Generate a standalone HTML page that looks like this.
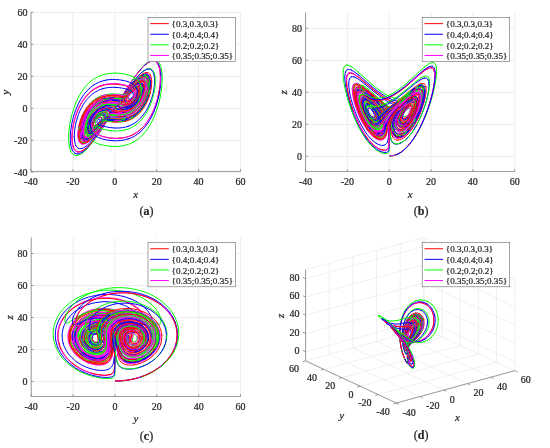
<!DOCTYPE html>
<html><head><meta charset="utf-8"><title>Figure</title>
<style>html,body{margin:0;padding:0;background:#fff}svg{display:block}
text{font-family:"Liberation Serif",serif;stroke:#262626;stroke-width:.22px}
.cv{fill:none;stroke-width:1.0;stroke-linejoin:round;stroke-linecap:round}
.r{stroke:#f00}.b{stroke:#00f}.g{stroke:#0f0}.m{stroke:#f0f}</style>
</head><body>
<svg width="550" height="448" viewBox="0 0 550 448" font-family="Liberation Serif, serif" font-size="10" fill="#262626">
<rect width="550" height="448" fill="#fff"/>
<g><path d="M31 12.4V172.3M72.9 12.4V172.3M114.8 12.4V172.3M156.7 12.4V172.3M198.6 12.4V172.3M240.5 12.4V172.3M31 172.3H240.5M31 140.32H240.5M31 108.34H240.5M31 76.36H240.5M31 44.38H240.5M31 12.4H240.5" stroke="#e6e6e6" stroke-width=".7" fill="none"/><g class="cv"><path class="g" d="M115.2 108l.1-.4 .5-1 7.7-12.6 4.5-7.1 4.3-6.6"/><path class="b" d="M115.6 107.7l.1-.5 .3-.7 2.1-3.6 6.7-10.9 5.2-8.1 3.4-5"/><path class="r" d="M115.4 107.9l.3-1 1.9-3.2 6-9.9 4.9-7.7 6.1-8.9"/><path class="m" d="M115.5 107.8l.3-1.1 1.7-2.8 6.3-10.3 5-7.9 6.2-9.1"/><path class="r" d="M114.7 108.5l-10.1 15.9M104.6 124.4l-6 8.9-3 4.1-2.8 3.6"/><path class="b" d="M133.4 78.9l3.3-4.6 3-3.8M114.8 108.4l-11.9 19-4.2 6.2-3.4 4.8-3.3 4.3-3.7 4.3"/><path class="g" d="M132.3 80.3l3.1-4.3 3.4-4.6 2.9-3.4M114.8 108.4l-12.8 20.5-4.8 7.1-3.7 5.2-3.5 4.3-3.7 4.2"/><path class="b" d="M106.9 120.2l-5.2 7.7-4.5 6.3-3.9 4.8"/><path class="m" d="M114.7 108.5l-10.1 15.8-6.5 9.8-5.4 7.1-2.5 2.9-2.6 2.8"/><path class="g" d="M124.7 93.7l5.6-8 5.4-7"/><path class="r" d="M134.6 77.2l5.2-6.7 2.1-2.4"/><path class="m" d="M135 76.6l2.5-3.3 2.8-3.4 2.2-2.4"/><path class="b" d="M123.8 95l5.7-8.3 4.9-6.3 2.2-2.7"/><path class="g" d="M115.8 107.3l.3-.6 8.6-13"/><path class="b" d="M114.1 108.7l0 .4-7.2 11.1M115.7 107.7l.1-.6 8-12.1"/><path class="m" d="M112.7 110.6l-1.2 2.1-4.2 6.1M107.3 118.8l-6.7 9.5-4.6 5.9-4.2 4.6"/><path class="b" d="M139.7 70.5l2.4-2.7 2.5-2.6"/><path class="r" d="M117.9 105.3l.4-.9 2-3.2 5.5-7.9 4.7-6.2"/><path class="m" d="M122.7 97.5l7.1-9.8 5-6.2 2.3-2.3M117.4 106.1l.2-.8 1.4-2.2 3.7-5.6"/><path class="r" d="M110 114.5l-6.1 8.8-4.7 6.3-3.8 4.6-3.5 3.6"/><path class="m" d="M113.8 107.9l.8 .4 .1 .2"/><path class="r" d="M117.9 104.3l10.2-14.8 5.6-7.2 3.2-3.6 2.5-2.3M111.9 111.8l-1.4 2.2-7.2 10.4-4.4 5.9-4 4.9-2.7 3-2.9 2.6"/><path class="b" d="M117.7 105.9l.2-.7 .6-1.3 1.4-2 6-8.8M125.9 93.1l4.6-6.1 3.8-4.6 3.4-3.6"/><path class="r" d="M92.8 141l-2.4 2.8-2.6 2.7-2 1.9"/><path class="b" d="M118.6 103.5l6.9-9.7 4-5.5 3.2-4 3.2-3.7 3-2.9"/><path class="r" d="M111.2 113l-10.3 14.6-3.1 4.1-2.9 3.4-2.7 2.9-2.9 2.6"/><path class="g" d="M110.1 114.2l-4.4 6.5-4.2 5.7-4 5.2-2.6 3.1-2.9 3-2.5 2.2"/><path class="r" d="M112 110.6l-.2 .7-.6 1.2-1.2 2"/><path class="b" d="M116.7 109.2l-1.9-.8"/><path class="g" d="M119.4 102.6l6.6-9.3 4.1-5.5 3.3-4 3.3-3.6 3-2.7M141.7 68l3-3.2 2.1-1.9"/><path class="r" d="M141.9 68.1l2.2-2.3 2.4-2"/><path class="g" d="M119.3 104.5l.2-.8 1.5-2.8 3.7-5.4M119.5 102.5l7.9-11 5.1-6.4 4.2-4.7 2.3-2.1"/><path class="m" d="M110 114.4l-8.5 11.6-3.1 3.9-2.5 2.9-2.4 2.5-2.5 2.2"/><path class="b" d="M93.3 139l-3.7 4.1-3.4 3"/><path class="r" d="M115.1 106.5l.7-.1 .5-.3 1.6-1.8"/><path class="g" d="M135.7 78.7l4.3-4.7 2.3-2.1"/><path class="r" d="M110.5 113.8l-8.7 12-3.1 4-2.5 3-2.4 2.6-2.5 2.4-2.3 1.7"/><path class="b" d="M121.3 100.4l4.4-6.2 4.3-5.7 3.8-4.5 2.6-2.6 2.7-2.4"/><path class="g" d="M124.7 95.5l4.4-5.9 3.9-4.7 3-3.2 2.7-2.5"/><path class="b" d="M118.4 104.6l.7-1.4 3.5-5.2 4.7-6.6 3.8-4.9 3.3-3.9 3.4-3.4 2.5-2.1 2.5-1.5M106.6 118.4l-4.4 6-4 5.1-3.4 3.8-2.5 2.4"/><path class="r" d="M118.2 105l.8-1.5 1.8-2.8 7.1-10.1 5-6.3 4.1-4.5 3.2-2.6 1.3-.9M114.2 110.5l-.8 .2-.6 .4-1.6 1.9"/><path class="g" d="M119.8 102.2l8.7-11.9 2.9-3.6 2.8-3.4 2.7-2.7 2.2-2"/><path class="m" d="M142.5 67.5l2.3-2.3 2.3-1.9"/><path class="b" d="M110.8 112.5l-2 3.3-4.7 6.7-4.1 5.5-3.9 4.7-3.1 3.3-2.9 2.6-2.4 1.5M136.6 77.7l2.4-2.7 1.9-1.8 2-1.7"/><path class="g" d="M112.3 107.4l1.5 .5 1 .5"/><path class="m" d="M111.1 112l-.7 1.4-1.3 2.1-5.6 7.9-4.6 6.1-3.7 4.4-3.3 3.4-2.7 2.1-2.2 1.2"/><path class="r" d="M112.3 109.4l.3 .6-.1 .6-.6 1.2"/><path class="m" d="M119.2 103.9l1.7-2.9 3.9-5.7 4.2-5.6 3.9-4.8 3.1-3.3 2.4-2.2 2.6-1.7"/><path class="b" d="M109.5 114.8l-8.4 11.4-2.7 3.3-2.7 3.1-2.5 2.6-2.3 2"/><path class="g" d="M116.4 108.3l-.4-.3-.2-.3 0-.4M107.9 116.6l-2.4 3.5-6.2 8.2-4.4 5.1-2.1 2-2.1 1.8"/><path class="m" d="M120.3 101.6l8.2-11 3-3.7 2.4-2.8 2.3-2.2 2.4-2.1"/><path class="r" d="M109.8 114.6l-8 10.9-5 6.1-2.2 2.4-2.4 2.3-2.1 1.7"/><path class="b" d="M115.7 105.8l.7-.1 .6-.3 .7-.7 .9-1.2"/><path class="m" d="M109.7 114.7l-8.2 11-3 3.8-2.4 2.8-2.3 2.4-2.4 2.2-2.1 1.5"/><path class="r" d="M119.4 103.7l.9-1.7 1.8-2.8 6-8.3 4.7-5.8 3.8-4 2.5-2.1 2.4-1.5"/><path class="b" d="M88.3 147l-3.2 3.1-2.4 1.9"/><path class="r" d="M113.9 111.5l-.9 .1-.8 .4-.8 .6-.9 1.2"/><path class="g" d="M109.8 111.7l.1 .6-.2 .8-.4 1.1-1.4 2.4M115.9 105.2l.9-.2 .8-.4 1.8-2"/><path class="b" d="M109.4 114l-2.1 3.5-4.2 5.8-3.7 4.9-3.7 4.2-2.5 2.5-2.6 2.2-2.2 1.3"/><path class="g" d="M111.1 109.8l.4 .4 .1 .4-.1 1.1-1.4 2.5"/><path class="m" d="M112.3 108.9l.5 .5 .1 .6-.2 .6"/><path class="g" d="M116 105l1-.2 .9-.5 1.6-1.8"/><path class="m" d="M113.5 111.9l-1 .2-.7 .4-.8 .6-1 1.3"/><path class="b" d="M109.5 111.4l.2 .5 0 1-.6 1.5-2.5 4"/><path class="r" d="M109.7 112.6l-.3 1.2-1.6 2.7-3.1 4.6-3.8 5-3.5 4.3-2.8 3-2.2 2-2.3 1.8-1.9 .9"/><path class="g" d="M116.2 104.6l1-.2 .8-.4 .8-.7 1-1.1"/><path class="r" d="M113.6 112.1l-1.1 .2-.9 .4-.8 .7-1 1.2"/><path class="m" d="M113.3 112.2l-1 .2-.8 .4-.8 .7-1 1.2"/><path class="g" d="M121 101.8l2.5-4 4.6-6.2 4.1-5.1 3.7-3.8 3-2.6 1.5-.9"/><path class="b" d="M119.7 106l-.3-.5-.2-.5 .1-.6 .2-.8 1.8-3.2"/><path class="g" d="M121.5 100.4l7.7-10 2.6-3.2 2.6-2.7 2.3-2.2 1.9-1.5"/><path class="m" d="M108.7 115.8l-7.6 9.9-4.7 5.6-2.1 2.2-2.2 1.9-1.9 1.4"/><path class="b" d="M113.2 112.4l-1 .2-.9 .4-.7 .6-1.1 1.2"/><path class="m" d="M108.7 114.4l-1.4 2.4-2.5 3.7-3.5 4.7-3.3 4.1-2.6 2.8-2.4 2.3-2.2 1.6-1.8 1M116.5 104.1l1-.1 .9-.5 .8-.7 1.1-1.2M108.3 116.1l-7.4 9.7-4.4 5.1-2 2.1-2.2 1.9-1.8 1.3M108.4 116l-7.3 9.6-4.7 5.5-2.1 2.1-2.2 1.9-1.8 1.3"/><path class="b" d="M123.1 99.2l2.4-3.5 3.3-4.4 3.2-3.8 2.7-2.8 2.2-1.9 2.3-1.5"/><path class="g" d="M86.3 149.7l-3.1 2.7-2 1.4"/><path class="r" d="M121.6 101.9l.6-1.3 2.2-3.6 3.7-4.9 3.9-4.7 2.8-2.9 2.7-2.3 2.3-1.5"/><path class="b" d="M118.7 106.8l-.5-.6-.1-.7 .3-.9M144.6 65.2l1.8-1.5 2.6-1.8"/><path class="m" d="M120.4 104l.2-1.2 .8-1.6 2.5-4 4.2-5.6 3.6-4.4 3.3-3.6 2.9-2.5 2.2-1.5 1.1-.4M121.3 100.5l7.5-9.7 4.7-5.5 2-2 2.2-1.9 1.8-1.2M121.3 100.5l7.5-9.7 4.7-5.5 2-2 2.2-1.8 1.8-1.2"/><path class="b" d="M111.8 107.6l2 .7 .3 .4M117.7 108.9l-1.1-.4-.7-.4-.2-.4"/><path class="m" d="M112.7 113.2l-1 .1-1 .5-.9 .7-1.1 1.3M107.8 116.6l-7.1 9.3-4.3 4.9-2 1.9-2.1 1.8-1.7 1.2M121.4 100.4l7.6-9.7 4.7-5.5 2-2 2.1-1.7 1.8-1.2M121.8 101.4l.8-1.5 2.9-4.3 4.2-5.6 3.8-4.2 2.6-2.5 2.4-1.9 2-1"/><path class="r" d="M105.5 118.5l-2.2 3.2-3 3.8-2.7 3.2-2.3 2.4-2.1 1.8-1.9 1.3"/><path class="b" d="M111 110l.4 .5 .1 .6"/><path class="m" d="M110.3 109.7l.6 .5 .3 .5 .1 .6-.2 .7M112.5 113.4l-1.1 .2-.9 .4-.9 .7-1.2 1.3M112.5 113.5l-1.1 .2-.9 .4-1 .7-1.2 1.3"/><path class="r" d="M119.3 107.5l-1.1-.7-.3-.4-.1-.4 .1-.7"/><path class="m" d="M117.1 103.2l1.2-.2 .9-.4 .9-.8 1.2-1.3M117 103.2l1.1-.2 1.1-.4 .9-.8 1.2-1.3"/><path class="r" d="M119.2 107.2l-.8-.6-.3-.7 .1-.9"/><path class="m" d="M91.8 138.8l-2.5 2.4-2.6 1.8M117.2 103.1l1.1-.2 1-.4 .9-.8 1.2-1.3M122 99.9l7.1-9.1 4.2-4.8 2-1.9 2-1.7 1.7-1.1"/><path class="g" d="M111.7 114.5l-1.1 .1-1.1 .5-1 .7-1.1 1.2-7.2 9.1M117.4 102.9l1-.1 1-.5 1-.8 1.1-1.1M100.2 126.1l-4.5 5.1-2.1 2-1.8 1.4"/><path class="m" d="M118.7 107.7l-.8-.4-.5-.6 0-.6M112.2 113.9l-1.1 .2-1 .4-1 .8-1.3 1.3M87.6 146.9l-2.1 1.9-2.1 1.6-2.1 1.1"/><path class="r" d="M120.2 106.5l-.7-.5-.4-.6 0-.7 .3-1M118 101.9l1.2-.2 1.1-.4 1.1-.8 1.2-1.3 6.8-8.5"/><path class="g" d="M108 114.4l-.6 1.4-1.7 3-3 4.2-3.4 4.2-3 3.5-2.6 2.5-2.3 1.9-1.8 1.1-1.8 .5M121.9 100l7.5-9.7 4.6-5.2 2.3-2.1 1.8-1.5 1.9-1.1"/><path class="b" d="M109.3 109.6l1.3 .7 .3 .5 .1 .5-.2 1.2"/><path class="g" d="M117.6 102.5l1.1-.1 1-.4 1.1-.9 1.1-1.1"/><path class="m" d="M117.5 102.5l1.2-.2 1.1-.4 1-.8 1.2-1.2"/><path class="g" d="M100.6 125.2l-3.7 4.3-3.2 3-1.6 1.3"/><path class="r" d="M120.2 109.9l-2.7-.5-2.8-.9M121.7 103.2l0-.8 .3-1 .7-1.3 2.2-3.6 3.8-5 3.7-4.3 2.7-2.8 2.6-2.1 2.3-1.3 1-.3"/><path class="b" d="M108.9 110.7l.5 .4 .3 .5 .2 1-.5 1.4"/><path class="g" d="M106 117.3l-1.9 3.1-2.7 3.6-2.7 3.3-2.9 3.1-2.3 2.1-2.1 1.5-1.6 .8"/><path class="r" d="M106.8 112.9l.5 .8 0 1.1-.4 1.3-1.4 2.4"/><path class="b" d="M103.2 121.1l-2.4 3.2-2.4 2.9-2.5 2.6-2.2 1.8-1.8 1.3"/><path class="r" d="M110.5 109l.8 .5 .5 .5 .2 .6"/><path class="m" d="M120.7 106.9l-1.3-.8-.3-.4-.1-.5 .2-1.3"/><path class="g" d="M110.9 115.4l-1.2 .2-1 .4-1.1 .7-1.2 1.3-6.8 8.3M111 114.8l-1.2 .2-1 .5-.9 .7-1 1.1-6.3 7.9"/><path class="m" d="M137.1 79.2l1.9-1.8 2.9-2.3 1.4-.7M108.1 111.4l.7 .7 .2 1-.3 1.3"/><path class="r" d="M129.4 90.7l4-4.4 1.9-1.7 1.8-1.5 1.6-1"/><path class="m" d="M120.2 100.3l1.3-.4 1.1-.7 1.4-1.2 5.5-6.5"/><path class="b" d="M122.5 104.5l-.5-.4-.3-.5-.1-.6 .3-1.3 1.2-2.5"/><path class="m" d="M122.1 104.8l-.6-.6-.2-.7 .1-1 .4-1.1"/><path class="b" d="M118.7 100.9l1.4-.2 1.3-.5 1.1-.8 1.2-1.2 5.9-7.1"/><path class="g" d="M121.7 105.6l-.6-.4-.5-.5-.2-.5 0-.7 .6-1.7"/><path class="b" d="M105.5 113.8l.5 .7 .1 .9-.3 1.3-.8 1.6-1.8 2.8"/><path class="r" d="M91.9 137.8l-2.8 2.4-2.3 1.5M122.9 101.4l.5-1.3 1.1-2.1 2-2.9 2.6-3.4 2.6-3 2.1-2.2 2-1.8 1.7-1.2 1.7-.9 1.1-.2"/><path class="b" d="M119.9 107.8l-.9-.4-.7-.4-.4-.5-.2-.6M137.7 78.8l2.6-2.2 2.7-1.7"/><path class="r" d="M85.8 148.4l-2.1 1.5-2 1.2"/><path class="b" d="M118.8 100.7l1.3-.2 1.3-.4 1.2-.8 1.2-1.1 6.4-7.6M129.6 91.1l3.6-3.8 3.1-2.7 1.2-.9"/><path class="g" d="M120.9 106.5l-.8-.4-.5-.5-.3-.5 0-.6"/><path class="r" d="M139.4 76.4l2.5-2.1 2.1-1.1M122.5 104.9l-.8-.5-.3-.7-.1-.9 .3-.9"/><path class="g" d="M106 113.1l.6 .6 .3 .9-.2 1.2-.7 1.5"/><path class="r" d="M146.5 63.8l1.5-1.1 2.4-1.3"/><path class="g" d="M99.6 126.3l-3.9 4.2-1.9 1.7-1.7 1.3-1.6 .9"/><path class="b" d="M130.2 90.6l3.5-3.7 3.1-2.5 1.2-.7"/><path class="g" d="M146.8 62.9l2.2-1.6 2.2-1.1M124.3 100.3l.4-1.2 .8-1.5 1.7-2.7 2.2-2.9 2.3-2.6 2.2-2.2 1.7-1.5 1.7-1.1 1.7-.8 1.3-.1"/><path class="r" d="M107.5 110.4l1.3 .5 .7 .7 .2 1"/><path class="m" d="M123.9 102.2l-.2-.9 .2-1.1 .7-1.4 1-1.8 1.5-2.1 2-2.7 2.2-2.5 2.2-2.3 1.8-1.6 1.6-1.1 1.5-.8 1.5-.3 1.1 .2"/><path class="g" d="M103.6 114.9l.6 .5 .3 .7 0 .9-.4 1.1-.8 1.6-1.3 2M106.4 111.8l1.1 .6 .3 .4 .2 .5 0 1.1"/><path class="b" d="M103.5 115.1l.6 .6 .2 .7-.1 1-.5 1.3-.8 1.4-1.4 2.2"/><path class="m" d="M125.9 97.9l.9-1.5 1.4-2.1 1.8-2.2 1.9-2.1 1.9-1.9 1.5-1.2 1.6-.9 1.3-.5"/><path class="g" d="M102 121.7l-1.8 2.4-2 2.3-2 2.1-1.9 1.6-1.5 1-1.6 .7"/><path class="b" d="M105.1 115.9l-.2 1.1-.5 1.3-.9 1.6-1.7 2.5-2.1 2.6-2.1 2.4-2.1 2-1.9 1.5-1.6 1-1.3 .4-1.2 0"/><path class="m" d="M109.8 115.7l-1.2 .4-1 .7-1.3 1.3-6.7 8.1-2.3 2.5-1.9 1.9-1.7 1.4-1.8 1.3-1.4 .7-1.4 .3-1.2-.2"/><path class="r" d="M124.5 100.9l.1-1 .5-1.2 .8-1.5 1.2-1.9 1.9-2.4 1.9-2.3 1.9-2 1.9-1.7 1.7-1.2 1.4-.8 1.3-.3 1 .1"/><path class="m" d="M147.1 63.3l1.6-1 2.4-1.1"/><path class="r" d="M124.2 101.8l-.1-1 .3-1.1 .7-1.5 1.4-2.3 2.2-2.9 2.3-2.9 2.4-2.4 2-1.7 1.7-1.2 1.5-.7 1.4-.1 .9 .3"/><path class="b" d="M101.5 122.3l-2 2.4-1.9 2.1-1.9 1.8-1.4 1.2-1.5 .9-1.5 .6M125 100.3l.2-1.1 .6-1.3 1-1.7 1.2-1.9 1.8-2.3 2-2.2 1.7-1.6 1.8-1.5 1.5-1 1.3-.6 1.1-.1 1 .3M138.9 77.7l2.7-2 1.5-.9 1.1-.3"/><path class="m" d="M123.2 106.1l-1.6-.5-.9-.7-.3-.9"/><path class="b" d="M92.3 135.7l-2.7 1.9-2.1 1"/><path class="r" d="M127 101.2l-.6-.4-.4-.6-.1-.8 .2-.9 .6-1.3 1.1-1.8M127.8 95.4l1.4-1.9 1.7-2.1 1.7-1.7 1.6-1.4 1.4-1.1 1.4-.7 1.1-.2"/><path class="g" d="M142.3 71.9l1.6-1.2 2.4-1.4 1.6-.5"/><path class="b" d="M86.2 146.1l-2.7 1.7-1.4 .6"/><path class="g" d="M100.8 122.6l-1.6 1.9-1.6 1.8-1.8 1.7-1.3 1-1.3 .8-1.3 .5"/><path class="b" d="M104.1 115.6l.2 .7-.1 1-.3 1.1-.8 1.4-1.4 2.1-1.8 2.5-1.9 2.1-1.9 1.8-1.7 1.5-1.5 .9-1.5 .6-1 .1-1-.4"/><path class="g" d="M103.6 118.1l-.5 1.2-2 3.2-3.3 3.8-1.6 1.6-1.6 1.4-1.5 .9-1.1 .5-1 .2"/><path class="r" d="M109.2 108.3l1.3 .2 1.1 .4 .7 .5"/><path class="g" d="M139.7 77.5l1.8-1.3 1.2-.7 1.2-.5"/><path class="r" d="M125.1 104l-1.1-.3-.7-.5-.4-.8 0-1"/><path class="m" d="M126.8 101.9l-.8-.4-.6-.6-.1-.8 .2-1 .4-1.2"/><path class="g" d="M89.5 139.9l-2.5 1.7-1.9 .8M138.7 79.2l2.3-1.6 2.2-1M139 78.3l1.8-1.4 2.4-1.3 1.1-.3"/><path class="r" d="M89.3 140.8l-2.5 1.7-1.5 .7-1 .3"/><path class="m" d="M110.3 116.6l-1.4 .2-1.2 .4-1.1 .7-1.4 1.2-5.8 6.6-3 3.1-2.5 2.1-2.1 1.2-1.2 .4-1 0-1-.4"/><path class="r" d="M104.3 115.2l.3 .7-.1 1-.3 1.2-.8 1.4-1.4 2.2-1.8 2.4-2.1 2.4-1.9 1.9-1.8 1.5-1.6 1-1.3 .5-1.2 .1-.9-.3-.6-.7M119.1 100.3l1.6-.2 1.2-.5 1.1-.7 1.3-1.2 6.1-7.1 3.6-3.6 1.6-1.3 1.5-1 1.3-.6 1.2-.3 1 .1 .7 .5M89.3 140.6l-2.4 1.6-1.5 .7-.9 .3"/><path class="b" d="M142.9 71.5l2-1.3 1.3-.6 1.9-.6"/><path class="m" d="M103.9 115.6l.3 .6-.1 1-.3 1.1-.7 1.4-1.3 2-1.7 2.3-2 2.3-1.9 1.8-1.5 1.3-1.5 1-1.3 .5-1.2 .2-.8-.3-.6-.6"/><path class="g" d="M110.2 116.4l-1.4 .2-1.1 .4-1.1 .8-1.2 1-6.5 7.6-3.5 3.6-1.8 1.5-1.4 .9-1.4 .7-1.4 .2-.9-.1-.5-.2"/><path class="b" d="M106.9 108.8l2.4 .3 1.1 .4 .6 .5"/><path class="g" d="M106.1 110.1l1.2 .1 1.1 .3 .9 .6 .5 .6"/><path class="r" d="M110.6 116.3l-1.4 .2-1.2 .3-1.1 .7-1.3 1.2-6.6 7.6-3.6 3.6-1.5 1.3-1.6 1-1.5 .6-1.2 .2-.8-.2-.7-.5M124.7 105.1l-1.3-.2-.9-.4-.6-.6-.2-.7"/><path class="b" d="M119.6 100l1.4-.2 1.1-.4 1.1-.7 1.4-1.3 5.7-6.5 3.1-3.2 2.8-2.2 1.1-.7 1.1-.5 1-.2 1 .1 .8 .4"/><path class="m" d="M91 137.5l-2.1 1.5-1.7 .9-1.6 .4"/><path class="b" d="M106 110.1l1.9 .3 1.2 .6 .4 .4"/><path class="r" d="M118.8 111.9l-4.9-.4"/><path class="g" d="M126.7 102.8l-1.2-.2-.9-.6-.3-.7 0-1M107.4 108.7l2.2 .4 1.5 .7"/><path class="m" d="M119.9 99.8l1.2-.2 1.2-.4 1.1-.7 1.3-1.1 6-6.8 3.4-3.3 1.5-1.2 1.5-.9 1.2-.5 1.1-.2 .9 .2 .7 .5M108.7 108.1l1.4 .1 1.3 .3 .9 .4"/><path class="b" d="M109.9 117l-1.4 .2-1.2 .3-1.2 .7-1.2 1.1-6.3 7-3.3 3.2-1.6 1.2-1.4 .8-1.3 .5-.9 .1-.9-.2-.7-.6"/><path class="m" d="M118.4 112.6l-5.1-.4"/><path class="r" d="M122.1 98.6l1.4-.5 1.2-.7 1.2-1 5.2-5.5 2.6-2.5 2.3-1.6 1-.5 1-.2 1 0 .7 .5"/><path class="g" d="M139.1 78.6l2.3-1.5 1.7-.8 1.1-.3M110.9 104.1l5.3 .5"/><path class="m" d="M138.6 79.8l2-1.3 1.5-.7 1.5-.2M111.2 103.7l5.3 .4M121.9 98.6l1.5-.4 1.2-.7 1.2-1 5.4-5.7 2.6-2.5 2.4-1.6 1-.4 .9-.2 1 .1 .7 .5"/><path class="b" d="M139.1 79l2.3-1.4 1.4-.6 .8-.2"/><path class="g" d="M90.7 137.2l-1.6 1.1-1.1 .6-1.1 .4-1 .2M120.4 98.8l1.3-.1 1.3-.3 1.3-.7 1.4-1.1 5.5-6 3.1-2.8 1.4-1.1 1.2-.7 1.1-.4 1.1-.1 .7 .2 .5 .4M101.4 115.5l1.1-.1 .7 .3 .5 .5 .1 .9-.2 1"/><path class="b" d="M82.7 152l-1.7 .9-1.6 .7-1.6 .3"/><path class="r" d="M107.3 118.5l-1.3 .3-1.3 .7-1.3 1-5.2 5.3-2.5 2.2-2.1 1.4-.9 .4-.9 .2-.8-.1-.6-.4M90.1 138l-1.6 1-1.7 .7-1.5 .2"/><path class="b" d="M90.9 137.2l-2.2 1.5-1.8 .7-1.7 .2"/><path class="m" d="M106.2 106.8l2.6 0 2.5 .4 2.5 .7"/><path class="b" d="M122.2 98.3l1.3-.3 1.2-.7 1.4-1 5.5-5.7 2.6-2.3 2.2-1.4 1.1-.3 .7-.1 .7 .2 .6 .4"/><path class="m" d="M117.6 115.8l-6.3-.3-1.5 .2"/><path class="g" d="M123.6 109.4l-2.3 0-2.7-.3-2.2-.8"/><path class="b" d="M149 61.9l1.8-.9 1.7-.4"/><path class="m" d="M105.4 108.9l2.7 .1 1.3 .3 .9 .4"/><path class="b" d="M128.8 95.7l1.5-2.1 1.9-2.1 2.1-1.7 1.7-.8 .6-.1 .6 .1"/><path class="r" d="M124.6 97l1.2-.5 1.3-.9 4.7-4.5 2-1.6 1.8-1.1 1.4-.4 .7 .2 .5 .3"/><path class="g" d="M121.6 98.9l1.1 0 1-.3 1.1-.7 1-.9 4.8-5.4 2.5-2.5 2.2-1.7 1.9-1 1-.2 .9 .1 .7 .5 .4 .6"/><path class="m" d="M111.3 102.7l5.9 .4"/><path class="b" d="M123.3 107.7l-1.9-.1-1.5-.2-1.2-.6"/><path class="r" d="M89 139.5l-1.7 1-1.7 .6-1.3 .1"/><path class="b" d="M100.6 121.5l-1.9 2.5-2.4 2.4-2 1.3-.9 .4-.8 0-.6-.1"/><path class="g" d="M106.1 110.8l1.4 .4"/><path class="b" d="M125.2 107l-2.1 0-2.1-.3-1.3-.7"/><path class="r" d="M127.6 102.3l-1.2 .1-1-.2-.7-.5-.2-.8"/><path class="m" d="M112.2 100.1l6.6 .4 1.4-.2"/><path class="r" d="M122.5 111.2l-2.3 0-6-.7"/><path class="g" d="M138.6 80.8l2-1.2 1.4-.5 1.3-.1M92.1 133.8l-1.3 .7-2 .8-1.1 .1M108.3 118.8l-1.6 .1-1.3 .3-1.2 .6-1.2 .9-5 5.1-2.5 2.2-2.3 1.4-.9 .3-.7 .1-.7-.2-.7-.5-.4-.9"/><path class="b" d="M107.6 119.2l-1.3 .1-1.1 .2-1.3 .6-1.3 1-4.7 4.5-2.3 1.9-1.9 1.1-1.4 .3-.7-.2-.6-.4-.3-.8"/><path class="m" d="M120.8 112.4l-2.3 0-5-.5"/><path class="r" d="M101.7 118l.1 .5-.2 .8-.9 1.9-1.9 2.6-2.3 2.3-2 1.4-.9 .4-.7 .1-.7-.2-.4-.4-.3-.7"/><path class="g" d="M91.8 134.6l-1.8 1.2-1.4 .5-.8 .2-.8 0"/><path class="m" d="M120.5 113.5l-7.8-.3"/><path class="g" d="M81.2 153.8l-1 .6-2.1 .9-2 .2"/><path class="b" d="M130.6 98.8l-.7 .3-.8 .1-.6-.1-.4-.3-.1-.5 0-.7 .8-1.9"/><path class="g" d="M107.8 119.3l-1.4 0-1.4 .3-1.3 .6-1.2 .9-4.7 4.5-2.3 1.9-1.8 1.2-.9 .2-.8 .1-.6-.2-.6-.5-.3-.8"/><path class="r" d="M106.1 105.8l2.4-.1 2.6 .2 4 .6"/><path class="m" d="M89.3 138.4l-1.6 .8-1.6 .5-1.1 0"/><path class="r" d="M104.9 108.5l3.1 0 1.3 .2 1.2 .3"/><path class="m" d="M104.1 120.3l-1.1 .5-1.3 .8-4 3.6-1.8 1.4-1.5 .8-1.1 .3-.7-.2-.4-.3-.4-.6M90.5 136.2l-1.4 .8-1.8 .5-1.2-.1M90.6 135.7l-1.4 .7-1.3 .4-1.2-.1"/><path class="r" d="M114.9 96.9l6.7 .5 1.7-.1 1.3-.3"/><path class="b" d="M104.1 120.4l-1.3 .5-1.1 .7-4.2 3.7-1.7 1.3-1.5 .8-1.1 .2-.6-.1-.4-.3-.4-.6M123.9 109.8l-2.4 .1-2.4-.2-2.4-.5"/><path class="m" d="M90.2 136.8l-1.5 .8-1.8 .4-1.3-.1M86.7 143l-1.5 .8-1 .3-1 .1-1 0M124.8 108.4l-1.7 .1-1.7-.1-1.5-.3-1.2-.4M90.3 136.4l-1.4 .8-1.8 .4-1.2-.1"/><path class="b" d="M103.4 110.2l2.3-.2 1.8 .2 1.4 .5"/><path class="r" d="M112.9 98.3l7.5 .5 1.7-.2"/><path class="m" d="M113.2 98.3l7.2 .4 1.5-.1M139.5 80.3l1.4-.7 1.4-.3 1.3 .1"/><path class="g" d="M105.9 106.9l3.2 0 3.2 .5"/><path class="r" d="M141.5 76.3l1.4-.7 1.3-.4 .8-.1 1.2 .1"/><path class="m" d="M139.5 80.2l1.5-.7 1.3-.3 1.3 .1"/><path class="r" d="M125.8 107.1l-1.6 .1-1.6 0-1.3-.3-1.1-.4M125.7 107.8l-1.8 .2-1.9-.1-1.6-.3-1.2-.4"/><path class="m" d="M114.2 120.6l-7-.6-1.7 0-1.4 .3"/><path class="b" d="M113.8 120.7l-6.6-.6-1.7 0-1.4 .3"/><path class="r" d="M115.8 118.9l-6.9-.5-1.6 .1M113 122l-7.2-.8-2.6 .1-1.2 .2-1.1 .5"/><path class="m" d="M139 81.3l1.3-.6 1.6-.4 1.1 .2"/><path class="b" d="M112.8 97.8l8.1 .6 1.3-.1"/><path class="g" d="M106.1 120.9l-1.5 0-1.2 .1-1.2 .4-1 .5-4.9 3.7-1.3 .8-1 .2-.6 0-.4-.3-.3-.5-.1-.6 .2-1.7 .8-2 1.2-1.8 1.4-1.5 1.8-1.4 1.8-.8 1.1-.3 1 0 .8 .3 .5 .5 .2 .8-.2 .9-.4 1.1-.7 1.3-1.3 2"/><path class="r" d="M125.3 108l-2 .2-2.2-.2-1.8-.5"/><path class="g" d="M140.4 79.2l1-.5 1-.3 .9-.2 .9 .1"/><path class="m" d="M139.6 80.3l1.4-.6 1.4-.3 1.2 .2M128.6 102.6l-1.6 .4-1.4 .1-1.1-.3-.6-.6"/><path class="r" d="M138.7 82.1l1.2-.6 1.5-.2 1 .2"/><path class="b" d="M107.4 105.5l2.4-.2 5.9 .5"/><path class="r" d="M123.3 96.1l1.6 0 1.4-.3 1.1-.4 1.1-.7 3.7-3 1.4-1 1.1-.5 1-.3 .5 .1 .5 .3 .3 .5 .1 .6-.3 1.7-.8 2-1.1 1.7-1.5 1.6-1.6 1.2-1.8 .8-1 .3-1 0-.7-.3-.5-.4-.2-.7 .1-.8 .3-1.1 .6-1.1 2.4-3.3 2.9-3.1 1.4-1.2 1.3-.9 1.1-.4 .9-.2 .7 .1 .6 .4 .4 .7 .3 .9"/><path class="g" d="M126.5 106.7l-2.2 .3-2.4-.2-1-.3"/><path class="b" d="M98.6 119.2l.8-.2 .4 .1 .2 .3-.1 1-.6 1.3-1.1 1.4-1.2 1.3-1.3 .9-1.1 .4-.7-.1-.5-.7 .1-1.2 .5-1.4 .8-1.5 1-1.2 1.3-1.2 1.3-.8 1.3-.4 .8-.1 .7 .2 .4 .3 .2 .5 0 .6-.2 .9-1 1.9M107 120.1l-1.4 0-1.4 .2-1.3 .5-1.2 .8-4.2 3.7-1.8 1.3-1.4 .8-1.1 .2-.6-.2-.5-.3-.2-.6-.2-.8 .3-2"/><path class="r" d="M91.3 134.2l-1.8 .8-1.4 .2-1-.3M144 73.2l1.9-.7 1.4 0M81.7 151.1l-2.1 .6-1.3 .1"/><path class="b" d="M122.4 112.8l-2.1 .1-7.1-.5"/><path class="m" d="M141 77.7l2-.9 1.6-.2 .7 .2"/><path class="b" d="M137.5 83.7l1.3-.6 1.2-.3 1.1 0 .9 .4M87.7 140.1l-1.9 .7-.9 .2-.9-.1"/><path class="g" d="M106.4 120.3l-1.7 .1-1.3 .3-1.1 .5-1 .7-3.8 3.3-1.5 1.1-1.3 .8-1.2 .3-.7 0-.5-.3-.3-.5-.2-.7 0-.9 .2-1.1"/><path class="r" d="M118.1 116.7l-7.5-.4M86.8 141.7l-1.4 .5-.9 .2-.8 0-.9-.2"/><path class="b" d="M104.2 107.3l2.3-.2 2.7 0 2.6 .5M126.5 107.8l-2.5 .3-2.8-.1-1.3-.2M125.8 109.1l-2.3 .4-3-.1-2.8-.5"/><path class="r" d="M150.4 61.4l1.5-.4 1.5-.1"/><path class="b" d="M91.9 132.9l-1.8 .7-1.4 .1-.9-.4M139.2 81.3l1.8-.8 1.3-.1 1.2 .4"/><path class="g" d="M105.6 104.9l2.1-.2 1.9-.1 6.3 .6"/><path class="r" d="M139.8 80.7l1-.3 1-.2 .8 0 .8 .3"/><path class="m" d="M81.3 151.5l-2.1 .6-1.3 0"/><path class="b" d="M88.4 138.4l-1.3 .5-.8 .1-.8 0-.7-.1"/><path class="m" d="M127 106.9l-2.4 .4-2.1-.1-1.8-.3"/><path class="g" d="M124.7 95l2.4 0 1.2-.3 1-.3 3.9-2.5 .8-.4 .7-.2 .4 .1 .4 .2 .3 .8-.1 1.2-.7 1.4-.9 1.4-1.2 1.3-1.3 .9-1.2 .5-.9 .2-.6-.1-.5-.2-.3-.5-.1-.5 .1-.7 .9-1.9 1.8-2.5 2.3-2.3 2-1.4 .9-.4 .7-.1 .8 .2 .4 .4 .3 .6 .1 .9 0 1.1-.3 1.2"/><path class="b" d="M102.5 109.6l2.4-.4 2.4 0 2 .4"/><path class="m" d="M123.9 95.3l1.6 .1 1.4-.1 1-.3 1-.4 4.3-2.9 1-.5 .9-.2 .4 .1 .3 .3 .2 .4 .1 .6-.4 1.4-.7 1.6-1 1.3-1.4 1.3-1.3 .8-1.3 .5-.7 0-.6-.1-.4-.3-.3-.5 0-.6 .3-.8 1-2 1.9-2.4 2.1-2.1 2-1.3 .8-.2 .7 0 .6 .2 .3 .5 .3 .7 0 .9-.5 2.1-1.1 2.3"/><path class="r" d="M122.6 96.5l1.5-.1 1.3-.1 1.1-.4 1.1-.6 5.6-4.6 1.5-.9 1.1-.4 .7 0 .4 .2 .4 .5 .2 .6 0 .9-.1 .8-.7 2.1"/><path class="m" d="M143.3 74.4l1-.4 1.4-.3 .9 .1 .8 .2"/><path class="r" d="M141.5 77.5l2-.6 1.1 0 .7 .2"/><path class="b" d="M143 74.9l2-.6 1-.1 .9 .2"/><path class="r" d="M124 112.3l-2.1 .2-3.1 .1-5.2-.5"/><path class="g" d="M90.5 134.4l-1.2 .4-1.4 .1-1-.3M140 80.4l1.3-.5 .9-.2 .8 0 1.2 .4"/><path class="r" d="M100.9 122l-4.5 3.1-1.1 .5-.8 .2-.4-.1-.4-.2-.2-.4-.1-.5 .2-1.3"/><path class="g" d="M121.6 114.7l-2.4 .1-7.5-.3"/><path class="b" d="M138 83.7l1.2-.5 1.1-.2 1 .2 .9 .6"/><path class="m" d="M87 140.6l-1.3 .5-.8 .1-.8-.1-.8-.2M106.6 103l2.6-.2 7.8 .4"/><path class="b" d="M142.8 75.6l2-.6 .9 0 .9 .2"/><path class="m" d="M123.5 114l-3.2 .2-8.1-.3"/><path class="g" d="M104.3 105l1.8-.3 2.1-.2 1.9 0 5.9 .5M151.2 60.2l2.1-.6 1.1-.1"/><path class="m" d="M89 137l-1.8 .5-1.2-.1-1.1-.7M140.5 80.4l1-.2 .9-.1 .9 .3 .7 .4"/><path class="r" d="M88.2 138.1l-1.5 .4-1.3-.1-1.2-.6M93.6 123.3l.7-1.6 .9-1.4 1.4-1.4 1.4-1 1.3-.6 .9-.1 .7 0 .5 .3 .3 .5"/><path class="b" d="M107.8 100.7l3.7-.2 7.2 .4"/><path class="r" d="M106.7 101.8l2.9-.2 8.4 .3"/><path class="m" d="M141.2 79.2l1.1-.3 1 0 .6 .1 1.1 .7"/><path class="g" d="M120.5 115l-3.3 .1-6.2-.3"/><path class="m" d="M151.1 61.2l1.5-.3 1.5 .1"/><path class="g" d="M89.8 134.8l-1.5 .3-.7-.1-.7-.2-.8-.7"/><path class="b" d="M92 128l-.4-.5-.3-.7-.1-1 .4-2.2 1.2-2.6 1.5-2.3 1.9-1.8 2.2-1.6 2.3-1 1.4-.2 1.3 0 1 .4 .5 .7 .2 .7M144.2 74.5l1-.3 1 0 .9 .2 .8 .5"/><path class="r" d="M84.5 143.2l-1 .1-.8-.1-1.2-.5"/><path class="b" d="M87.5 138.6l-1.3 .3-.7 0-1.1-.4-.6-.5M137.2 89l.5 .4 .3 .7 .1 .8-.1 1.1-.3 1.3-.6 1.3-1.4 2.4-1.6 1.9-2.1 1.6-2 1.1-2.2 .5-1.2 0-.8-.3-.6-.6-.2-.9M82.1 148.4l-1.3 .2-1.3 0-1.2-.4"/><path class="r" d="M141 80.7l.9 0 .8 .1 .7 .4 .6 .6"/><path class="g" d="M143.9 75l1.2-.2 1.7 .1 1 .5"/><path class="r" d="M102.3 109.3l2.3-.7 1.7-.3 1.4-.1 1.5 .1"/><path class="g" d="M91.2 131.8l-1.1 .1-1-.3-.6-.5-.5-1.1"/><path class="m" d="M91.8 126.6l-.1-.7 .2-1.9 .9-2.3 1.3-2 1.6-1.9 2-1.5 1.9-1 1.4-.3 1.2-.1 1 .2 .7 .5"/><path class="b" d="M91.8 126.6l-.1-.8 .1-1 .2-1.2 1-2.3 1.4-2 1.6-1.8 2.1-1.5 1.9-.9 1.3-.3 1.2 0 1 .2 .6 .6"/><path class="g" d="M85.1 142.4l-1.8 .2-1.1-.2-.5-.2"/><path class="m" d="M138.2 85.5l1.1 0 .8 .4 .5 .8 .4 1.1"/><path class="g" d="M118.2 121.7l-4.7-.1-7.4-.7"/><path class="r" d="M91.5 126.7l-.1-.8 .3-2.1 1-2.4 1.4-2.1 1.8-1.9 2-1.5 2-1 1.4-.3 1.2-.1 1 .2 .8 .5"/><path class="b" d="M91.3 131.3l-1 0-.9-.4-.5-.7-.4-1"/><path class="r" d="M84.3 143.5l-.9 .1-.9-.1-.8-.3-.8-.5M136.7 94.5l-1.2 2.1-1.5 1.7-1.8 1.5-1.8 1-1.3 .4-1.1 .1-1-.1"/><path class="g" d="M144.3 75.3l1.2-.1 1 .2 1 .5"/><path class="b" d="M92 123.7l1-2.3 1.3-2 1.8-1.9 2-1.5 1.9-.8 1.3-.4 1.3 0 .9 .3"/><path class="g" d="M147.9 68.8l1.5-.2 1.5 .4M121.1 119.2l-2.5 .1-3.5 0-6.8-.5"/><path class="r" d="M110.4 95.7l4.6 .1 7.6 .7"/><path class="g" d="M91.9 130.3l-.9 0-1-.4-.6-1-.3-1.7M112.6 93.9l4.1 .2 8 .9"/><path class="r" d="M105.2 100.4l2.9-.4 3.9-.1 7.1 .4"/><path class="g" d="M92 123.9l.9-2.4 1.4-2.1 1.7-1.9 1.9-1.4 1.8-1 1.5-.4 1.3-.1 1.1 .3"/><path class="r" d="M126.2 111.4l-2.2 .4-2.4 .2-2.8-.1"/><path class="g" d="M102.2 103.4l3-.8 2.7-.3 2.4-.1 7.3 .3M143.2 76.6l1.6-.2 1.4 .4 .9 .6M102.3 103.8l2.2-.7 2.7-.4 2.4-.1 7.8 .3"/><path class="m" d="M125.9 112.1l-2.3 .4-2.9 .2-2.3-.1"/><path class="r" d="M138.2 88.5l.4 .6 .2 .8 0 1.1-.2 1.2-.4 1.3-.6 1.4-1.3 2.2-1.9 2.2-2.1 1.7-2.3 1.3-1.6 .5-1.4 .2-1.3-.1-1-.5-.5-.6"/><path class="m" d="M136.4 95.7l-1.4 2.1-1.8 1.7-2 1.4-1.9 .7-1.3 .3-1.2 0"/><path class="r" d="M138.1 86.3l.9 .2 .7 .4 .5 1 .2 1.2"/><path class="b" d="M123.8 117l-2.7 .3-2.9 .1-8.3-.4"/><path class="m" d="M128.3 112.4l-2.7 .8-2.6 .4-2.6 .2-7.9-.3M128.4 112.3l-2.8 .9-2.5 .4-2.6 .2-8-.4"/><path class="g" d="M87.8 136.7l-.8 .1-.8-.2-1-.6-.9-1.1"/><path class="r" d="M140.3 82.4l1 0 .9 .4 .7 .7 .5 1.2"/><path class="b" d="M115 128l-4.9-.4-4.4-.8-4-1.1-2.7-1.1-1-.7-.7-.7-.4-.8-.1-.7 .3-1 .7-.9 .8-.6"/><path class="m" d="M101.2 104.3l2.8-.9 2.5-.4 2.6-.2 8 .4"/><path class="b" d="M143.6 76.8l.9 0 .8 .2 1 .6 .7 .6"/><path class="g" d="M85.9 139.5l-1 0-.9-.3-1.2-.9M121.5 120.9l-3.6 .2-3.9-.1-7.6-.7"/><path class="m" d="M104.5 100l3.1-.5 2.8-.1 9.5 .4"/><path class="b" d="M90.7 127.5l-.2-.8 .1-1.3 .3-1.2 1-2.6 1.3-2.3 2-2.4 2.2-1.8 2.5-1.3 1.7-.5 1.5-.2 1.4 .2 1 .5"/><path class="m" d="M101.2 103.6l2.9-.8 2.6-.5 2.8-.1 8 .3"/><path class="g" d="M127.1 114.5l-2.4 .7-3 .4-2.6 .2-8.2-.4M91 130.9l-.9-.2-.6-.3-.3-.4-.4-1.1-.2-1.5M144.2 76l1.1 0 1.4 .6 .9 .7"/><path class="b" d="M103.1 101.3l2.7-.6 2.5-.3 2.7-.1 7.8 .4"/><path class="r" d="M108.7 95.4l3.3-.2 3.9 .2 7.4 .7"/><path class="m" d="M101.2 109.7l2.1-.9 2.4-.6 3-.1"/><path class="g" d="M90.5 127.5l-.1-1.1 .1-1.3 .2-1.1 1.2-2.9 1.5-2.5 2-2.2 2.1-1.7 2.4-1.3 1.9-.6 1.7-.2 1.5 .1 1 .4M126.4 115.8l-2.6 .6-2.3 .3-2.8 .1-8.5-.4M138 93.1l-1.1 2.4-1.3 2-1.9 2.1-2.1 1.6-2 1-1.6 .5-1.3 .1"/><path class="r" d="M90.4 129.5l-.5-.7-.2-1 0-1.3 .1-1.2 .5-1.6 .5-1.4 1.5-2.8 1.9-2.5 2.5-2.2 2.5-1.6 1.9-.7 1.8-.4 1.6 0 1.4 .3 .9 .5"/><path class="b" d="M139.5 87.1l.4 .6 .2 1 0 2.1-.7 2.7-1.1 2.5-1.5 2.3-1.8 2.2-2.3 1.9-2 1.3-1.9 .8-2 .5-2.1 .1-1.6-.3-.6-.3"/><path class="g" d="M123.8 119.3l-2.8 .4-4.8 .2-8.4-.6"/><path class="b" d="M102.8 100.7l2.9-.7 2.6-.3 2.9-.1 8.4 .4M148.1 69l1.2 0 1.2 .4 1.1 .7M122.3 120.5l-2.3 .3-2.9 0-3-.1-7.1-.6"/><path class="r" d="M85.3 139.9l-.7-.1-.7-.3-.9-.7-.5-.6"/><path class="m" d="M100.9 105.2l2.6-.8 2.4-.5 2.9-.2 2.4 0M126.7 115.9l-2.6 .6-2.9 .4-2.6 .1-8.3-.4"/><path class="g" d="M108.7 98.6l2.3-.2 2.7-.1 7.9 .6"/><path class="b" d="M115.1 87.3l3.6 .3 3.8 .6 3.5 .8 2.6 .9 2 .9 1.5 1.1 .9 1.1 .3 1.4 0 .8-.3 .8-.4 .9-.6 .7-1.4 1.2"/><path class="m" d="M85.6 140.3l-1.5-.2-.7-.3-.6-.6-.8-1.1"/><path class="g" d="M103.8 99.3l1.9-.4 2.6-.4 4.4-.1 7.7 .4"/><path class="b" d="M152.5 60.6l1.7 0 1.6 .5"/><path class="m" d="M143.6 77.6l1.4 .2 .6 .4 .6 .5 .6 1.1M139.8 86.7l.5 .8 .2 1.2 0 1.5-.3 1.7-.6 1.9-.7 1.6-1.8 3-1.1 1.4-1.5 1.5-1.2 1-1.6 1.1-2.7 1.3-1.7 .5-1.4 .2-1.5 0-1.2-.2-1.1-.4"/><path class="r" d="M139.6 89.3l0 1.2-.3 1.4-1 2.8-1.6 2.9-1.9 2.3-2.4 1.9-2.4 1.4-1.7 .5-1.7 .3-1.5 0"/><path class="g" d="M89.8 128.2l-.1-.9 0-1.4 .2-1.2 1-2.8 1.5-2.8 2.1-2.6 2.3-2.1 2.4-1.5 1.8-.8 2.1-.4 1.9-.1 1.4 .2"/><path class="b" d="M85.2 139.6l-.8-.2-.7-.3-.6-.6-.6-.8"/><path class="g" d="M140.3 83.7l1.1 .3 .6 .7 .6 1.3 .2 1.4"/><path class="m" d="M100.9 104.3l2.8-.9 2.6-.5 2.7-.2 2.3 0"/><path class="r" d="M139.7 86.6l.5 .7 .3 1.1 0 1.4-.2 1.7-.5 1.8-.7 1.6-1.7 3-1 1.4-1.5 1.6-1.2 1.1-1.5 1.1-2.7 1.4-1.7 .6-1.5 .2-1.5 .1-1.2-.1-1.1-.4"/><path class="g" d="M87.7 135.4l-.7-.2-.6-.4-.6-.5-.4-.8-.4-.9M111.4 130.8l-5-.8-4.5-1.1-3.1-1.3-1.2-.6-.8-.8-.7-.7-.6-1.1-.3-1.2 .1-1.4 .4-1.4 .7-1.3 1-1.4 1.3-1 1.4-.9 1.3-.3M87 136.5l-1.1-.4-.9-.8-.7-1.3"/><path class="r" d="M140.1 84.7l.5 .3 .4 .4 .6 1.1 .2 1.4-.1 1.9"/><path class="b" d="M125.6 118.9l-3.2 .6-2.9 .3-2.6 0-9.3-.6M89.5 132.3l-.6-.2-.5-.5-.5-.6-.3-.9-.1-1 0-1.3"/><path class="r" d="M84.3 141.2l-.7-.2-.7-.3-1-.9-.5-.8"/><path class="b" d="M77.8 153.9l-1.6-.1-1.4-.7"/><path class="g" d="M140.2 87.4l.3 1.1 .1 1.2-.1 1.2-.4 1.5-1.1 3.1-1.9 3.2-1.9 2.3-2.6 2.2-2.2 1.3-2.4 1-2.2 .5-2.3 0-1.8-.4"/><path class="m" d="M126.3 114.9l-2.4 .5-2.7 .4-3.6 0M106.6 94.7l3.1-.3 4.6 0 9.6 .9M89.3 130.2l-.5-1-.1-1.1 0-1.6 .3-1.4 .5-1.6 .6-1.7 .8-1.6 1-1.6 2.1-2.6 2.6-2.3 2.6-1.6 1.9-.7 1.9-.5 1.9-.2 1.9 .2 1.3 .5M86.7 136.7l-1.1-.5-.9-.9-.6-1.6"/><path class="g" d="M143.3 79l1.2 .4 1 .9 .8 1.5"/><path class="m" d="M85 139.7l-.7-.2-.6-.4-.9-.8-.8-1.8"/><path class="r" d="M147.3 72.5l.9 .3 .8 .5 1.1 1.2"/><path class="g" d="M144.2 78.3l.9 .3 1 1 .6 1"/><path class="b" d="M140.2 85.3l.7 .5 .3 .7 .3 1.2 .1 1.1-.2 1.6"/><path class="r" d="M78.3 151.8l-.6-.1-1.2-.5-1.1-.8M140.4 89.1l-.1 1.5-.4 1.7-.6 1.8-.7 1.5-1.8 2.9-1.1 1.3-1.4 1.4-1.2 1-1.5 1-2.6 1.2-1.6 .5-1.4 .2-1.3 0"/><path class="m" d="M102.4 101.3l3.1-.8 2.9-.3 3.8-.1M143 80.5l1 .7 .7 1.1 .5 1.6"/><path class="g" d="M89.1 127.2l.3-2.1 .7-2.5 .9-2.1 1.3-2 1.4-1.9 1.7-1.7 1.7-1.4 1.7-1 1.7-.8 1.9-.6 1.7-.3 2 0"/><path class="m" d="M87.9 134.1l-.8-.6-.6-.9-.4-1.3-.2-1.7M86.1 137.4l-1.2-.6-.8-1.1-.6-1.7M143.6 79.4l1.1 .6 .8 1.1 .6 1.8M143.6 79.3l1.1 .6 .9 1.2 .5 1.8"/><path class="b" d="M84 140.9l-.8-.3-.8-.5-.6-.7-.6-1"/><path class="m" d="M145.3 76.8l.7 .3 .6 .5 .5 .6 .7 1.4M141 83.8l.8 .7 .6 1.2 .3 1.7-.1 2.2"/><path class="b" d="M89.4 131l-.5-.6-.4-1-.2-1.3 .1-1.5 .3-1.8"/><path class="r" d="M88.8 130.5l-.4-1.1-.2-1.1 .1-1.8 .3-1.6 .6-1.7 .7-1.7 1.7-3.1 1.2-1.5 1.2-1.5 1.4-1.3 1.4-1 2.7-1.6 2.3-.9 2-.4 1.9-.1 1.8 .3"/><path class="b" d="M84.8 138.9l-.7-.4-.6-.5-.6-.8-.4-1"/><path class="m" d="M85.9 137.5l-1.1-.7-.9-1.2-.6-1.8"/><path class="r" d="M116.7 84.3l5 .7 2.8 .5 2.3 .7 2 .7 1.7 .8 1.3 .9 1 .9 .8 1 .6 1.3 .4 1.6-.1 1.6-.5 1.5-.8 1.7-1.1 1.4-1.4 1.3-1.6 1-1.5 .4"/><path class="m" d="M143.6 79.6l1 .7 .9 1.2 .5 1.8"/><path class="r" d="M140.9 84.3l.8 .8 .5 1.2 .2 1.8-.2 2.1"/><path class="m" d="M103 99.4l3.4-.8 3.1-.3 3.7 0"/><path class="r" d="M145.3 77.1l1 .5 .5 .6 .9 1.7"/><path class="m" d="M141 87.8l.1 1.2-.2 1.8-.4 1.6-.5 1.6-.8 1.7-1.7 2.9-1.2 1.5-1.3 1.3-2.6 2.2-1.4 .8-1.6 .8-2.1 .6-2.1 .3-2 0"/><path class="r" d="M153.4 60.9l1.4 .3 1.4 .8M142.4 81.5l.9 .6 .7 1 .5 1.4 .1 1.9"/><path class="m" d="M85.6 137.9l-1.1-.7-.9-1.2-.6-1.9M82.2 144.2l-.8-.3-.9-.5-.7-.7-.7-1M77.9 152.1l-.6-.1-1.2-.5-1.1-1"/><path class="r" d="M102.7 99.4l3.5-.7 3-.4 3.7 0"/><path class="m" d="M88.6 132.1l-.6-.7-.4-.9-.2-1.3 0-1.5 .2-1.7"/><path class="g" d="M88.6 127.4l.2-1.9 .6-2.1 .6-1.7 1.2-2.3 1-1.6 1.2-1.5 1.3-1.4 1.4-1.2 1.8-1.3 1.4-.8 1.8-.7 1.6-.5 1.8-.3 1.6 0M86.9 134.6l-.5-.5-.5-.6-.5-1.3-.3-2.4"/><path class="b" d="M88.5 129.2l-.1-1.3 .1-1.6 .3-1.7 1.3-3.4 1-1.9 .9-1.4 2.1-2.5 2.6-2.3 2.7-1.6 2.2-.8 2.3-.5 2.1-.1M126.1 119.8l-3.5 .7-2.3 .2-2.9 .1-3.6-.1M142 83.2l.6 .6 .6 1.2 .2 1.2 .1 1.9"/><path class="r" d="M127.4 117.6l-2.9 .7-2.7 .4-2.9 .2-3.1 0M87.1 134.9l-.8-.7-.6-1.1-.4-1.5-.1-1.9"/><path class="g" d="M88 133l-.7-.7-.3-.6-.4-1.3-.1-1 0-1.8"/><path class="r" d="M141.3 84.4l.7 .9 .4 1.2 .1 1.8-.2 1.7"/><path class="b" d="M87.8 133.3l-.8-.8-.5-1.2-.2-1.3 0-2"/><path class="r" d="M129 114.9l-2 .7-1.9 .5-2.4 .4-2.2 .2-2.4 0M146.2 75.2l.7 .4 1 .8 .6 .8 .4 1.1M125.2 121.4l-4 .6-4.2 .2-4-.2"/><path class="g" d="M140.3 86.1l.5 .7 .3 .9 .1 1.2-.1 1.4-.6 2.6-1.1 2.9"/><path class="r" d="M102.2 98.1l3-.8 2.9-.4 3.1-.1 3.7 .1"/><path class="b" d="M143.5 80.8l1 1 .5 1.1 .4 2.1"/><path class="g" d="M76.1 155.5l-1-.1-.9-.4-.9-.5"/><path class="b" d="M102.3 99.2l2.5-.7 3.7-.5 4.3-.2"/><path class="g" d="M88 130l-.2-1.2 0-1.5 .2-1.6 .4-1.9 .7-1.9 1.6-3.2 2.1-3 2.5-2.6 1.6-1.2 1.5-1 2.1-1 2.4-.8 2.1-.3 2.4-.1"/><path class="m" d="M114.2 83.6l3 .1 2.7 .3 5.2 1.1 3.9 1.3 1.7 .8 1.4 1 1.1 1 .8 1 .5 1.2 .4 1.4 0 1.5-.4 1.8-.7 1.7-.9 1.4-1.3 1.5-1.4 1.1-1.6 .8"/><path class="r" d="M143.4 80.5l.8 .5 .4 .6 .5 1 .3 1.2 .2 2.8"/><path class="b" d="M141.2 84.6l.6 .8 .4 1.2 .1 1.6-.1 1.9-.3 1.5M146.6 75.2l1.1 .8 .7 .8 .6 1M146.9 74.4l1.3 .7 .7 .8 .6 1.1"/><path class="m" d="M127.5 119.3l-3.2 .8-2.9 .4-3.3 .2-3.9-.1"/><path class="g" d="M139.4 95.8l-1.7 2.9-1.6 2.1-2.3 2.3-2.4 1.6-2.3 1.2-2.6 .8"/><path class="m" d="M83.3 140.9l-1-.7-.9-1.1-.6-1.6"/><path class="r" d="M88.1 132.3l-.6-.8-.3-.8-.2-1.3 0-1.2 .2-1.8 .4-1.5"/><path class="b" d="M141.4 90.4l-.3 1.4-1 3-1.6 3.1-1.6 2.3-2.3 2.4-2.4 1.9-2.5 1.3-2.2 .8-2.3 .4"/><path class="g" d="M154.4 59.5l1 .2 1 .3 .9 .6"/><path class="m" d="M141 85.2l.5 1 .3 1.1 .1 1.4-.2 1.6-.4 1.8-.6 1.9"/><path class="b" d="M87.5 127.8l.4-2.9 1.2-3.3 1.4-2.8 1.8-2.6 2-2.2 2.1-1.8 2.2-1.4 2.5-1.1 2.7-.7 3.1-.2M142.2 83.8l.6 1 .4 1.5 0 1.4-.1 2.1"/><path class="r" d="M82.8 142.2l-1.1-.6-.6-.6-.6-.9-.7-1.8"/><path class="b" d="M88.5 131.3l-.5-.9-.3-1.2 0-1.6 .2-1.4 .4-2 .6-1.5M88.7 124.8l.6-1.9 .6-1.4 1-2 .9-1.4 2.1-2.5 1.1-1.1 1.5-1.3 2.8-1.7 2.2-.8 1.9-.5"/><path class="m" d="M147.4 74l.8 .4 .7 .7 .6 .9 .5 1.2"/><path class="g" d="M144.2 80.1l.9 .9 .7 1.5 .4 2"/><path class="m" d="M87.6 126l.5-2 .8-2 1.7-3.4 2.4-3.2 2.6-2.5 2.4-1.7 2.3-1.1 2.4-.8 2.7-.4M140.7 94l-1.6 3.3-2.1 3.1-2.5 2.5-1.5 1.2-1.5 1-2.2 1.1-2.3 .7"/><path class="r" d="M141.7 89.8l-.4 2.1-.6 1.9-1 2.3-1 1.8-1.2 1.8-1.4 1.6-1.4 1.4-1.8 1.4-1.8 1.2-1.8 .8-1.7 .6-1.8 .4"/><path class="m" d="M154.1 61l1.4 .5 1.3 1.1M144 80.8l.6 .8 .4 .6 .5 2.3 .1 2.9"/><path class="r" d="M87.6 124.9l1.2-3.6 1.7-3.1 2-2.8 2.4-2.3 2.4-1.9 2.4-1.3 2.6-.9 2.6-.5"/><path class="m" d="M84.9 136.7l-.9-1.1-.6-1.8-.2-1.6"/><path class="b" d="M88.9 122.7l.9-2.2 .9-1.6 2.1-2.9 2.4-2.5 1.2-1 1.7-1.1 2.1-1.1 2.3-.7"/><path class="g" d="M86.1 134.1l-.5-.7-.3-.9-.3-1.7 .1-3"/><path class="r" d="M143.4 84.7l.3 1.5 0 1.8-.2 1.6-.4 2.3-.6 1.8-1.6 3.7-2.1 3.4-2.6 3-2.2 2-2.3 1.5-2.7 1.3-3 .9-2.8 .4-3 0M142.2 90.2l-.4 1.9-.9 2.5-.9 2-1.2 2-1.3 1.8-1.4 1.7-1.6 1.4-1.5 1.3-1.6 1-1.9 .9-1.9 .6-1.9 .5M142.3 90l-.4 2-.7 2-1.7 3.6-.9 1.5-1.4 1.8-1.1 1.3-1.5 1.4-1.6 1.3-1.6 1-2 1-2.2 .7-1.9 .4"/><path class="m" d="M142.6 89.6l-.5 2.4-.7 2.2-1.2 2.6-1.3 2.1-1.4 2-1.5 1.7-1.6 1.5-1.7 1.2-1.6 1-2 1-2.3 .7-2 .4"/><path class="b" d="M141.9 91.6l-.7 2.2-.7 1.8-1.9 3.3-2.3 3-2.6 2.4-2.2 1.5-2.6 1.3-2.4 .7"/><path class="r" d="M84.2 137.8l-.9-1.3-.7-1.8-.2-1.8"/><path class="m" d="M145 79.7l.7 .9 .5 1.2 .3 1.5 .2 1.9"/><path class="g" d="M142.8 87.4l0 1.7-.3 2-.6 2.1-.8 2.3-1.9 3.7-1 1.4-1.5 1.9-1.1 1.2-1.7 1.5-1.8 1.3-1.8 1-2.2 .9-2.1 .6-2.4 .4M147.8 75.4l.4 .4 .8 1.1 .9 2.4"/><path class="r" d="M144 81.8l.4 .5 .6 2 .2 2.6-.3 2.5"/><path class="b" d="M127.2 81.4l2.3 .8 2 .9 1.7 1.1 1.3 1.1 1.1 1.3 .8 1.4 .5 1.5 .3 1.5 .1 2.2-.3 1.6-.6 2.2-.6 1.6-1.1 1.9-1.2 1.7-1.4 1.5-1.5 1.2-1.9 1.2-1.7 .8-2 .5-1.7 .3"/><path class="g" d="M86.5 127.6l.2-1.3 .7-2.9 1.3-3.2 1.6-3 2-2.8 2.3-2.4 2.5-1.9 3-1.7 2.8-1 3-.5M100.6 96.1l3.7-1.2 2.2-.5 2.2-.3 3.9-.2M81.7 142.2l-1-.8-.4-.6-.7-1.4-.3-.9"/><path class="m" d="M85.9 129.6l.1-2 .5-2.3 .5-1.8 .9-2.4 .9-1.9 2.1-3.4 1.3-1.6 1.7-1.8 1.4-1.2 1.9-1.3 2.3-1.3 2.2-.9 2.4-.6 2.1-.3"/><path class="r" d="M81.5 142.7l-1.1-1-.8-1.6-.7-2.1"/><path class="g" d="M129.9 119.2l-3.5 1.3-2.2 .6-2.1 .3-3.9 .3"/><path class="b" d="M83.8 138l-.8-1.1-.5-1-.4-1.8-.1-1.5M143.5 88.1l-.2 1.8-.6 2.5-.9 2.6-1.2 2.7-1.2 1.9-1.3 1.9-1.8 2.1-1.5 1.4-2.1 1.6-2 1.2-2 .9-2.4 .7-2.4 .4M78.3 148.2l-1.1-.8-.5-.6-.9-1.4"/><path class="g" d="M147.1 77.4l.3 .5 1 1.8 .5 2.7M85 132.6l-.3-2.5 .2-2.4 .7-3.6 .9-2.9 1.3-2.9 1.6-2.8 1.9-2.6 2-2.2 2.2-1.9 2.2-1.6 2.9-1.4 2.8-1 2.5-.5 2.3-.2 2.7 0M147.5 75.9l.8 .8 .4 .6 .6 1.5 .5 1.8"/><path class="b" d="M86.3 128l.2-1.7 .5-1.8 .6-2 .8-1.9 1-2 2-3 1.4-1.7 1.4-1.4 1.5-1.3 1.5-1.1 2-1.1 2.4-1 2.6-.7"/><path class="r" d="M97.9 98.8l3.5-1.4 4-1.1 2.2-.4 2.8-.2"/><path class="b" d="M143.1 89.8l-.4 1.8-.8 2.6-.8 1.9-1 1.9-1.1 1.9-1.3 1.7-1.4 1.6-1.4 1.4-1.5 1.1-2.5 1.6-2.4 1.1-2.7 .7"/><path class="g" d="M150.9 69l1.3 .8 .6 .7 1 1.8"/><path class="r" d="M80.9 142.7l-.7-.7-.6-1-.5-1.2-.4-1.5"/><path class="b" d="M147 78.2l.5 .9 .6 1.8 .3 2.2M147.9 74.9l1.1 1.2 .8 1.8 .6 2.5"/><path class="r" d="M144.6 86.4l-.1 2.2-.4 2.6-.8 2.7-.8 2-1.4 2.7-1.1 1.9-1.3 1.8-1.9 2.2-2 1.8-2 1.5-2.1 1.2-1.9 .9-1.9 .6-2.2 .5-2.2 .2"/><path class="g" d="M125.2 129.9l-4.6 .9-4.3 .2-4.9-.2"/><path class="r" d="M85.2 129.7l.1-2.2 .4-1.9 .8-2.6 .7-2 1-2 1.1-1.9 1.2-1.8 1.3-1.7 1.4-1.5 2-1.8 2-1.4 2.4-1.3 2.4-.9 2.2-.6 1.9-.3"/><path class="g" d="M131.3 117.9l-3.4 1.5-3.3 1-3.1 .5"/><path class="r" d="M98.1 98.3l3.5-1.4 4.1-1.1 3-.4"/><path class="g" d="M85.1 129.8l.1-2.3 .5-2.5 .8-2.8 1.1-2.8 1-1.8 1.6-2.6 1.2-1.7 1.3-1.5 2.1-1.9 1.4-1.1 2.1-1.4 1.4-.7 2.1-.9 1.9-.5 1.9-.4"/><path class="r" d="M119.6 138.2l-3.9 .1-3.6-.1-3.3-.4-3.8-.8-3.2-.9-2.1-.8-2.4-1.3-1.9-1.4-1.4-1.6-1.1-1.8-.6-2-.3-2 .1-2.2 .4-2.1 .9-2.6 1.2-2.3 1.5-2.1 1.7-1.7 2.1-1.6 2.4-1.3"/><path class="m" d="M145.2 83.9l.2 2.1-.1 2.5-.4 2.1-.6 2.2-.7 2.3-1 2.3-1.2 2.2-1.3 2.1-1.5 1.9-1.5 1.7-1.6 1.6-2.3 1.7-2.2 1.3-2.7 1.2-2.5 .7-2.3 .4-2.7 .2"/><path class="g" d="M85.1 127.8l.4-2.5 .8-2.8 1.1-2.8 1.4-2.8 1.2-1.8 2.5-3.2 2.8-2.6 1.4-1.1 2.2-1.3 1.4-.7 2-.7 2-.5"/><path class="r" d="M82.5 138.2l-.4-.9-.5-1.6-.3-2 0-2.4"/><path class="b" d="M102.6 88.7l2.5-.6 3.7-.6 3.3-.2 3 0M106.9 79.9l3-.3 2.9-.2 2.7 .1 3.8 .3 5.3 .9 2.6 .7"/><path class="m" d="M121.7 138.1l-2.8 .3-3.9 .1-3.6-.3-3.2-.4-2.9-.5-2.6-.7-2.9-1.1-1.9-.9-2.1-1.4-1.6-1.6-1.1-1.8-.8-2-.4-2.1 0-2.1 .4-2.2 .6-2.2 1.2-2.5 1.5-2.2 1.6-1.9 1.8-1.5 2.2-1.4"/><path class="g" d="M82.8 138.3l-.9-1.7-.6-2.3-.1-3.1M147.6 77.3l.7 1.1 .7 2.3 .3 3.1"/><path class="b" d="M128.2 126.2l-2.5 .8-3.5 .7-3.2 .3-4 0M145.4 85l.1 1.9-.2 2.1-.5 2.4-.7 2.6-1 2.5-1.2 2.6-1.5 2.4-1 1.5-1.7 2.1-1.9 1.8-1.8 1.5-1.9 1.3-2.5 1.3-2.4 .9-2.3 .5-2.5 .4"/><path class="g" d="M84.3 134.9l-.5-1.7-.3-2.2 .1-2.6 .5-3.1"/><path class="b" d="M151.6 70.1l.9 1.1 .4 .7 .8 1.7"/><path class="m" d="M146 83.3l.2 1.7-.1 2.6-.3 2.3-.8 3.2-.9 2.4-1.1 2.5-1.3 2.4-1.4 2.2-1.6 2.1-1.7 1.8-1.7 1.6-2.4 1.8-2.4 1.3-2.3 1-2.7 .8-2.5 .4-2.5 .1"/><path class="b" d="M82.5 137.7l-.5-1-.3-1.2-.3-3.1 .1-2.8"/><path class="r" d="M145.6 86.6l-.3 2.6-.6 2.9-1 3-1 2.3-1.6 2.9-1.4 2.1-1.5 1.9-2.1 2.2-2.2 1.8-2.2 1.4-2.8 1.3-2.5 .9-2.4 .4"/><path class="b" d="M133.3 116.7l-1.9 1.1-2.9 1.2-2.8 .9-3.4 .6M111.9 140.6l-5.2-.6-4.4-1.1-3.6-1.3-2.9-1.6-1.2-.9-1.1-1-.9-1.1-.7-1.2-.6-1.2-.4-1.4-.5-2.8 .1-3 .2-1.5 .6-2.2 .5-1.5 1-2.1 2-3.2 1.3-1.6 1.5-1.4 1.5-1.2 2-1.2 1.9-.9 2.3-.7 2.1-.4"/><path class="r" d="M144.9 89.4l-.6 2.8-1 2.9-.9 2.1-1.6 2.9-1.3 1.9-1.4 1.8-2 2.2-2.2 1.7-2.6 1.7-2.7 1.2-2.4 .8"/><path class="g" d="M84.3 134l-.4-1.9-.1-2.4 .3-2.7 .4-2.1"/><path class="b" d="M74.8 153.1l-1.3-1.2-1.2-1.8"/><path class="m" d="M82 138.1l-.7-2.1-.3-2.1 0-3.4"/><path class="b" d="M155.8 61.1l1.4 1.2 1.3 1.9"/><path class="m" d="M145.6 87.4l-.4 2.8-.6 2.2-1 3.1-1.1 2.3-1.6 3-1.4 2.1-1.6 1.8-2.2 2.2-2.2 1.8-2.3 1.4-2.7 1.2-2.6 .8M146.8 79.8l.7 2.1 .2 1.9 0 2.3-.3 2.6M83.2 132.2l.1-2.7 .3-2.3 .7-3.2 .9-2.6 1.1-2.5 1.2-2.5 1.5-2.3 1.6-2.1 1.7-1.9 1.8-1.7 2.4-1.8 2.4-1.4 2.4-1 2.8-.8 2.5-.4M146.7 85.2l-.1 2.1-.7 4-.8 2.6-1 2.6-2.1 4.3-2.6 3.8-2.9 3.2-2.5 2-2.5 1.6-2.4 1.1-2.9 1-2.7 .5"/><path class="r" d="M81.4 139l-.5-1-.4-1.9-.3-2.3 .1-2.8"/><path class="m" d="M84.1 133.7l-.3-2 .1-2.5 .2-2.1 .8-3.1 .8-2.3"/><path class="g" d="M146.2 84.5l0 2.6-.3 2.9-.5 2.2-1 3.4-1 2.3-1.1 2.2-1.2 2.2-1.4 2-1.5 1.9-1.6 1.7-2.5 2.1-1.7 1.2-2.5 1.4-2.5 .9-3.1 .8-2.7 .4"/><path class="r" d="M102.1 85.7l2.6-.7 2.4-.4 4.5-.4 5.1 .1"/><path class="g" d="M146.7 80.6l.6 2 .2 1.7-.1 3.1-.3 2.3"/><path class="m" d="M85.7 121.7l1-2.4 1.2-2.3 1.3-2.2 1.5-2 1.6-1.9 1.7-1.6 2.3-1.7 2.3-1.4 2.3-1"/><path class="r" d="M75.4 150.4l-.5-.6-.9-1.5-.8-1.9"/><path class="b" d="M82.5 136.2l-.6-2.5 0-3.3 .3-2.9"/><path class="g" d="M146.3 81.8l.5 2.1 0 2.6-.3 3.1-.5 2.3"/><path class="m" d="M143.3 97.7l-1.2 2.4-1.5 2.3-1.6 2.2-1.7 1.9-1.7 1.6-2.5 1.8-2.4 1.4-2.3 1M147.8 79.6l.5 2.4 .2 2.3-.3 3.5M143.3 97.7l-1.2 2.5-1.5 2.3-1.6 2.1-1.7 1.9-1.8 1.7-2.4 1.8-2.4 1.4-2.4 1M83.5 134l-.3-1.7 0-2.6 .3-2.3 .8-3.2 .8-2.6"/><path class="r" d="M147.7 79.9l.4 1.8 .2 1.4-.1 3.2-.3 2.7"/><path class="m" d="M86.3 118.7l1.3-2.5 1.5-2.3 1.6-2.2 1.7-1.9 1.8-1.6 1.9-1.4 2.4-1.5 2.4-1"/><path class="g" d="M84.5 124.9l.9-3.2 .9-2.2 1-2.1 1.2-2.1 1.3-2 1.4-1.8 1.5-1.7 2.4-2.1 2.4-1.7 2.4-1.3 2.4-.9"/><path class="m" d="M79.1 141.7l-.5-1.3-.4-1.6-.4-2.8M100.9 85.5l4-1.1 2.5-.5 2.4-.2 4.4-.1"/><path class="r" d="M82.4 132.9l0-2.9 .3-2.5 .6-2.6 .8-2.7 1.1-2.8 1.3-2.7 1.5-2.5 1.6-2.4 1.8-2.1 1.9-1.8 2.6-2.1 2.6-1.5 2.5-1.1 3-.9 2.7-.5"/><path class="b" d="M82 132.6l0-2.6 .2-1.9 .6-3 .6-2.2 1.6-4.3 2.2-4.2 2.6-3.7 2.1-2.4 3-2.7 3.1-2 1.5-.8 2.3-.9 2.8-.7 3.2-.5"/><path class="r" d="M150.1 74.5l.8 1.8 .6 2.4 .2 2.9"/><path class="m" d="M82 136.5l-.4-1.8-.2-2.2 .1-2.5 .4-2.8M85.1 121.6l1.1-2.5 1.2-2.5 1.5-2.3 1.5-2.1 1.7-2 1.8-1.7 2.5-1.8 2.4-1.4 2.4-1"/><path class="b" d="M81.2 138.4l-.6-2-.2-1.6-.1-1.9 .1-3.1"/><path class="g" d="M84.1 125.3l.6-2.1 1.2-3.4 1-2.2 1.2-2.2 1.3-2 1.5-2 1.5-1.7 1.6-1.5 1.6-1.4 1.7-1.1 2.5-1.3 2.4-1"/><path class="m" d="M146.1 82.9l.2 1.6 0 2.7-.3 2.2-.8 3.3-.8 2.5-1.1 2.5M146.1 82.9l.3 1.6-.1 2.7-.3 2.2-.7 3.3-.9 2.5-1.1 2.5"/><path class="g" d="M115.1 73.1l3.8 .2 3.4 .4 3.2 .6 2.8 .7 3.7 1.3 3 1.6 1.7 1.2 1.4 1.4 1.2 1.6 .9 1.7 .9 3 .3 2.1-.1 3.3-.3 2.4-.9 3.5-.8 2.2-1.6 3.2-1.9 2.9-1.5 1.7-1.4 1.4-1.6 1.3-1.5 1.1-3.1 1.6-3 .9-3.2 .6"/><path class="r" d="M156.2 62l.6 .6 1.1 1.6 1 2.1M148.9 78.3l.4 1.2 .4 3.1-.1 3.8"/><path class="m" d="M85.7 119.2l1.3-2.6 1.4-2.4 1.7-2.3 1.7-2 1.9-1.8 2.5-1.9 2.6-1.5 2.4-1.1M83.3 133.8l-.2-1.7 .1-2.7 .3-2.3 .8-3.3 .9-2.6 1.1-2.5M75 150.5l-.6-.6-.9-1.7-.7-2.1"/><path class="g" d="M73.3 154.5l-.9-.8-.7-1-.8-1.2"/><path class="b" d="M149 77.8l.6 2.2 .3 2.7-.1 3.2"/><path class="m" d="M83 134.1l-.2-1.8 0-2.8 .4-2.4 .6-2.6 .8-2.6 1.1-2.7"/><path class="b" d="M149.5 77l.7 2.2 .3 2.9-.1 3.4"/><path class="g" d="M146 91.9l-1 3.6-1 2.5-1.2 2.4-1.3 2.3-1.4 2.2-1.6 2-1.7 1.7-2.6 2.3-1.8 1.2-2.7 1.4-2.6 1"/><path class="b" d="M82.2 127.5l1-4.3 1.1-3.2 1.5-3.3 1.1-2.1 2.6-3.8 2.9-3.2 1.5-1.4 2.4-1.7 2.3-1.4 2.3-1 2.2-.8"/><path class="m" d="M150 77.2l.4 1.4 .3 1.6 .1 1.9-.1 3.2"/><path class="g" d="M157.3 60.6l.9 .8 .8 1.1 .8 1.4"/><path class="m" d="M80.8 137.5l-.4-2.1-.2-2.4 .2-2.9 .3-2.1M147.4 88.7l-.6 2.8-.8 2.9-1.1 2.9-.9 1.9-1.5 2.8-1.1 1.7-1.8 2.4-1.9 2.2-2.7 2.3-2.8 1.9-2.7 1.3-3.2 1.1"/><path class="b" d="M148.4 83.1l0 2.8-.3 3.1-.8 3.3-1 3.5-1 2.4-1.6 3.4-1.3 2.2-1.3 2-2.3 2.8-2.4 2.3-2.4 1.9-2.5 1.6-2.4 1.1-2.4 .8-2.9 .7"/><path class="g" d="M147.1 89.7l-.5 2.4-.7 2.6-1 2.6-1.1 2.6-1.3 2.5-1.5 2.4-1.7 2.2-1.7 1.9-1.9 1.8-1.9 1.4-1.9 1.3-2.8 1.4-2.7 1"/><path class="b" d="M128.2 138.9l-3.6 1-3.4 .6-4.9 .3-4.4-.2"/><path class="r" d="M81.3 131.3l.2-2.7 .6-2.9 .8-3 .7-2.1 1.3-3 1.5-3 1.2-1.8 1.8-2.6 2.7-2.9 2.8-2.4 1.5-1 2.1-1.2 3.5-1.4 3.2-.9"/><path class="g" d="M81.2 131.2l.3-3.7 .9-4.1 1.4-4.2 1.9-4.3 2.4-3.9 2.7-3.5 2.9-2.9 3.1-2.2 3.1-1.7 2-.8 1.9-.6"/><path class="b" d="M81.5 129.6l.7-4.3 1-3.4 1.3-3.4 1-2.3 2.5-4.2 1.4-1.9 2.3-2.6 1.5-1.5 2.5-1.9 2.4-1.4 2.4-1.2 2.3-.8"/><path class="m" d="M156.8 62.6l.6 .7 1 1.9 .9 2.4"/><path class="g" d="M148.9 82.4l.1 2.1-.3 3.8-.4 2.8-1.2 4.5-1.1 3-1.4 3-1.5 2.9-1.8 2.7-1.9 2.4-2 2.1-2.1 1.9-2.2 1.5-3.2 1.8-3.2 1.2-2.9 .7-2.7 .4"/><path class="r" d="M147.9 89l-.4 2-1.2 4-1.6 4.1-2.1 3.8-2.4 3.5-2.7 2.9-2.8 2.4-1.5 1-2.1 1.2-2.1 1"/><path class="m" d="M148.2 87.8l-.5 3-.8 3.1-1.2 3.2-1.4 3.1-1.6 2.9-1.8 2.7-2 2.4-2.1 2.1-2.2 1.8-2.2 1.4-2.9 1.5-2.8 .9M81 130.5l.4-2.9 .7-3.1 .9-3.2 1.3-3.1 1.5-3.1 1.8-2.9 1.3-1.8 2-2.5 2.2-2 2.2-1.8 2.9-1.8 2.9-1.3 3.4-1M81.9 127.2l.7-2.9 .9-3.1 .8-2 1.4-3 1.7-2.9 1.2-1.7 1.9-2.4 2.7-2.8 2.9-2.1 2.8-1.6 3.5-1.4"/><path class="r" d="M79.8 138.3l-.5-3.1 0-2.9 .3-3.3"/><path class="g" d="M118.8 146.4l-4.4 .1-6-.4-5.2-.9-4.5-1.2-3.7-1.7-2.1-1.3-1-.7-1.6-1.6-1.4-1.8-.5-1.1-.9-2.1-.7-2.4-.3-3.9 .1-2.8 .7-4.3 .8-2.9 1.1-2.7 1.3-2.6 1.4-2.5 1.6-2.2 1.8-1.9 1.8-1.7 1.8-1.4 1.9-1.2 2.8-1.3 2.6-.8 2.5-.5M149.3 83.8l-.2 3.8-.7 4.4-.8 3.1-1.8 4.7-1.4 3-1.7 2.9-1.9 2.7-2 2.4-3.2 3-2.2 1.7-3.3 1.8-2.2 .9-2.1 .7-2 .4M79.3 138.5l-.5-2-.2-3.9 .2-3.1"/><path class="b" d="M80.4 129.8l.6-3.6 .9-3.7 1.4-3.9 1.7-3.7 2.1-3.5 2.3-3.2 2.5-2.7 2.6-2.2 2.6-1.8 3.5-1.7 1.7-.6"/><path class="g" d="M149.9 79.3l.4 2 .1 2.5-.1 2.8-.5 3.1M99.8 75.8l2.3-.8 4.6-1.2 4.3-.5 4.1-.2"/><path class="r" d="M80.3 131l.4-3 .6-3.3 1-3.4 .9-2.2 1.5-3.4 1.1-2.1 1.3-2 2-2.8 2.9-3.2 3.1-2.5 1.6-1 2.3-1.2 3.7-1.5M131.4 135.4l-3.1 1.1-3 .9-2.9 .5-2.8 .3"/><path class="m" d="M80.7 128l.7-3.3 .6-2.3 1.2-3.4 1-2.3 2.3-4.2 1.3-2 2.1-2.7 3.1-3 3.1-2.3 3.1-1.7 3.8-1.4"/><path class="g" d="M135.2 125.3l-3.3 2.1-3.4 1.5-3.3 1"/><path class="b" d="M149.8 85.9l-.5 3.7-.9 3.9-1.3 4.1-1.1 2.7-2 3.8-1.5 2.4-1.6 2.2-2.6 2.9-1.8 1.7-2.8 2.1-2.8 1.6-2.7 1.1-2.6 .8"/><path class="r" d="M149.6 86.4l-.8 4.4-.9 3.4-1.2 3.5-1.5 3.5-1.8 3.2-2.1 3-2.2 2.6-3.1 2.9-2.4 1.7-3.1 1.8-3.1 1.2"/><path class="b" d="M75.8 145.4l-.4-.9-.8-3.5-.4-4.4"/><path class="g" d="M153.8 72.3l.8 2.4 .5 3.2"/><path class="r" d="M78.7 138.3l-.3-1.7-.1-2 .3-4.5 .9-5.1M78.9 138l-.3-2.6 0-3.1 .2-2.3 .6-3.7"/><path class="g" d="M149.8 80.6l.2 3.4-.1 2.8-.4 3-1.1 4.8"/><path class="b" d="M150.4 85.5l-.4 3.8-1 4.2-1.4 4.3-1.1 2.8-2.1 4.1-1.5 2.5-1.7 2.3-2.8 3-1.8 1.8-3 2.1-1.9 1.2-2.9 1.3-2.7 .9"/><path class="r" d="M79.6 129l.6-3.5 1-3.7 1.4-3.7 1.6-3.6 1.3-2.3 1.4-2.2 2.2-2.9 1.6-1.7 2.4-2.3 2.5-1.9 3.4-1.8 3.2-1.3"/><path class="m" d="M133.9 134.2l-3.2 1.6-3.1 1.1-3 .7-2.9 .5M150.7 85.3l-.7 4.7-.9 3.9-1.3 3.9-1.7 3.9-1.9 3.6-2.2 3.3-2.5 2.9-2.5 2.4-2.6 2-3.5 2-3.4 1.4"/><path class="b" d="M150.4 80.4l.1 3.1-.2 3.6-.7 4.1-1.1 4.2"/><path class="m" d="M77.8 136l0-3.4 .3-2.5 .9-5.4 1.2-4.2 1.1-2.9 1.1-2.8 1.4-2.7 1.5-2.5 1.6-2.4 1.7-2.1 1.7-2 1.9-1.7 1.8-1.5 1.9-1.3 2.8-1.5 2.8-1.1 2.6-.8 2.5-.5"/><path class="g" d="M148.4 94.6l-1.8 5-2.3 4.9-2.8 4.4-3.2 3.8-3.5 3-3.5 2.2"/><path class="r" d="M151.7 81.6l-.1 3.5-.7 5.1-1 4.2-1.4 4.2-1.8 4.1-2.1 3.9-2.4 3.4-2.6 3.1-2.7 2.5-2.8 2-2.7 1.6-2.8 1.2-3.4 1"/><path class="g" d="M149.8 89.7l-.7 3.3-.9 3.5-1.3 3.4-2.4 5.1-2.9 4.5-2.2 2.6-2.3 2.3-2.4 2-2.4 1.5-2.4 1.3"/><path class="b" d="M93.6 85.1l3.4-2 1.7-.8 3.4-1.2 4.8-1.2M153.7 73.6l.7 3.5 .2 2.8 0 3.2M72.3 150.1l-.4-1.2-.9-2.8-.3-1.7M148.5 95.4l-1.6 4.3-1.3 2.8-1.4 2.6-1.6 2.5-1.7 2.3-2.8 3-1.9 1.7-2.9 2.1"/><path class="g" d="M78.8 129.5l.5-3.3 .8-3.5 1.1-3.7 1.4-3.6 1.7-3.5 2-3.3 2.1-3 2.3-2.7 2.4-2.3 1.3-1 2.5-1.6 3.7-1.9"/><path class="r" d="M79.4 126.3l.6-2.6 1.3-3.9 1-2.6 1.8-3.8 1.3-2.4 1.5-2.3 1.6-2 2.5-2.8 1.7-1.5 1.7-1.4 3.5-2.2"/><path class="g" d="M133.4 142.1l-2.5 1.3-2.5 1-2.5 .7-2.4 .6-4.7 .7"/><path class="r" d="M79.5 125l1.6-5.4 1-2.7 1.2-2.6 2-3.7 1.5-2.3 1.6-2.1 1.7-1.9 1.7-1.6 2.7-2.2 3.6-2.2"/><path class="b" d="M158.5 64.2l.6 1.2 .9 3 .7 3.8"/><path class="r" d="M73.2 146.4l-.6-2.4-.4-2.8-.1-3.3"/><path class="g" d="M70.9 151.5l-.6-1.6-.6-1.8-.4-2"/><path class="m" d="M72.8 146.1l-.6-2.6-.3-3-.1-3.5"/><path class="r" d="M158.9 66.3l.4 1.3 .6 3 .4 3.6"/><path class="g" d="M159.8 63.9l.7 1.6 .6 2 .4 2.2"/><path class="b" d="M139.3 132.8l-3.7 2.7-3.7 2-3.7 1.4M154.6 83.1l-.3 3.6-.6 3.7-.9 4-1.1 4-1.5 4-2.6 5.8-2.1 3.5-1.1 1.6-2.3 3-2.4 2.7-2.5 2.2-2.6 1.9-2.6 1.5-3.8 1.6"/><path class="r" d="M140.7 129.2l-3.1 2.6-1.5 1-3.2 1.8-1.5 .8"/><path class="m" d="M159.3 67.6l.4 1.5 .5 3.3 .3 4"/><path class="b" d="M74.2 136.6l.3-5.4 .9-6 1-4.2 2-6.4 1.7-4.1 1-2 2.1-3.8 1.1-1.8 2.4-3.2 1.3-1.5 2.6-2.6 1.3-1.1 2.7-2 4-2.3 4-1.5"/><path class="g" d="M90.4 81.6l2.3-1.8 2.4-1.6 2.3-1.3 2.4-1.1M155.1 77.9l.2 3.7-.2 4.3-.7 4.8"/><path class="m" d="M143.3 126.8l-3 3-1.6 1.3-3.2 2.2-1.6 .9"/><path class="r" d="M72.1 137.9l.1-3.7 .4-3.9 .6-4.2 .9-4.4 1.3-4.4 1.4-4.3 2.8-6.3 2.1-3.8 1.1-1.8 2.3-3.3 2.5-2.9 2.6-2.5 1.3-1.1 2.7-1.9 4-2.2 3.9-1.5"/><path class="g" d="M154.4 90.7l-1.1 5.1-.7 2.6-1.7 5.2-1.1 2.5-2.3 4.9-1.3 2.3-2.9 4.2-1.5 1.9-3.2 3.3-3.4 2.6"/><path class="b" d="M70.7 144.4l-.3-3.8-.1-2.1 .1-4.7"/><path class="m" d="M71.8 137l.2-3.8 .4-4.2 .8-4.4 1.1-4.5 1.3-4.5 1.6-4.5 1.9-4.2 1.1-2.1 1-1.9 2.4-3.7 2.5-3.2 2.6-2.8 1.3-1.3 2.7-2.1 1.4-1 2.8-1.6 4-1.7"/><path class="g" d="M143.3 134.3l-2.4 2.4-2.5 2.1-2.5 1.8-2.5 1.5M161.5 69.7l.4 2.6 .3 5.9M69.3 146.1l-.6-5-.1-2.8 .3-6.4"/><path class="r" d="M160.3 74.2l.1 4.2-.2 4.5-.5 5"/><path class="b" d="M160.7 72.2l.3 4.4-.1 5.2-.6 5.7M70.4 133.8l.2-2.5 .8-5.3 .5-2.8 1.3-5.6 .8-2.8 2-5.6 2.3-5.3 2.6-4.9 2.9-4.4 3.2-3.8 3.3-3.1 3.3-2.6"/><path class="m" d="M160.5 76.4l-.1 4.4-.4 4.9-.7 5.2-1.1 5.3"/><path class="r" d="M159.7 87.9l-.9 5.2-1.2 5.4-1.6 5.3-.9 2.7-2.1 5-2.4 4.8-2.6 4.3-1.3 2-1.5 1.9-2.9 3.3-1.6 1.4"/><path class="m" d="M158.2 96.2l-1.5 5.5-1.8 5.3-1 2.6-2.3 5-1.2 2.3-2.7 4.3-2.9 3.9-1.5 1.7"/><path class="b" d="M160.3 87.5l-.9 6-1.4 6.3-1.9 6.3-2.3 6.1-2.8 5.7-1.5 2.6-1.5 2.5-3.4 4.4-1.7 2-3.6 3.4"/><path class="g" d="M68.9 131.9l.8-7.2 .7-3.8 1.9-7.7 1.2-3.9 1.3-3.8 1.5-3.8 1.7-3.5 1.8-3.4 1.9-3.2 2.1-2.9 2.1-2.6 2.2-2.4 2.3-2.1M162.2 78.2l-.3 7.1-.9 7.8-.8 4.1M160.2 97.2l-.9 4.2-1.2 4.2-1.3 4.2-1.5 4.1-1.6 4-1.8 3.7-2 3.6-2.1 3.3-2.2 3-2.3 2.8"/></g><path d="M31 12.4V171.4H240.5M31 171.4v-2.3M72.9 171.4v-2.3M114.8 171.4v-2.3M156.7 171.4v-2.3M198.6 171.4v-2.3M240.5 171.4v-2.3M31 172.3h2.3M31 140.32h2.3M31 108.34h2.3M31 76.36h2.3M31 44.38h2.3M31 12.4h2.3" stroke="#858585" stroke-width=".8" fill="none"/><text x="31" y="184.7" text-anchor="middle">-40</text><text x="72.9" y="184.7" text-anchor="middle">-20</text><text x="114.8" y="184.7" text-anchor="middle">0</text><text x="156.7" y="184.7" text-anchor="middle">20</text><text x="198.6" y="184.7" text-anchor="middle">40</text><text x="240.5" y="184.7" text-anchor="middle">60</text><text x="27.4" y="175.7" text-anchor="end">-40</text><text x="27.4" y="143.72" text-anchor="end">-20</text><text x="27.4" y="111.74" text-anchor="end">0</text><text x="27.4" y="79.76" text-anchor="end">20</text><text x="27.4" y="47.78" text-anchor="end">40</text><text x="27.4" y="15.8" text-anchor="end">60</text><text x="135.75" y="197.7" text-anchor="middle" font-size="11" font-style="italic">x</text><text transform="translate(9.3 92.35) rotate(-90)" text-anchor="middle" font-size="11" font-style="italic">y</text><rect x="148" y="17.4" width="87.5" height="44.3" fill="#fff" stroke="#666" stroke-width=".6"/><path d="M150.3 23.65h18.5" stroke="#f00" stroke-width="1" fill="none"/><text x="171.6" y="27.35" font-size="9.1">{0.3,0.3,0.3}</text><path d="M150.3 34.25h18.5" stroke="#00f" stroke-width="1" fill="none"/><text x="171.6" y="37.95" font-size="9.1">{0.4;0.4;0.4}</text><path d="M150.3 44.85h18.5" stroke="#0f0" stroke-width="1" fill="none"/><text x="171.6" y="48.55" font-size="9.1">{0.2;0.2;0.2}</text><path d="M150.3 55.45h18.5" stroke="#f0f" stroke-width="1" fill="none"/><text x="171.6" y="59.15" font-size="9.1">{0.35;0.35;0.35}</text><text x="146.5" y="214.6" text-anchor="middle" font-size="12">(<tspan font-weight="bold">a</tspan>)</text></g>
<g><path d="M305.55 12.4V172.4M347.38 12.4V172.4M389.21 12.4V172.4M431.04 12.4V172.4M472.87 12.4V172.4M514.7 12.4V172.4M305.55 156.4H514.7M305.55 124.4H514.7M305.55 92.4H514.7M305.55 60.4H514.7M305.55 28.4H514.7" stroke="#e6e6e6" stroke-width=".7" fill="none"/><g class="cv"><path class="g" d="M417 133.7l3.1-5.6 3.2-6.7 3.3-7.8 3.1-8.8 2.9-9.5 2.2-9.6 1.1-6.2 .6-5.6"/><path class="r" d="M416.3 134.4l3.7-6.9 3.9-8.5 3.1-7.9 2.9-8.6 2.4-9 .9-4.4 .8-4.3 .7-5.9 .1-3.4"/><path class="m" d="M416.1 134.7l3.8-6.9 3.9-8.6 3.1-7.9 2.9-8.8 2.5-9 .9-4.5 .8-4.3 .7-5.9 .1-3.5"/><path class="b" d="M415.7 135.5l3.3-5.8 3.5-7.2 3.5-8.4 3.3-9.5 2.3-7.6 1.8-7.7 1.3-7.3 .6-6.4-.1-3.6"/><path class="g" d="M409 145.2l2.4-3.1 1.8-2.4 3.8-6"/><path class="r" d="M409 144.8l3.8-4.9 3.5-5.5"/><path class="m" d="M408.8 145l3.8-4.9 3.5-5.4"/><path class="b" d="M416.6 125.1l2.6-5.1 2.6-5.9 2.5-6.6 2.1-6.9 1.3-5.2 .6-3.3 .4-3.2 .3-4.2M408.4 145.5l3.4-4.3 3.9-5.7"/><path class="g" d="M413.6 130.1l3.1-5.1 2.4-4.6 3.2-7.1 2.2-6 2-6.3 1.7-6.4 1-6.2 .4-3.6 0-1.7-.2-2.9"/><path class="b" d="M407.7 137.7l2.7-3.1 3-4.2 3.2-5.3"/><path class="g" d="M371.9 84.3l6.9 5.5 4.5 3.1 2.1 1.3 4.1 2.1 3.8 1.5 3.4 1 1.6 .2 3 .3 2.7-.2 1.2-.2 2.2-.7 2-.8 1.7-1.1 1.4-1.1 1.1-1.1 1-1.2 .8-1.6"/><path class="r" d="M412.2 128.7l2.5-4 2.6-4.7 2.5-5.4 2.3-6.1 2-6.4 1.2-5 .7-4.6 .1-3.9-.2-1.7"/><path class="m" d="M412.4 127.2l2.4-3.9 2.4-4.6 2.4-5.2 1.8-4.6 1.8-6 1.1-4.7 .7-4.4 .1-3.7-.1-1.5"/><path class="g" d="M415.8 119.7l2.3-4.8 1.7-4.1 2-5.7 1.3-4.4 .8-4.3 .5-3.8-.2-3.2M413.4 124.2l2.5-4.2 1.8-3.6 2.3-5.5 1.6-4.4 1.4-4.5 1-4.5 .6-4.1 .1-3.6-.3-1.9M415.8 118.7l2.3-4.7 1.5-3.9 1.9-5.5 1.1-4.1 .8-4 .3-3.5-.2-2.9"/><path class="b" d="M410.1 129.6l2.5-3.4 2.6-4.3 2.1-4 2.1-4.6 1.9-4.9 1.6-5.2 1.2-5.1 .7-4.6 .1-3.1-.4-2.4-.4-1.2"/><path class="g" d="M405.8 139.5l1.7-1.7 3.3-3.7 2.8-4"/><path class="b" d="M409.3 130.6l2.5-3.2 2-3.1 2.1-3.7 2.1-4.2 2-4.7 1.9-5.1 1.5-5.1 .8-3.8 .6-4.6 .1-3-.4-2.4-.5-1.1"/><path class="r" d="M409.7 129.4l2.1-2.8 2.3-3.5 2.2-4.1 2.2-4.8 1.7-4.1 1.8-5.4 1.1-4.3 .7-4.1 .3-3.6-.3-2.8-.4-1.1"/><path class="m" d="M413.6 122.1l2.1-3.8 2.1-4.3 1.5-3.8 1.6-5 1-3.9 .7-3.6 .2-3.3-.2-2.6"/><path class="g" d="M436.5 73.9l0-2.5 0-2.3-.2-1.9M414.8 120.1l1.7-3.2 2.1-4.8 1.5-3.9 1.7-5.3 .9-4 .6-3.7 0-3.2-.4-2.5"/><path class="r" d="M412.6 123.6l2.1-3.5 2-4 1.9-4.5 1.7-4.7 1.1-3.9 .8-3.7 .4-3.3 0-2.9-.2-1.2"/><path class="m" d="M406.9 129.9l2.2-2.3 1.9-2.4 1.9-3 2-3.4 2-4 1.5-3.5"/><path class="g" d="M406.4 132.4l2.5-2.5 2.1-2.7 2.4-3.4 2.4-4.1"/><path class="b" d="M413 122.9l1.8-3.2 2.3-4.5 1.7-4.1 1.6-4.2 1.2-4.4 .9-4.1 .3-2.9-.1-3.2-.5-1.8M408.8 130.4l2.4-2.9 2.4-3.7 2.1-3.5 2-4.1 1.9-4.5 1.7-4.8 1.5-4.9 1-4.7 .4-3.3 .1-1.9-.1-1.8-.5-2-.6-1"/><path class="g" d="M406.7 131.3l2.4-2.6 2.2-2.6 2.2-3.4 2.3-4"/><path class="m" d="M418.4 111.3l1.6-4.6 1-3.7 .7-3.5 .3-3.2 0-2.6"/><path class="g" d="M405.8 133.3l2.5-2.4 2.8-3.3 2.3-3.4M405.6 131.8l2.2-2.1 2.6-2.9 2.1-3 2.3-3.7M411.2 123.9l2-3 1.6-2.7 1.9-4 1.4-3.3 1.3-3.5 1.1-3.6 .8-3.4 .5-3.3 0-2.8-.3-2.2-.5-1.1"/><path class="r" d="M404.2 137.5l2.7-2.3 2.5-2.8 2.8-3.7"/><path class="m" d="M404.5 135.9l2.6-2.2 2.5-2.8 2.8-3.7M413.5 119.5l1.8-3.4 1.7-3.8 1.5-4 1.2-4.1 .7-3.1 .3-2.8 0-2.4-.5-1.9M411 123.4l1.8-2.7 1.8-3.2 1.7-3.6 1.3-3.1 1.4-4.1 .9-3.2 .6-3.1 .2-2.7-.1-2.3-.6-1.7M405.2 132.3l2.1-1.8 2.2-2.5 2.1-2.6 2-3.3"/><path class="g" d="M358.2 72l13.7 12.3M413.4 119l1.9-3.5 1.7-3.8 1.2-3.1 1.3-4.2 .7-3.1 .4-2.8 0-2.5-.3-2"/><path class="r" d="M434.8 75.5l-.2-2.8-.6-2.3"/><path class="g" d="M411.5 122.6l2-3 1.9-3.6 1.9-4 1.2-3.2 1.4-4.5 .8-3.2 .4-3.1 .1-2.7-.3-2.1-.5-1"/><path class="r" d="M412.5 120.1l1.7-2.9 1.6-3.4 1.5-3.6 1.2-3.7 .9-3.6 .5-3.3 0-2.3-.4-1.8"/><path class="g" d="M401.3 152.1l2.2-1.6 1.9-1.6 3.6-3.7"/><path class="m" d="M434.8 75.3l-.2-2.8-.6-2.3"/><path class="b" d="M371.5 86.2l6.6 5.2 3.2 2.3 3.1 1.9 2.8 1.7 4 1.9 3.6 1.3 3.2 .8 2.8 .4 3.1-.1 2.6-.5 2.4-1 1.1-.6 1-.9 .5-.7 .1-.5"/><path class="r" d="M401.3 152l2.1-1.6 1.8-1.6 3.8-4"/><path class="m" d="M401.1 152.1l2.1-1.6 1.8-1.6 3.8-3.9"/><path class="b" d="M404.4 132.6l2.2-1.8 2-2 2.1-2.6 2.3-3.3"/><path class="m" d="M409 126.4l2.2-2.8 1.8-2.9 1.9-3.3 1.8-3.8 1.6-4 1.3-4.2 .8-3.3 .6-3.7 0-2.6-.4-2-.4-.7-.4-.6M415.3 114.7l1.5-3.5 1.3-3.7 .8-2.9 .6-2.9 .3-2.5-.1-2.2-.4-1.6M405.1 128.5l1.7-1.4 1.9-1.9 1.6-2 1.7-2.4 1.7-2.9 1.6-3.2"/><path class="b" d="M401.1 152.1l1.8-1.3 2-1.7 3.5-3.6"/><path class="r" d="M403.9 133l2.3-1.7 2.1-2 2.3-2.8 2-2.9"/><path class="m" d="M404.2 130.3l1.8-1.3 1.9-1.7 2-2.4 1.8-2.5 1.8-2.9"/><path class="r" d="M408.3 125.4l1.9-2.3 1.6-2.3 1.6-2.8 1.6-3 1.5-3.4 1.3-3.6 .8-2.8 .7-3.4 .2-2.4-.1-2.1-.4-1.6-.8-1"/><path class="b" d="M407 126.8l2.1-2.2 1.8-2.3 1.9-2.9 1.5-2.7 1.7-3.7 1.3-3.2 1.1-3.2 .8-3.3 .5-3 .1-2.6-.3-2.1-.5-1.1-.9-.7M403.1 136.1l2.2-1.5 2.5-2.3 2.3-2.7"/><path class="g" d="M404.2 129.4l1.8-1.2 2-1.9 1.7-1.9 1.9-2.5 1.8-2.9"/><path class="m" d="M407.1 127.8l1.9-2.1 1.8-2.2 1.8-2.7 1.8-3.1 1.7-3.5 1.3-3.1 1.4-4 .8-3.1 .6-3.1 .3-2.7-.1-2.3-.4-1.8-.4-.6-.5-.5-.6-.3"/><path class="r" d="M412.8 117.3l1.4-2.7 1.3-2.9 1.1-3 .8-3 .6-2.9 .1-2-.1-1.7-.4-1.3"/><path class="g" d="M403.9 130.2l1.9-1.2 2.1-1.8 1.8-2 1.8-2.6"/><path class="m" d="M407.2 127l2-2.1 2-2.6 1.7-2.7 1.7-3.1 1.6-3.5 1.4-3.7 1.2-3.7 .8-3.7 .4-3.2-.1-2.1-.5-1.7-.4-.6-.5-.4-.6-.3"/><path class="r" d="M402.6 135.7l2.2-1.4 2.5-2.2 2.4-2.7"/><path class="b" d="M402.5 136.4l2.1-1.3 2.5-2.1 2.2-2.4"/><path class="r" d="M403.4 129.7l1.9-1.1 1.7-1.4 1.8-2 2-2.5 1.7-2.6"/><path class="b" d="M435.2 72l-.2-1.5-.3-1.3-.4-1"/><path class="g" d="M403.1 131.5l1.9-1.1 2-1.6 2.3-2.4 1.9-2.5"/><path class="b" d="M429 84.7l-.4-3.3-.6-1.6"/><path class="m" d="M403.4 130.7l2-1.2 1.8-1.6 2-2.2 1.8-2.3"/><path class="b" d="M414.1 113.8l1.1-2.5 1.1-3.2 .7-2.5 .5-2.4 .1-2.1-.2-1.8-.5-1.3M403.8 126.3l1.5-.8 1.4-1.1 1.4-1.3 1.5-1.8 1.6-2.2 1.5-2.5 1.4-2.8"/><path class="r" d="M403.5 127.3l1.6-.8 1.5-1.1 1.6-1.6 1.7-2 1.4-2.1 1.5-2.4"/><path class="m" d="M372.7 88.8l6.6 5.1 6 4 3.3 1.9 3 1.5 2.7 1.1 2.4 .8 2.8 .7 2.4 .3 2.4 0 1.9-.3 1.8-.6 1.3-.7-1 .6"/><path class="b" d="M401.7 136l2.3-1.3 2.3-1.7 2.5-2.6"/><path class="g" d="M411.4 118.1l1.3-2.3 1.3-2.6 1.2-2.8 1-2.9 .5-2.1 .4-2.7 .1-1.7-.2-1.5-.5-1.1-.4-.5"/><path class="r" d="M405.3 127.4l1.7-1.3 1.7-1.9 1.6-1.9 1.5-2.3 1.6-2.6 1.5-3 1.4-3.2 1.2-3.4 .7-2.7 .6-3.1 .2-2.3-.1-1.9-.5-1.4-.5-.8-.5-.3-.6-.2-.9-.1"/><path class="b" d="M408.2 123.3l1.5-1.8 1.6-2.2 1.2-2.1 1.6-2.9 1.1-2.5 1.2-3.3 .7-2.6 .6-2.5 .2-2.2-.1-1.9-.4-1.1-.5-.9-.5-.3-.8-.3"/><path class="r" d="M372.7 89l6.4 5 5.9 4 3.1 1.9 3 1.5 2.6 1.1 2.4 .9 2.8 .7 2.3 .4 2.5 .2 1.8-.2 1.9-.4 1.6-.7-1.1 .9"/><path class="b" d="M400.2 143.3l1.4-.7 1.5-.9 1.7-1.3 2.9-2.7"/><path class="m" d="M406.4 124.3l1.4-1.4 1.6-1.8 1.6-2.2 1.3-2.2 1.5-2.9 1.1-2.6 1-2.7 .7-2.7 .4-2.5 .1-1.7-.3-1.8-.5-1-.6-.4-.6-.3-.9 0M409.2 120.3l1.5-2.1 1.2-1.9 1.4-2.7 1-2.4 .9-2.4 .6-2.4 .4-2.2 0-1.9-.3-1.5-.5-.8-.5-.5-.9-.2"/><path class="g" d="M399.8 143.2l1.6-.7 2.8-1.7 1.6-1.3"/><path class="m" d="M410.6 117.5l1.1-1.8 1.2-2.5 .9-2.1 .8-2.2 .5-2.1 .3-1.9 0-1.7-.3-1.3-.5-.8-.4-.3M401.1 132l1.8-.6 2-1.1 2.1-1.8 2-2.1"/><path class="r" d="M406.8 123.6l1.4-1.5 1.5-1.8 1.6-2.2 1.2-2.2 1.4-2.8 1-2.6 .9-2.5 .6-2.5 .3-2.3 0-1.6-.3-1.5-.6-.9-.5-.4-1-.2-.8 0"/><path class="g" d="M402.6 125.8l1.5-.4 1.4-.8 1.5-1.2 1.6-1.6 1.4-1.7 1.4-2"/><path class="b" d="M358.3 74.8l13.2 11.4"/><path class="r" d="M406.1 123.5l1.5-1.4 1.5-1.6 1.4-1.9 1.2-1.9 1.4-2.6 1-2.3 1-2.9 .7-2.4 .3-2.1 .1-1.9-.3-1.5-.5-.9-.5-.4-.8-.3-.8 0-1.1 .4"/><path class="b" d="M404 125l1.4-.7 1.6-1.2 1.3-1.3 1.4-1.7 1.4-2.1 1.4-2.3 1.3-2.6 1.2-2.8 .9-2.9 .5-2.2 .2-2 0-1.7-.2-1.4-.7-1-.6-.4-.8-.2-1 .1-1 .4M406.4 122.8l1.5-1.3 1.2-1.5 1.3-1.8 1.3-2 1.2-2.3 1.1-2.5 .9-2.6 .6-2 .4-2.4 0-1.6-.2-1.4-.5-1-.5-.4-.7-.3-.8 0-.9 .2"/><path class="r" d="M403.8 125.5l1.5-.7 1.4-1.1 1.4-1.4 1.6-1.8 1.5-2.3 1.3-2.1 1.4-2.9 1.1-2.6 .9-2.6 .6-2.5 .3-2.4 0-1.9-.4-1.5-.6-.8-.8-.5-1.1 0-1.2 .3-1.4 .7M409 118.9l1.2-1.6 1.2-2 1.9-4 .7-2.4 .5-1.8 .2-1.7 0-1.5-.3-1.1-.5-.6-.4-.4-.7-.1"/><path class="g" d="M406.9 121.6l1.5-1.4 1.1-1.4 2.4-3.6 1-2.1 1-2.3 .8-2.3 .6-2.3 .2-2 0-1.4-.3-1.4-.5-.8-.7-.4-.5-.1-1 .1"/><path class="b" d="M374.4 92l5.2 4 5.8 4.1 3.2 1.9 2.8 1.5 4.8 2.2 4.2 1.3 1.8 .4 1.9 .2 1.6 0 2-.2-1.9 2.3"/><path class="r" d="M400.5 137.1l1.3-.5 1.5-.8 1.6-1.1"/><path class="m" d="M407.8 120.4l1.2-1.4 2.4-3.5 1.1-2.2 .9-2 .8-2.4 .5-1.9 .2-1.8 0-1.5-.3-1.2-.5-.7-.5-.3-.7-.2-.7 .1"/><path class="b" d="M411 115.6l2-4 .7-2.1 .6-2 .2-1.9 .1-1.3-.3-1.3-.5-.7-.5-.4-.6-.1"/><path class="r" d="M400.1 129.8l1.5 0 1.5-.5 1.7-.9 1.7-1.2 1.8-1.8"/><path class="g" d="M399.2 136.4l2.2-.5 2.2-1.1 2.2-1.5"/><path class="m" d="M401.4 125l1.2 0 1.3-.3 1.4-.7 1.3-1 1.4-1.3 1.2-1.4"/><path class="r" d="M425.9 86.9l-.4-1.3-.9-1.4-.4-.3"/><path class="g" d="M399.7 134.8l1.1-.1 1-.3 2.3-1.1 2.6-2M429.4 80.2l-.3-1.2-.3-1-.5-.8-.6-.6M406.4 121.3l1.4-1.1 1-1.2 1.4-1.8 1.1-1.8 1.9-3.9 .8-2.1 .6-2.1 .3-2 0-1.7-.3-1.3-.4-.7-.6-.4-.5-.2-.9 .1-1.1 .3"/><path class="m" d="M399 133.6l1.7-.1 1.9-.6 2-1.2 2.3-1.8M425 88.6l-.4-1.3-.5-1-.6-.8-.4-.2"/><path class="r" d="M405.3 122.4l1.1-.8 1.2-1.1 1.3-1.4 2.3-3.3 1.2-2.2 .8-1.9 .9-2.4 .5-2 .3-1.8 0-1.5-.2-1.3-.6-.8-.4-.4-.8-.2-.6 .1-1 .3-2.3 1.2"/><path class="g" d="M436.3 67.2l-.4-1.7-.6-1.3-.8-.9"/><path class="m" d="M422 93.7l-.3-1.1-.3-.9-.8-1-1-.5"/><path class="b" d="M400.1 126.9l.9 .2 1.4-.1 1.4-.4 1.5-.8 1.4-1.1 1.5-1.4"/><path class="m" d="M399.1 131.2l1.1 .1 1.7-.2 1.7-.7 1.7-1.1 1.8-1.5"/><path class="b" d="M400.7 121.9l1.3 .5 .9 .2 1.1-.2 1.1-.5 1.3-.7 1.3-1.2 1.1-1.2 2.2-3.2"/><path class="g" d="M398.5 135.8l1.1 0 1.2-.2 1-.3 2.3-1.2 2.3-1.7"/><path class="m" d="M399.4 130.4l.8 .1 1.6-.1 1.8-.7 1.9-1.2 1.7-1.5"/><path class="g" d="M415.4 91.3l.4-1.2-.2-.7-.8-.3M424.2 89.4l-.4-1.7-.3-.6-.8-1-.5-.3"/><path class="r" d="M410.1 115.3l1.7-3.4 .7-1.7 .4-1.7 .2-1.6 0-1.1-.2-.8-.5-.6-.3-.3-.6-.1-1.2 .2M405.6 121.3l1.1-.9 2.2-2.2 2.1-3.3 1.7-3.6 .7-2.1 .4-1.6 .1-1.5 0-1.2-.3-1-.5-.7-.4-.3-.7-.1-1.4 .3-1.7 .9"/><path class="g" d="M424.4 87.9l-.2-.8-.7-1.2-1-.8"/><path class="m" d="M422.6 91.8l-.6-1.5-.5-.7-1-.6"/><path class="b" d="M399.5 129.8l.8 .2 1.4-.1 1.8-.6 1.7-1 1.8-1.5"/><path class="r" d="M398.1 140.1l1.1-.2 2.4-.8 2.6-1.6"/><path class="m" d="M434 70.2l-.4-.9-.5-.6-.6-.6"/><path class="g" d="M423.5 90.1l-.4-1.5-.4-.6-.8-.9-.5-.2"/><path class="m" d="M398.3 134.8l.9 0 1.8-.2 2.1-.9 2.1-1.4"/><path class="b" d="M408.3 117.1l1.7-2.5 1.4-2.7 .8-2.8 .2-1.3 0-1.1-.2-.8-.4-.5-.7-.4-1.2 .2-1.2 .6"/><path class="r" d="M422.4 91.9l-.4-.9-.7-1.1-.6-.5-1.2-.2"/><path class="g" d="M397.7 134.1l.9 .2 1 .1 1.8-.3 2.1-.9 2.1-1.4"/><path class="m" d="M399.2 121.6l1.4 1 1.2 .5 1.1 .1 1.2-.3 1.3-.5 1.1-.9 1.3-1.1M397.3 138.4l1.2 .1 1.1-.2 2.3-.8 2.6-1.6"/><path class="r" d="M434 70.4l-.4-.9-.4-.7-.6-.5-.7-.4M395.4 155.1l2.1-.9 2-1.1 1.8-1.1"/><path class="g" d="M395.4 155.2l2.1-.9 2-1 1.8-1.2"/><path class="m" d="M395.3 155l2-.8 2.1-1 1.7-1.1"/><path class="r" d="M391 110.7l4 3.6 5.3 5.1 1 .8 1.1 .4 .9 .2 .9-.1 1-.4 1-.5 2-1.8 1.9-2.7"/><path class="b" d="M395.3 155l2-.8 1.9-.9 1.9-1.2"/><path class="r" d="M405.9 118l1.6-1.1 1.5-1.8 1.4-2.5 .9-2.6 .1-1.1 0-.9-.2-.8-.4-.4-.6-.3-.9 .2-1.1 .5-1.2 .9-2.4 2.5"/><path class="b" d="M362.4 82.1l12 9.9"/><path class="r" d="M423.4 88.8l-.5-.9-.6-.6-.8-.4-.9-.1M397.6 127.7l1 .7 .9 .5 1 .2 1.5-.2 1.6-.5 1.7-1"/><path class="m" d="M397.4 129l.9 .6 .9 .4 1.1 .2 1.4-.1 1.6-.5 1.8-1.1"/><path class="b" d="M396.6 137.3l1.8 .3 2-.3 2.1-.9M424.1 86.8l-.4-.5-.3-.4-.9-.5-1.1-.2"/><path class="r" d="M419.5 95.5l-.7-1.2-.5-.4-.6-.2-1.4-.1"/><path class="b" d="M396.8 133.7l.8 .4 1 .2 1.7 0 1.9-.5 2.2-1.2"/><path class="g" d="M388.3 110.1l5.2 5 5.9 6.9 1.2 .9 1.3 .6 1.3 0 1.1-.3 1.3-.6 1.3-1"/><path class="m" d="M397.1 130.6l1 .6 1.2 .4 1.3 0 1.8-.4 1.8-.9"/><path class="g" d="M405.8 116.5l1.2-.7 1.2-1.1 1.1-1.9 .7-1.9 .2-1.6-.2-.5-.2-.4-.5-.1-.7 .1-.7 .3-1 .7-1.7 1.8-1.6 2.4-.9 2-.3 2 .1 .9 .2 .6 .4 .5 .5 .3 .7 .1 .8-.2 1-.4 .9-.7 1.7-1.9 1.7-2.6 1.4-3.1 .8-2.8 .1-1.2-.1-1.1-.3-.8-.3-.4-.9-.3-1.4 .3-1.3 .7-1.8 1.4-1.8 1.7"/><path class="m" d="M398.6 125l1.2 .9 1.3 .3 1.4 0 1.4-.4M420.2 94l-.4-.7-.4-.5-1-.5-.7-.1-.8 .1M419.3 95.4l-.4-.6-.4-.5-.6-.3-1-.2-1.5 .2M379.4 99.6l6.1 4.8 15.3 11 2.4 1.4 1.3 .4 1.2-.2 1.3-.8 1.2-1.3 1.2-1.9 .8-2.2 .2-1.6-.2-.7-.3-.3-.5-.2-.7 .2-1.7 1-1.8 1.9-1.5 2.3-1 2.1-.3 2 .1 .9 .2 .7 .4 .4 .5 .3 .7 .1 .8-.2 .8-.4 .8-.6 1.7-1.7 1.7-2.5 1.3-2.7 .8-2.7 .2-1.4-.1-.9-.2-.8-.4-.5-.8-.3-1 .2-1.3 .6-1.6 1.1-1.6 1.5-1.5 1.7-1.3 1.8-1.3 2.1-.8 1.7-.5 1.7-.3 1.5 0 1.4 .2 1.4 .5 .9 .7 .7 .9 .5 1.1 0 1.1-.3 1.3-.6 1.2-.9 1.2-1.3 1.4-1.5 1.3-1.9"/><path class="b" d="M422.2 90.5l-.5-.8-.7-.6-.8-.4-1.6 .1"/><path class="g" d="M420.3 94l-.8-1.4-.8-.5-.4-.1-1-.1"/><path class="r" d="M396.6 136.4l1 .3 .9 .1 2-.3 2.1-.8"/><path class="g" d="M422.9 89.5l-.6-1.1-.9-.8-.5-.2-1.2-.1"/><path class="m" d="M356.9 75.8l2.4 1.8 13.4 11.2"/><path class="r" d="M381.3 102l13.1 10.3 6.3 5.4 1.2 .8 1 .5 .8 .1 .8 0 .8-.2 .8-.4 1.6-1.4 1.6-2 1.6-2.9 .8-2.6 .2-1.3 0-1-.3-.8-.3-.4-.8-.3-1 .2-1.1 .6-1.4 1-1.5 1.4-1.4 1.5-1.2 1.7-1 1.7-.7 1.4-.5 1.6-.3 1.5-.1 1.3 .2 1.3 .4 .9 .6 .7 .8 .4 1 0 1-.2 1.2-.6 1.1-.8 1.2-1.1 1.2-1.4"/><path class="g" d="M366.4 89.1l13.4 10.9 7.2 5.5 5.5 3.8 7.2 4.9 2.3 1.4 1.4 .8 1.2 .3 1.2-.2M396.8 128.6l1 .9 .9 .6 1.1 .3 1 .1 1.7-.4 1.7-.7"/><path class="b" d="M434.3 68.2l-.6-.9-.6-.6-.8-.4M424 86.6l-.4-.5-.8-.6-.4-.2-1.1-.2M395.6 136.8l1 .4 .9 .3 1.1 .1 1.2-.2 1.1-.3 2.2-1"/><path class="g" d="M396.5 129.4l1 .9 .9 .6 1.1 .3 1 .1 1.8-.3 1.6-.8"/><path class="r" d="M368.1 90.9l13.5 11.1 13.2 10.2 5.9 4.7 1.2 .9 1 .5 .8 .2 .8 0 1.4-.5M357.2 76.4l2.4 1.7 13.1 10.9"/><path class="m" d="M420 93.7l-.4-.6-.5-.4-.7-.3-.7-.1-1.7 .3"/><path class="g" d="M386.1 105.1l5.2 5 2.1 2.2 1.9 2.2 4.4 6.5 1.1 1 1.1 .6 1.2 .2 1-.2 1.1-.5 1.2-.8"/><path class="r" d="M376.4 99.6l11.8 10.2 5.2 5 5.8 6.8 1.3 1 1.3 .5 1 .1 1.2-.2 1.3-.6"/><path class="b" d="M405.8 109.7l-1.1 1.5-1.1 1.9-.7 1.7-.5 1.6 0 1.6 .4 1.1 .7 .7 .6 .1 .8-.1 .8-.4 .9-.5 1.7-1.8"/><path class="r" d="M417.6 97.8l-.5-.7-.7-.5-.8-.2-1 .1-1.1 .3"/><path class="g" d="M350.8 66.3l1.7 1.1 1.8 1.3 3.9 3.3"/><path class="m" d="M396 129.4l.9 .9 .9 .7 1.1 .4 1.1 .2 1.7-.2 1.7-.7"/><path class="b" d="M428 79.8l-.4-.7-1-.8-.6-.2-1.4 0M423.1 87.3l-.7-.7-1-.3-1.1-.1"/><path class="g" d="M421 91l-.4-.4-.8-.6-1.1-.2-1.2 .2M420.4 92.2l-.3-.5-.8-.5-.4-.2-1.1-.1-1.2 .3"/><path class="b" d="M377.2 101.2l9.9 8.9 3 2.9 2.5 2.8 5.7 7.8 1.5 1.2 .8 .4 .8 .2 1.3 0 1.3-.4M416.9 98l-.6-.6-.8-.3-1 0-1.1 .3-1.3 .5M411.6 97.4l-.4 0-.8 .3-2.6 2"/><path class="r" d="M404.6 110.6l-1.1 1.5-1 1.5-1.1 2.8-.3 1.2-.1 1.3 .1 1.1 .3 .8 .6 .7 .7 .4 .9 .1 .9-.2 1.1-.5"/><path class="m" d="M419.8 92.5l-.9-.6-.8-.1-.8 0-1.9 .6"/><path class="r" d="M377.7 101.8l9.1 8.3 3 3 2.4 2.8 1.9 2.4 2.9 4.4 1.1 1.4 1.5 1.2 .8 .4 .8 .2 1.2 0 1.4-.4"/><path class="b" d="M378.9 103.2l8 7.4 2.8 2.9 2.4 2.8 1.9 2.8 2.7 4.2 1.1 1.4 .8 .9 .8 .5 .8 .4 .9 .2 1.4 0 1.3-.4"/><path class="r" d="M418.2 94.7l-.5-.3-1-.2-1.5 .2-2.2 1M407.9 104.3l-1.6 1.5-2.8 3.4-2.2 3.4-1.5 3.3-.5 1.6-.3 1.4-.1 1.4 .1 1.4 .3 1.2 .5 .9 .6 .6 .8 .5 1 .2 1.2-.2 1.3-.5 1.4-.9"/><path class="b" d="M408.7 105.8l-1.6 1.1-1.6 1.5-1.6 1.7-1.3 1.7-1.3 2.1-.9 1.8-.6 1.7-.3 1.5-.1 1.7 .1 1.2 .5 1.2 .7 .9 .9 .5 1 .1 1.2-.2 1.3-.6 1.3-.9"/><path class="g" d="M416.1 97.9l-1-.4-1.1 0-1.4 .4-1.5 .8"/><path class="r" d="M410.3 104.2l-1.5 .8-1.9 1.3-1.8 1.7-1.9 2.2-1.5 2-1.3 2.3-.9 1.9-.6 1.8-.4 1.9 0 1.7 .3 1.4 .6 1.2 .8 .9 1.1 .5 1.2 0 1.3-.3 1.4-.7 1.6-1.2"/><path class="m" d="M408.3 103.2l-1.6 1.5-1.7 1.9-1.6 2-2.6 3.9-1 1.8-.7 1.8-.5 1.7-.4 1.8-.1 1.4 .1 1.5 .4 1.3 .5 1 .8 .9 .8 .4 1.2 .2 1.4-.3 1.5-.6 1.6-1.1M414.2 100.8l-.8-.2-.8 0-1 .3-2.2 1.1-2.6 2"/><path class="b" d="M367.2 91.9l7 5.6 14.1 12 5.6 5.2 5.7 6.3 1.1 .9"/><path class="m" d="M369.7 94.8l9.3 7.7 8.6 7.8 2.9 2.9 2.2 2.5 5.8 7.5 1.4 1.2 1.5 .6"/><path class="b" d="M418.1 93.8l-.6-.2-.8-.1-1.9 .5-2.2 1.1"/><path class="g" d="M393 131.1l1.2 2.6 1 1.2 1.2 .9 1.3 .5 1.5 .1"/><path class="r" d="M424.2 83.9l-.9-.4-1.6 0-2 .6"/><path class="b" d="M371.7 97.1l8.6 7.5 7 6.6 2.6 2.8 2.3 2.8 1.6 2.4 2.7 4.3 1.2 1.6 .8 .9 .8 .5 .8 .4"/><path class="r" d="M412.8 101.7l-.7 0-.9 .3-1.9 .9-2.4 1.8-2.7 2.5"/><path class="g" d="M404.8 108.6l-1.6 1.9-1.5 1.9-1.3 2.3-.9 1.9-.5 1.8-.3 1.7 0 1.7 .3 1.5 .5 1.1 .9 .9 1 .4 1.2 .1"/><path class="b" d="M412.7 101.8l-.7 0-1.1 .3-2.1 1.2-2.4 1.8-2.6 2.5"/><path class="r" d="M392.6 136.7l.8 1.3 1.1 1.1 1.1 .6 1.3 .4 1.2 0"/><path class="m" d="M363.9 87.2l2.7 2.1 12.8 10.3"/><path class="r" d="M408.9 104l-2.1 1.6-2.1 2-2.2 2.4-1.8 2.5-1.5 2.5-.9 2-.7 2.2-.3 2 0 2 .4 1.7 .7 1.4 1 .9 1.2 .5 1.3 .1 1.6-.5"/><path class="m" d="M417.9 93.6l-.7-.1-1.5 .2-1.9 .7-2.6 1.6M432.5 68.1l-.7-.3-.7-.1-.9 0M414 99.3l-.8 .1-1.2 .3-1.3 .7-1.5 .9-2.9 2.3M365.9 91.1l3.1 2.4 4.7 3.8 13.9 11.9 3.2 3 2.5 2.5 5.9 6.9"/><path class="g" d="M421.4 86.9l-.6-.2-1.3 .1-2.4 .8"/><path class="b" d="M415.6 96.7l-1 0-1.2 .3-1.3 .6-3.5 2.3"/><path class="m" d="M419.6 90.2l-1.2-.1-1.5 .4-1.7 .8M420.5 89l-1.3-.1-1.6 .3-1.7 .8M418.5 92.7l-.7-.1-1.7 .2-1.9 .8-2.8 1.6"/><path class="r" d="M409 102.9l-2.4 1.8-2.8 2.6-2.4 2.8-2 2.7-1.7 3-1 2.5-.7 2.5-.3 2.3 .1 2.3 .6 2.1 1 1.5 1.1 1 .8 .3 .8 .1 1.5-.1 1.8-.6"/><path class="m" d="M423.1 85.3l-1-.3-1 0-1.2 .3-2.8 1.3"/><path class="b" d="M351.5 70.1l2.5 1.5 4.3 3.2"/><path class="g" d="M422.2 85.8l-.6-.2-1.3 0-.8 .1-1.7 .7"/><path class="r" d="M365.1 89.6l5.8 4.5 20.1 16.6"/><path class="m" d="M367 93.1l4.2 3.3 6.3 5.3 5.8 5.2 4.5 4.4 2.4 2.5 2.1 2.5 1.8 2.4 2.9 4.4 1.6 1.9"/><path class="g" d="M411.1 101.4l-2.4 1.3-2.6 2.1-3 2.8-2.6 3.1-2.1 2.9-1.6 2.9-1.1 2.6-.7 2.8-.2 2.5 .2 2.5 .7 2.1 .9 1.6 1.3 1.1 .8 .3 .9 .2 1.6-.1 1.9-.6"/><path class="r" d="M362.9 87.4l6 4.4 12.4 10.2"/><path class="g" d="M422.5 85.1l-.6-.2-1.4 0-.8 .2-1.8 .8"/><path class="m" d="M374.2 100.6l4 3.6 6 6 2.5 2.7 1.9 2.5 2.6 4 3.5 7.5 1.5 2.3 .8 .9 1 .7 1.1 .4M414.2 98.1l-1.2 .2-1.5 .7-1.5 .9-3.3 2.5"/><path class="g" d="M434.5 63.3l-.9-.6-1.1-.2"/><path class="r" d="M412.2 99.8l-2.4 1.2-2.9 2.1-3.2 3-3.3 3.5-2.5 3.4-2.1 3.5-1.2 2.9-.8 2.7-.3 2.9 .1 2.8 .6 2.6 1 2 .6 .7 .7 .7 .9 .4 .8 .3 1.7 .1 2.1-.6 1.9-1"/><path class="g" d="M427.7 76.6l-.7-.3-.8-.2-1 0-2.1 .7"/><path class="m" d="M379.4 106.1l2.7 2.7 2.6 2.9 2.1 2.7 1.6 2.3 2.2 4 3.1 7.9 1.4 2.5 .9 1.1 .9 .7 1.1 .5 1 .2M412.2 101.4l-1 .3-2.3 1.3-2.5 1.9-2.7 2.6-2.5 2.8"/><path class="r" d="M404.2 107.2l-2.4 2.6-2 2.8-1.7 2.9-1.1 2.4-.6 2.3-.3 2.3 0 2.3 .5 1.9 .9 1.6 1.1 1 .7 .4 .8 .1"/><path class="m" d="M406.8 104l-3 2.8-2.9 3.3-2.2 2.9-1.8 3.1-1.1 2.5-.7 2.7-.3 2.6 .1 2.6 .6 2.2 1.1 1.7 .6 .7 .7 .4 .7 .4 .9 .1 1.6 0"/><path class="r" d="M368.4 95.2l6.4 5.2 7.3 6.7 5 5 2.4 2.9 2 2.7 1.5 2.5 2.6 4.8 1.2 1.8 .8 .9"/><path class="g" d="M380.3 107.5l4.2 4.5 1.6 2 1.7 2.3 1.5 2.6 1.1 2.3 1 2.5 1.8 5.4 1.1 2.3 .8 1.2 .9 1 .9 .6 1 .5 1.8 .1M414.8 89.1l-1.2 .4-1.6 .9-2.6 2M381.1 108.6l2.5 2.7 2.1 2.6 1.6 2.3 1.3 2.2 1.8 3.9 2.6 7.9 1.2 2.7 .8 1.1 .8 .7 .9 .6 .9 .4 .9 .1M368.8 89.6l5.5 4.7 11.8 10.8"/><path class="b" d="M403.8 107.6l-2.3 2.7-2 2.7-1.6 2.9-1 2.4-.7 2.5-.2 2.3 .1 2.1 .6 1.9 .8 1.4 1.2 1 .8 .3"/><path class="m" d="M401.2 110.3l-2 2.8-1.6 2.9-1.1 2.5-.6 2.6-.2 2.3 .1 2.2 .6 2 1 1.5 1.2 1 .8 .3"/><path class="g" d="M365.2 91l4 2.9 8.1 6.7 11 9.5M412.5 100.2l-1.2 .4-2.6 1.5-2.9 2.3-3.2 3.1"/><path class="r" d="M419.5 89.2l-1.5 .2-1.6 .6-1.9 1"/><path class="m" d="M369.4 96.3l3.2 2.6 4.2 3.7 7.1 6.7 2.7 2.9 2.1 2.5 2.7 4.1 3.8 7.2 1.4 2.2 .8 .8"/><path class="r" d="M415.9 95l-2 .6-2.3 1.2-3.4 2.4"/><path class="b" d="M407.8 99.7l-3.2 3.1-3.3 3.6-2.5 3.2-2.1 3.2-1.6 2.9-1.2 2.8-.8 2.8-.5 3.2-.1 3.1 .3 2.7 .7 2.3 1.1 2 1.3 1.2 .8 .4 .9 .3 1 .1 .9 0 2.2-.6"/><path class="r" d="M413.5 98.6l-1.3 .5-1.4 .7-1.5 .9-3.1 2.5-3.8 3.6"/><path class="m" d="M369.1 96.6l3.7 2.9 3.5 3.1 3.7 3.5 3.2 3.1 2.6 2.9 2.4 2.9 1.5 2.3 1.3 2.1 1.2 2.4 2.4 5.4 .8 1.4 .7 1 1 1"/><path class="g" d="M369.5 96.9l3.3 2.6 3.9 3.4 3.6 3.3 3.7 3.7 2.4 2.7 2.4 2.9 1.5 2.1 1.1 2 3.6 7.4 .8 1.4 .7 1M368.4 95.8l3.3 2.6 3.3 2.8 3.9 3.4 4.1 3.9 3.2 3.4 2.5 2.9 1.6 2.2 1.3 2 3.7 7.4 1.5 2.2"/><path class="b" d="M412.3 99.9l-1.1 .5-1.5 .8-2.8 2-3.5 3.3-3.2 3.5"/><path class="r" d="M389.8 155.9l1.5 .1 2.1-.4 2-.5"/><path class="b" d="M390 155.8l1.4 0 1.9-.3 2-.5"/><path class="g" d="M389.6 156.1l1.7 0 2.1-.4 2-.5"/><path class="m" d="M389.9 155.8l1.4 .1 2-.3 2-.6"/><path class="r" d="M416.3 93.6l-1.7 .6-2.5 1.3-2.7 1.8M420.6 86.8l-1.7 .3-1.2 .5-2 1.1"/><path class="m" d="M406.3 103.6l-3.3 3.1-3.2 3.5-2.4 3.4-2 3.5-1.1 2.9-.7 3.2-.2 3.1 .3 2.9 .8 2.4 .6 1 .6 .8 .7 .6 .9 .5 1 .3"/><path class="r" d="M411.3 99.4l-1.6 .9-1.9 1.4-4.4 3.9-3.7 4-3 3.9-2.1 3.6-.8 1.8-.7 2-.5 2.1-.3 2-.1 2.1 .1 2.1 .3 1.9 .5 1.8 .6 1.5 .8 1.2 .9 .8 1.1 .6 1.2 .3 1.4 .1 1.4-.3"/><path class="g" d="M417.3 91.9l-1.8 .4-2.2 1.1-2.3 1.5M402.6 107.5l-3.2 3.7-2.2 3.1-1.7 3.3-1.1 3-.6 2.8-.1 3.1 .4 2.7 .8 2.2 1.2 1.6 .8 .7 .8 .4"/><path class="m" d="M368.4 96l3 2.3 3.6 3.1 3.9 3.6 5.8 5.8 2.3 2.7 1.9 2.4 2.4 4 3.3 7.2 1.4 2.3"/><path class="r" d="M431.9 67.9l-.7-.1-.9 0-.9 .2-1 .4"/><path class="m" d="M416.9 92.3l-1.9 .6-2.2 1.2-2.9 2"/><path class="b" d="M377 102.6l3.2 3.4 2.3 2.9 3.4 4.7 1.4 2.3 1.2 2.5 1.6 4.5 2.2 8.7 .6 1.7 .8 1.5 .6 .9 .8 .7 1.5 .9M400.2 110l-2.5 3.4-1.8 3.2-1.2 2.9-.8 3-.3 2.9 .2 2.6 .6 2.5 .5 1 .6 1 1.3 1.2"/><path class="r" d="M363.6 89.6l4.4 3.1 8.4 6.9"/><path class="b" d="M412.1 97.9l-1.9 1.1-3.9 3-4.8 4.4-3.9 4.4-3 4-1.1 1.9-1 2.1-.8 2-.6 2.1-.8 4.2-.2 5 .1 2.7 .3 2.3 .7 3.1 .5 1.1 .7 1 .7 .8 1 .6 1.1 .4 1.1 .1 1.1-.1 1.3-.3 1.5-.5M412.3 99l-1.2 .5-1.7 1.1-3.5 2.8-3.9 3.6-3.2 3.7M418.6 88.8l-1.2 .3-2 .9-2.2 1.4"/><path class="g" d="M411.1 98.7l-1.7 1.1-3.5 2.7-4.5 4.2-3.8 4.2-2.9 3.9-1 1.8-1.1 2.1-.8 2-.6 1.9-.8 4.1-.2 4.6 .2 4.6 .7 3.4 .5 1.3 .6 1 .8 .9 .8 .6 1 .5 1 .2 1.2 .1 1.5-.2 1.3-.5"/><path class="b" d="M421.4 85.2l-1.2 .1-2.2 .9-3.4 2"/><path class="r" d="M402.4 106.8l-3.3 3.6-2.7 3.8-1.9 3.5-1.2 3.1-.7 3.4-.1 3.3 .3 3.2 .4 1.4 .5 1.3 .6 1 .6 .8 .9 .8 .8 .4"/><path class="b" d="M354.6 77.1l3.1 1.6 4.7 3.4"/><path class="m" d="M406.7 102.4l-4 3.7-3.5 3.8-3 3.9-2 3.6-1.3 3.3-.9 3.5-.2 3.5 .2 3.3 .7 3 .5 1.3 .6 .9 .7 .8 .8 .7 1 .5 1 .2"/><path class="b" d="M432.3 66.3l-.9-.1-1 .1-1.1 .3M420.3 86.2l-1.2 .3-1.5 .6-3.2 1.9M421.3 85.1l-1.3 .3-2.2 .9-3.5 2.1M398.8 110.7l-2.8 3.9-1.9 3.5-1.1 3.2-.7 3.5-.1 3.6 .4 3.3 .9 2.5 .7 1.1 .6 .8 .8 .7"/><path class="m" d="M415.4 94l-2.4 1.1-3.2 2-3.3 2.6M416 92.6l-2 .9-2.3 1.4-3 2.1"/><path class="r" d="M413.5 96.8l-1.6 .8-3.1 2-4.1 3.5-4.3 4.1M363.9 90.9l2 1.3 2.8 2.1 4.2 3.4 4.8 4.1"/><path class="g" d="M419.7 87.3l-1.5 .3-2.5 1.2-4 2.6"/><path class="r" d="M352.2 73.5l2.8 1.4 2.2 1.5"/><path class="g" d="M417.5 90l-1.4 .5-2.4 1.2-4.5 3.2"/><path class="r" d="M359.8 85.2l3.1 1.9 5.2 3.8"/><path class="g" d="M366.5 96.2l2.7 1.8 3.6 2.9 4.1 3.7 3.7 3.6 2.5 2.8 2.1 2.6 1.7 2.3 1.6 2.6 .9 2 .9 2.3 2.7 8.3"/><path class="m" d="M351.7 72.9l.9 .4 2 1 2.3 1.5"/><path class="r" d="M367.2 97.2l3.4 2.5 3.9 3.4 4.1 3.9 3.3 3.6 2.1 2.7 1.7 2.4 1.3 2.3 1.1 2.4 .8 2.2 .7 2.4 1.9 8.7 1.1 3"/><path class="b" d="M424.6 78.1l-1.7 .4-3 1.6"/><path class="g" d="M358.8 84.3l3 1.5 4.6 3.3"/><path class="b" d="M362.6 90.7l2.1 1.1 2.1 1.5 3.1 2.3 9 7.6"/><path class="g" d="M416.6 91.2l-2.2 .9-1.6 .9-2.5 1.7-6.2 5"/><path class="b" d="M361.8 89.7l2.1 1.1 4.6 3.2 8.7 7.2"/><path class="g" d="M346.7 65.1l1.2 0 1.4 .5 1.5 .7"/><path class="m" d="M415.4 92.4l-2.2 1.2-2.3 1.5-3.1 2.4-3.7 3.1"/><path class="g" d="M366.3 96l3.4 2.3 3.6 2.9 4.1 3.7 3.7 3.7"/><path class="m" d="M365.2 94.5l2.7 1.7 3.4 2.7 4 3.4 4.1 3.8M358.2 83.8l3.1 1.7 2.6 1.7"/><path class="g" d="M365.7 95.4l2.8 1.7 3.6 2.9 4.4 3.8 3.8 3.7"/><path class="r" d="M413 95.4l-3.1 2-3.2 2.5-3.7 3.2-3.8 3.6"/><path class="m" d="M430.2 67.7l-.9 .3-1.1 .4-2.2 1.2"/><path class="b" d="M412.6 95.1l-3 2-3.2 2.5-3.7 3.2-3.9 3.7M362.2 90.7l2 1 2.2 1.3 5.3 4.1M360.1 87.6l2.9 1.4 4.2 2.9"/><path class="m" d="M363 92.6l2.1 1.1 2.4 1.5 3 2.3 3.7 3.1"/><path class="g" d="M372.1 101.8l4.7 4.3 4.4 4.9 1.6 2 1.6 2.3 1.1 1.8 1 2.1 .9 2.4 .6 2.1 .6 2.7 .3 2.8 .3 6.6 0 12.7-.2 2.7-.2 .8-.3 .6-.4 .4-.6 .3-1.7 .3-1.8-.2-1.7-.4"/><path class="m" d="M360.8 89l1.9 .8 2 1.2 5 3.8"/><path class="b" d="M408.6 99.9l-4.6 3.8-4.1 4.1-3.7 4.4-2.7 3.9-1.3 2.5-1.1 2.6-.7 2.8-.6 3-.5 5.4-.2 14-.3 3.5-.4 1.2-.7 .7-1.1 .5-1.4 .1"/><path class="g" d="M432.5 62.5l-1.3 .3-1.5 .6"/><path class="r" d="M358.7 86l2.6 1.2 3.8 2.4"/><path class="m" d="M415.2 91.3l-2.5 1.5-2.7 1.9-3.4 2.7-8.3 7.2"/><path class="b" d="M372.6 102.4l4.8 4.4 3.9 4.4 2.8 4 1.1 1.9 1 2 .9 2.3 .6 2.1 .4 2.3 .3 2.4 .2 2.8 0 3-.2 2.8-.3 2.4-.3 1.6-.5 1.4-.6 1.1-.8 .9-.8 .6-1.1 .4-1.2 .2"/><path class="g" d="M417.1 87.6l-1.9 1.1-2 1.3-5.4 4.1"/><path class="m" d="M415.9 90l-2 1.1-4.9 3.6-9.2 7.7M359.8 87.7l1.8 .8 2.1 1.1 2.2 1.5"/><path class="r" d="M419.7 84.1l-3.1 1.8-5.3 3.8"/><path class="b" d="M366.7 99.4l2 1.2 2.6 1.9 2.6 2.3 2.5 2.4 2.5 2.8 1.8 2.4 1.5 2.3 1.2 2.1 .9 2 .8 2.2 .5 2.1 .3 2.2 0 2.1"/><path class="r" d="M400.4 107.2l-3.4 3.9-2.9 4-1.5 2.6-1.1 2.4-.9 2.8-.6 2.8-.4 2.6-.3 3.1-.4 12.3-.4 3.2-.6 1.4-.8 .9-1.2 .6-1.3 .2-1.4 0"/><path class="g" d="M417.8 86.4l-3 1.7-5.6 4.2"/><path class="r" d="M414.5 91l-2.6 1.7-2.9 2.2-9.5 8"/><path class="g" d="M417.9 85.9l-3 1.8-4.6 3.3"/><path class="m" d="M361.9 91.8l2.1 .9 2.3 1.4 3.1 2.2"/><path class="r" d="M361.4 91.1l2.1 .9 2.4 1.4 2.5 1.8M408.2 99.2l-3.6 3-3.8 3.5-3.6 3.8-2.3 2.8-1.9 2.5-1.4 2.3-1.3 2.5-.9 2.3-.8 2.4-2.1 8.7-.5 1.5-.7 1.3-.8 1.2-1.2 1"/><path class="m" d="M366.2 97.5l1.7 1 4.2 3.2 4.9 4.5 4 4.4 3 4 1.2 2 1.1 2.3 .8 2 .7 2.3 .5 2.3 .4 2.6 .4 6.4-.1 8.9-.3 3.3-.3 1.2-.4 .9-.6 .7-.7 .5-.9 .3-1 .2-1.3-.1-1.6-.3-1.7-.5-1.7-.9"/><path class="g" d="M363.1 85.6l1.8 1 3.9 3"/><path class="m" d="M411.2 96l-2.8 2-3.4 2.8-3.7 3.4-3.3 3.2-2.5 2.6-2.4 2.8-1.9 2.5-1.4 2.3-1.2 2.2-1 2.2-2.8 7.6-1.3 2.3"/><path class="r" d="M415.7 88.7l-3.7 2.5-7.1 5.7"/><path class="g" d="M370.2 103.2l2.6 2.1 2.9 2.9 2.5 3 2 3 1.7 3.1M362.3 92.7l1.9 .7 2.2 1.3 3.1 2.2"/><path class="b" d="M366.9 93.6l1.9 1.3 2.3 1.9 5.9 5.8"/><path class="r" d="M356.7 84.7l1.2 .1 1.3 .5 1.4 .7 2.3 1.4"/><path class="m" d="M411.4 95.2l-2.9 2.2-3.6 2.9-4 3.6-3.5 3.3-2.9 3.1-2.4 2.7-2.1 2.9-2.4 4-3.4 7.7M362 92.4l2 .8 2.2 1.3 2.9 2.1"/><path class="g" d="M362 92.3l1.9 .7 2.2 1.2 2.3 1.6"/><path class="m" d="M360.2 89.4l1.1 .4 1.7 .8 4 2.5"/><path class="g" d="M358.9 88.3l1.3 .2 1.5 .5 1.7 .9 1.8 1.1"/><path class="r" d="M409.4 97.3l-3.4 2.7-3.7 3.3-3.9 3.7-2.4 2.6-2.5 2.8-1.9 2.5-1.7 2.7-1.9 3.8-2.9 8-.7 1.6-.8 1.2-1 1.1"/><path class="m" d="M370.7 98.6l3.5 3.4 3.5 3.9 2.7 3.5 2.3 3.3 1.7 3.1 1.3 3.1 1 3.4 .5 3.6 .1 3.6-.4 3.5-.7 2.8-1.1 2.1-.6 .7-.8 .7-.8 .4-1 .3-1.1 .1-1-.1"/><path class="r" d="M358.6 87.4l1.7 .5 1.2 .5 2.1 1.2"/><path class="b" d="M347.7 69.5l.8-.1 .9 0 2.1 .7"/><path class="r" d="M370.6 98.7l3.4 3.3 3.8 4.2 2.6 3.4 2.2 3.2 1.6 3 1.3 3.1 1 3.4 .4 3.3 .1 3.6-.4 3.3-.7 2.6-1.1 2.1-.7 .7-.7 .6-.8 .4-1 .3-1.1 .1-1-.1"/><path class="m" d="M361.4 92.3l1.9 .6 2.1 1.1 3 2M409.9 96.1l-3 2.4-3.6 3-3.9 3.6-5.7 5.8-2.3 2.7-1.8 2.4-2.4 4-3.3 7.2-1.5 2.3"/><path class="b" d="M429.3 66.6l-1.2 .6-2.7 1.7"/><path class="m" d="M406.5 99.7l-3.8 3.3-3.9 3.8-2.5 2.6-2.5 2.8-1.9 2.6-1.7 2.7-2 3.9-2.9 8.3-.7 1.6-.8 1.2-.8 1.1-1 .8"/><path class="g" d="M375.1 106.9l2.8 3.2 2.3 3.1 2 3.3 1.1 2.7 .7 2.9 .3 2.9-.2 2.5-.7 2.5-1 1.7-1.3 1.1-.8 .4M409.4 92.4l-2.9 2.5-3.9 3.6-7.7 7.5-4.2 4.6-3.3 4.3-2 3.2-3 6.2"/><path class="b" d="M413.2 91.4l-2.4 1.7-4.1 3.2-4.8 4.1-10.8 9.6"/><path class="g" d="M411 94.9l-2.5 1.8-3.4 2.8-4.1 3.5-6.8 6.5-2.6 2.7-2.5 2.9-2.8 4.1-3.3 6.5-1.5 2.2"/><path class="m" d="M408.7 97l-3.6 3-4 3.6-3.6 3.4-3 3.1-2.5 2.7-1.9 2.5-1.5 2.3-1.2 2.1-3.5 7.5-1.5 2.5-.8 .8M417.1 86.6l-3.2 2.1-4.3 3.2-12.4 10.2"/><path class="g" d="M423.1 76.8l-2.6 1.4-4.4 3.2"/><path class="r" d="M399.2 106.7l-2.8 3-2.3 2.8-2.2 2.8-1.6 2.6-1.8 4.1-2.8 8.6-.7 1.7-.8 1.4-1 1.2-1.3 .9-1.4 .4M428.4 68.4l-2.2 1.1-2.5 1.8M367.4 99.4l1.5 .9 3.6 2.9 3.9 3.7 3.5 4 2.7 3.8 1.8 3.5 1.3 3.7 .6 3.5 .1 3.6-.2 1.8-.4 1.6-.5 1.5-.6 1.1-.7 1.1-.8 .7-.9 .6-.9 .3-1.1 .1-1.3-.1-2-.5"/><path class="b" d="M372.1 104.1l3.1 2.9 3 3.4 2.4 3.3 1.7 3.1 1.1 2.8 .7 2.7 .2 2.9-.2 2.5-.7 2.2-1.1 1.8-.6 .6-.7 .5-.9 .4-.9 .1"/><path class="g" d="M366.8 99.6l1.4 .7 1.5 1 3.2 2.5 3.5 3.4 3.4 3.9 2.6 3.7 1.8 3.4 1.1 3.1 .7 3.4 .1 3.4-.5 3.2-.4 1.4-.5 1.3-.7 1.1-.7 .8-.8 .6-1 .5-.9 .2-1 0-2.2-.4"/><path class="m" d="M374.6 106.9l2.9 3.2 2.1 2.9 1.7 3 1.1 2.6 .7 2.6 .3 2.6-.1 2.4-.6 2.1-.9 1.6-.7 .7-.6 .5-.8 .3"/><path class="b" d="M372 104l3 2.8 3 3.4 2.4 3.3 1.7 3.1 1.2 2.9 .6 2.6 .3 2.9-.2 2.6-.7 2.2-1.1 1.7-.6 .6-.7 .5-.9 .4-1 .2M363.9 97l1.5 .4 1.3 .6 1.9 1.2 4 3.2"/><path class="r" d="M358.9 89.1l1.5 .2 1.6 .6 1.9 1"/><path class="b" d="M414.4 89l-2.6 1.9-3.7 2.9-20.1 16.6"/><path class="g" d="M363.9 97l1.3 .4 1.6 .7 1.7 1 3.6 2.7"/><path class="r" d="M369.1 101.8l2.8 2.1 3 2.9 3 3.3 2.4 3.3 1.7 3.1 1.2 2.8 .6 2.6 .3 2.9-.2 2.5-.6 2.1-1 1.8-1.3 1.1-.9 .4-.8 .2-1.8 0"/><path class="m" d="M366.4 99.3l1.4 .7 1.5 1 3.1 2.5 3.4 3.2 3.2 3.6 2.6 3.5 1.9 3.5 1.3 3.2 .7 3.2 .2 3.1-.3 3.1-.8 2.6-.5 1.1-.7 .9-.8 .8-.8 .5-1 .3-.9 .1-1.9-.2-2.1-.8"/><path class="b" d="M366.5 99.6l2.7 1.6 3.4 2.6 3.6 3.5 3.1 3.6 2.4 3.4 1.9 3.5 1.1 3.2 .6 3.1 .1 3.4-.5 3-.4 1.4-.5 1-.6 .9-.8 .8-.9 .6-.8 .3-1 .2-1.1 0-2.2-.6M351.4 76.8l1.5-.1 1.7 .4"/><path class="r" d="M349.2 73.4l1.3-.2 1.7 .3"/><path class="b" d="M398.8 106.5l-2.9 2.9-2.4 2.7-1.9 2.5-1.8 2.6-1.9 3.7-3.1 8-.7 1.6-.8 1.2-1 1.1-1.1 .7-1.2 .5-1.3 .1"/><path class="g" d="M365.6 100.5l1.1 .2 1.2 .5 1.2 .7 2.8 2.1 3.2 2.9"/><path class="b" d="M414.6 88.2l-4.6 3.5-13 10.6"/><path class="m" d="M348.7 73l1.4-.3 1.6 .2"/><path class="b" d="M414.3 88.4l-4.7 3.5-12.9 10.6"/><path class="m" d="M404.1 100.6l-4.1 3.6-6.1 6-2.5 2.8-1.9 2.4-2.6 4-3.4 7-1.5 2.3-.8 .9-1 .7-.9 .3"/><path class="r" d="M355.1 84.4l.9-.2 1.1 .1 1.3 .3 1.4 .6"/><path class="g" d="M371.9 105.9l2.1 2 2.3 2.5 1.8 2.7 1.5 2.5 .8 2.1 .7 2.2 .2 2.1-.1 1.8-.5 1.8-.8 1.3-1 .9-1.4 .4-1.4-.1"/><path class="r" d="M369.7 103.7l2.3 1.8 2.5 2.4 2.2 2.6 1.8 2.6 1.4 2.5 1 2.3 .6 2.2 .3 2.3-.2 2-.4 1.7-.8 1.3-1.2 1-1.3 .4-1.4-.1-1.5-.4"/><path class="m" d="M365.2 100.8l.7 0 1 .3 2.1 1.1 2.7 2 2.9 2.7"/><path class="g" d="M355.1 84.2l1.3-.3 .7 0 1.7 .4"/><path class="b" d="M358.4 90l1.3-.2 1.7 .4 1.2 .5M364.8 100.1l.9 .1 1.2 .4 2.5 1.4 2.7 2.1"/><path class="g" d="M366.9 102.1l.9 .3 2.2 1.3 2.4 1.9 2.3 2.2 2.5 2.8 2 2.9 1.5 2.7 1 2.5 .6 2.3 .2 2.2-.2 2.2-.5 1.8-.9 1.5-.6 .6-.7 .5-1.5 .4-1.5-.1-1.8-.6-1.7-1.1M409.2 94.9l-8.4 7-5.6 5-3.9 3.5-3 3.1-2.5 2.9-1.9 2.5-2.8 4.1-.9 1.2-.9 .8-.7 .5"/><path class="b" d="M364.8 100.2l.8 .1 1.2 .3 2.5 1.3 2.7 2.1"/><path class="g" d="M411.7 91.4l-6.4 5.1-16.4 13.7-5.2 4.7-5.2 5.5"/><path class="m" d="M360.4 93.3l.7-.1 1.6 .2 2.5 1.1"/><path class="g" d="M404.1 99.7l-8.7 7.8-3.1 2.9-2.9 3.1-1.8 2.3-1.5 2-4.1 6.7-1.4 1.8-.8 .8-.8 .5-.8 .3-.9 .1"/><path class="r" d="M373 108.4l1.6 1.7 1.3 1.8 1.3 2.1 .9 1.8 .5 1.7 .4 1.6 0 1.6-.2 1.4-.5 1-.7 .8-.9 .5-1.1 0-1.2-.2"/><path class="b" d="M369.6 105.3l1.7 1.2 1.8 1.6 1.8 2 1.4 1.9 1.3 2.2 .9 1.8 .6 1.8 .3 1.6 .1 1.7-.2 1.5-.5 1.2-.7 .9-.9 .5-1.1 .1-1.3-.2-1.3-.6M358.2 90.3l.8-.2 1.5 0 1.7 .6"/><path class="g" d="M373.4 109l1.5 1.7 1.3 1.8 1.3 2.2 .7 1.7 .5 1.7 .3 1.6-.1 1.3-.3 1.4-.5 1-.7 .7-1 .4-1.1 0-1.4-.4M361 95.1l.7-.3 .8 0 1.6 .3 2.4 1.1"/><path class="b" d="M368.1 103.8l1.8 1 2 1.5 1.9 1.8 2 2.3 1.7 2.4 1.3 2.3 .9 1.9 .6 2.1 .3 1.9-.1 1.8-.4 1.6-.6 1.2-1 .8-1.2 .5-1.2 0-1.3-.4-1.5-.7-1.6-1.2"/><path class="m" d="M398.3 104.6l-6.7 6.4-2.7 2.9-2.2 2.9-1.7 2.5-2.9 4.8-1 1.4-.9 .9-.8 .6-.9 .4-1 .2-1.3 0"/><path class="b" d="M357.3 89.6l.7-.4 .9-.2 1.7 .3 1.2 .4M419.9 80.1l-4.6 3.3-11.5 9.4"/><path class="g" d="M360.4 95.3l.7-.5 1.2-.2 1.5 .2 2.5 1.2"/><path class="m" d="M353.9 84l.4-.3 .9-.4 1.1 0 1.9 .5"/><path class="g" d="M374.2 110.8l1.2 1.6 .9 1.6 .6 1.4 .6 1.5 .2 1.4 .1 1.3-.2 1.1-.4 .9-.6 .7-.8 .3-1 .1-.9-.3"/><path class="m" d="M361.6 96.9l1-.4 1 0 1.4 .4 1.2 .6"/><path class="b" d="M356 88l.8-.5 1-.3 1.1 .1 1.2 .3M385.2 152.4l-1.5-.1-1.7-.4-1.9-.7"/><path class="g" d="M344.2 66.9l.7-.9 .8-.7 1-.2"/><path class="m" d="M426 69.6l-2.6 1.8-2.8 2.2"/><path class="g" d="M429.7 63.4l-1.7 .9-3.7 2.9M360 95.2l.6-.6 1.2-.4 1.5 .2 2.4 1"/><path class="r" d="M399.5 102.9l-8.2 7.6-2.9 2.9-2.4 2.8-1.7 2.4-2.8 4.2-1.1 1.4-1.5 1.2-.8 .4-.8 .2-1.2 .1-1.3-.4"/><path class="m" d="M366.4 96l.5 0 .9 .4 2.9 2.2"/><path class="r" d="M360.7 96l.4-.4 .6-.2 .9-.1 1.9 .5 2.7 1.4"/><path class="m" d="M384.2 127.6l-1.5 2.5-1 1-.9 .7-1.2 .4-1.1 .1-1.7-.2"/><path class="r" d="M366.5 96.2l.4-.1 .9 .5 2.8 2.1M355 86.7l.7-.6 .9-.3 1 0 1.1 .2"/><path class="m" d="M356.5 89.5l.6-.5 1.2-.4 .9 0 1.6 .4M383.5 131.9l-1 1.2-1.1 .7-1.3 .5-1.3 .1-1.8-.4"/><path class="r" d="M362.3 98.9l.5-.4 1-.3 .8 .1 1.3 .4 1.5 .7"/><path class="m" d="M399.8 102.4l-8.6 7.8-2.9 3-2.3 2.5-5.8 7.9-1.4 1.3-.9 .4-.7 .2-1.2 0-1.4-.3M355.8 88.4l.7-.6 .7-.3 1.5-.1 1.1 .3M358.2 92.5l.9-.7 .6-.2 .8-.1 1.4 .3"/><path class="g" d="M361.1 85.9l.4-.5 .7 0 .9 .2M370.4 105.7l1.3 1.2 2.4 2.8 2.1 3 1.3 2.9 .7 2.6 0 2.2-.3 1.1-.4 .7-.5 .6-.7 .4-1 .1-1.2-.2-1.1-.6-1.2-.8-1.4-1.3"/><path class="r" d="M357.8 92l.8-.8 .7-.2 .8-.1 1.3 .2"/><path class="m" d="M358.3 93.4l.5-.6 .8-.6 .8-.1 .8 0 1.8 .5"/><path class="g" d="M382.4 124.3l-1.2 2-.8 .9-.8 .6-1 .5-.9 .2-1.5-.1-1.5-.5M407.8 94.1l-20.9 17.3-4 3.5-5 4.8-1 .8-1.1 .4-.9 .1-1-.1"/><path class="b" d="M391.1 110l-3 2.9-2.6 2.8-5.7 7.4-1.4 1.2-1.5 .5-1.3 0-1.2-.3-1.4-.7"/><path class="r" d="M404.9 96.9l-14.7 12.4-5.4 5-5.9 6.5-1.2 .9-1.2 .6-1 .1-1.1-.2-1.2-.5"/><path class="m" d="M382.4 129.5l-.9 1-1 .6-1.1 .5-1.1 .1-1.8-.3-2-.9"/><path class="r" d="M383.3 138l-1.2 .7-1.5 .2-1-.1-1.2-.2-2.1-.9"/><path class="b" d="M373.3 110.9l1.6 2.5 1 2.3 .4 2-.1 .8-.2 .8-.4 .6-.5 .3-.7 .1-.7-.1-.9-.3-.9-.6-1.8-1.8"/><path class="g" d="M358.9 93.9l.6-.7 .4-.3 .8-.3 1.6 .1"/><path class="r" d="M382.6 133.3l-1 .8-1.3 .5-1.3 .1-1.8-.3-1.8-.8"/><path class="g" d="M381.5 127.9l-.8 .8-.9 .6-1.1 .4-.9 .1-1.6-.1-1.6-.6M409.2 92.3l-13.3 10.8-12.9 10.1-5.3 4.5-1.1 .8-1 .4-.9 .2-.8 0-.9-.2"/><path class="m" d="M358.4 93.6l.7-.8 .6-.4 .6-.2 1.7 .2"/><path class="r" d="M411.3 89.7l-11.7 9.6-6.9 5.3-15.1 11-2.3 1.4-1.4 .3-1.3-.2"/><path class="g" d="M410.3 91l-11.7 9.6-6 4.7-15.2 11.5-1.1 .7-1 .5-1.5 .2-1.4-.5"/><path class="b" d="M397 102.3l-11.7 9.2-7.6 6.6-1 .7-1 .5-.8 .2-.9-.1-.9-.2-.8-.4-1.8-1.5-1.7-2.3-1.5-2.9-1-3-.1-1.2 0-1 .2-.8 .5-.6 .7-.2 1.2 .2 1.3 .7 1.5 1.1 1.5 1.5 1.5 1.6 1.3 1.8 1.2 2 .8 1.7 .5 1.6 .3 1.5 .1 1.6-.3 1.3-.4 1-.8 .8-.9 .4-1 0-1.1-.3-1.2-.6-1.3-.9-1.5-1.4"/><path class="g" d="M358.6 93.7l.6-.8 .3-.3 .9-.4 1.6 .1"/><path class="m" d="M356.6 90.9l.4-.7 1-.7 .8-.2 1.4 .1M397.2 102.1l-11.6 9.3-7.8 6.8-1 .7-.9 .5-.9 .2-.8 0-1-.3-.8-.4-1.8-1.5-1.7-2.2-1.6-3.1-1-2.9-.1-1.3 0-1 .2-.8 .4-.5 .9-.3 1 .2 1.3 .7 1.6 1.1 1.5 1.5 1.5 1.7 1.3 1.8 1.1 1.8 .7 1.5 .6 1.7 .3 1.5 0 1.4-.2 1.4-.4 1-.7 .7-.8 .4-1.1 .1-1.1-.2-1.2-.6-1.4-1-1.2-1.2-1.3-1.6"/><path class="b" d="M396.7 102.5l-11.9 9.5-7 6-1 .7-1 .5-.9 .2-.7 0-.9-.2-.8-.3-1.7-1.4-1.8-2.2-1.6-3-1-3-.2-1.2 0-1.1 .2-.8 .4-.6 .8-.3 1.1 .2 1.2 .6 1.6 1.1 1.5 1.5 1.5 1.6 1.3 1.7 1.2 2 .8 1.7 .5 1.7 .4 1.5 0 1.5-.2 1.4-.4 .9-.8 .9-.8 .4-1.1 0-1-.2-1.2-.6-1.4-.9-1.4-1.4-1.2-1.4"/><path class="m" d="M382 134.4l-1.1 .5-1.3 .2-1.9-.2-2.1-.8"/><path class="r" d="M355.3 89.3l.8-1.2 .7-.5 .8-.2 1 0"/><path class="m" d="M381.6 130.5l-1 .7-1.1 .5-1.1 .1-1.7-.2-2-.9"/><path class="b" d="M345.8 71.2l.5-.8 .7-.5 .7-.4"/><path class="g" d="M356.2 90.2l.7-1.1 .4-.3 .5-.3 1.1-.2"/><path class="m" d="M358.1 94l.4-.7 .5-.5 .9-.5 .7-.1 .8 .1"/><path class="r" d="M372.6 117.1l-1.3-.8-1.2-1.4-1.3-2-.7-2.1-.2-1.7 .1-.7 .4-.4 .5-.2 .7 .2 .8 .3 1 .8 1.9 1.9 1.6 2.3 .9 2.2 .4 2.1 0 .8-.3 .8-.4 .6-.5 .3-.8 .1-.7-.2-.9-.4-.8-.5-1.9-2-1.7-2.5-1.4-3.1-.8-2.8-.1-2.1 .2-.8 .4-.5 .8-.4 1.1 .2 1.3 .6 1.6 1.2 1.7 1.5"/><path class="b" d="M364.9 93.8l0-.7 .3-.2 .3 .1 1.4 .6M382.8 145.4l-1.2 0-1.3-.3-1.4-.4-2.8-1.5"/><path class="g" d="M372.4 117.7l-1.5-1.1-1.4-1.7-1.4-2.5-.9-2.4-.2-1.2 0-.8 .2-.9 .4-.4 .6-.2 1 .1 1 .5 1.4 1 1.3 1.3 1.3 1.4"/><path class="r" d="M353.7 86.8l.5-1 .7-.7 .8-.4 1 0"/><path class="g" d="M373 118.9l-.7-.4-1.7-1.4-1.7-2.1-1.6-3-.9-2.8-.2-1.4 .1-1 .2-.8 .4-.5 .8-.2 1.3 .3 1.2 .6 1.6 1.2 1.6 1.6"/><path class="b" d="M403.8 92.8l-6 4.7-5.5 3.8-5.5 3.2-4.3 2.2-3.9 1.4-3.7 .9-3.6 .3 .1 .3 2 2.9 .8 2 .2 1.1 0 .8-.2 .7-.4 .3-.5 .1-.5 0-1.1-.7-1.2-1.2-1.2-1.6-.9-2-.5-1.7 0-1.4 .2-.5 .2-.4 .6-.1 .7 .1 .8 .3 1 .7 1.9 1.9M349.5 78.8l.4-.7 .9-1 .6-.3M388 110.4l-4.3 3.7-5.7 5.7-1 .7-1 .4-1 .1-.9-.1-1.1-.4-1.1-.7-1.1-1-1-1"/><path class="r" d="M356.2 91.4l.6-1.3 .9-.7 1.2-.3M383.2 150l-1.6-.3-1.5-.5-1.7-.8-3.2-2.1"/><path class="m" d="M379.7 131.4l-.8 .2-1.6 0-1.8-.6-1.9-1"/><path class="g" d="M380.3 133.2l-.9 .3-1.8-.1-2-.6-2.2-1.4M373.9 120.9l-1-.5-.9-.5-1.1-.9-.9-1-2.1-2.9-1.8-3.6-1-3.4-.3-1.5 0-1.4 .3-1 .5-.7 .3-.3 .7-.1 .7 .1 .9 .2 1.6 .9 2.1 1.6"/><path class="r" d="M380.5 136.2l-1.5 .1-2.2-.6-2.3-1.2"/><path class="g" d="M416.1 81.4l-11.5 9.6"/><path class="r" d="M347.3 75.6l.4-.8 .9-1 .6-.4"/><path class="g" d="M378.6 125.5l-.8 .4-.8 .2-1.4-.1-1.4-.4-1.4-.9-1.3-1M378.5 120.4l-1.2 .9-1.1 .5-1 .1-1-.1-1.1-.5-1.1-.7-1.3-1.1-1-1.1M382.3 153l-2-.8-2-1-1.9-1.2"/><path class="b" d="M370.1 117.5l-1.8-2.6-1.5-2.9-.9-3.1-.2-1.3 0-1.2 .2-.9 .4-.6 .7-.4 1.3 .2 1.3 .6"/><path class="m" d="M346.9 75.4l.4-.8 .9-1.2 .5-.4"/><path class="g" d="M353.3 87.5l.5-1.7 .8-1.2 .5-.4"/><path class="r" d="M423.7 71.3l-2.7 2.1-12.1 10.6"/><path class="b" d="M369.8 117.8l-1.8-2.8-1.1-1.9-.7-1.7-.6-1.7-.4-1.7-.2-1.5 0-1 .3-1.1 .4-.5 .4-.3 .6-.1 .5 0 .9 .3"/><path class="m" d="M379.3 130.6l-1.1 .2-1.7-.2-1.7-.7-1.6-1-1.8-1.5"/><path class="g" d="M373.9 122.4l-1.1-.5-1.2-.9-1.3-1.3-1.1-1.2-1.3-1.9-1.1-1.8-1.2-2.4-.8-2.1-.6-2.1-.5-2-.1-1.8 .1-1.1 .3-1.2 .5-.5 .5-.3 .8-.1 .9 .1 1.1 .5 2.4 1.4"/><path class="r" d="M373.2 121.7l-1.1-.7-1.1-.9-1.2-1.3-1.2-1.5-1.1-1.8-1.1-2.1-.9-2.1-.8-2.2-.4-1.7-.2-1.6 0-1.4 .3-1.1 .5-.7 .5-.2 .7-.2 1.5 .4 2.1 1.1"/><path class="b" d="M425.4 68.9l-3.1 2.3-14.2 12.6"/><path class="r" d="M374.4 124.2l-1.2-.7-1.5-1-1.3-1.3-1.3-1.6-1.4-1.9-1.1-1.9-1.3-2.5-.9-2.2-.8-2.3-.6-2.1-.3-2.1 0-1.7 .3-1.4 .5-.8 .5-.4 .8-.2 .7 0 1.1 .4 2.5 1.3"/><path class="b" d="M379.2 133.3l-1.9-.1-1.9-.7-1.9-1.2-2.2-1.8"/><path class="g" d="M369.7 118.4l-1.3-1.7-.9-1.5-1.2-2.2-.8-1.9-.7-1.9-.4-1.9-.3-1.7 .1-1.5 .3-1.1 .4-.6 .4-.2 .7-.2 .9 .1"/><path class="r" d="M352.9 88.4l.3-1.5 .5-1.1 .6-.8 .8-.6"/><path class="b" d="M379 133.2l-1.8-.2-2-.8-1.9-1.1-2.1-1.9"/><path class="m" d="M379.8 140l-1.2-.2-1.4-.5-2.5-1.5-2.6-2.1"/><path class="g" d="M373.9 124.1l-1.3-.8-1.4-1.1-1.5-1.6-1.2-1.6-1.3-1.8-1.2-2.2-1.2-2.3-1-2.5-.8-2.6-.5-1.8-.3-2.3 0-1.5 .3-1.6 .6-.8 .5-.4 .9-.2 1.1 .1 1.2 .5M370.4 120.4l-1.1-1.3-1.4-2-1.2-1.8-1.9-4.3-.8-2.2-.6-2.2-.3-2 0-1.3 .3-1.5 .4-.7 .4-.4 .8-.2 .6 0M377.3 128l-1.5-.2-1.5-.5-1.6-1-1.4-1.2-1.5-1.5"/><path class="r" d="M379.5 139.2l-2.3-.6-2.4-1.4-2.6-2"/><path class="b" d="M378.7 134.1l-1.7-.4-2.1-.9-2-1.4-2.3-2"/><path class="m" d="M374.6 125.2l-1.4-.8-1.4-1-1.5-1.4-1.5-1.8-1.5-2.2-1.2-2.1-1.5-2.8-1-2.5-.8-2.5-.6-2.5-.3-2.3 0-1.5 .3-1.6 .5-.8 .6-.4 1-.2 .8 .1 1.3 .4"/><path class="b" d="M373.5 124.5l-1.4-1-1.6-1.4-1.3-1.6-1.4-1.9-1.4-2.2-1.3-2.5-1.2-2.6-.9-2.8-.6-2.2-.4-2.6-.1-1.7 .3-1.5 .5-1 .8-.6 .5-.1 .9 0 1.8 .6M373 123.8l-1.4-1.1-1.3-1.2-1.4-1.6-1.3-1.9-1.4-2.3-1.2-2.4-1.1-2.7-.9-2.7-.5-2-.3-2 0-1.7 .2-1.4 .5-.9 .6-.5 .7-.2 .9 0 1.4 .4M380.1 151.2l-1.7-.9-1.9-1.2-1.8-1.4"/><path class="m" d="M369.2 119.2l-1.4-1.8-1-1.8-1.2-2.4-.9-2.1-.7-2.2-.6-2-.3-1.9 0-1.7 .3-1.3 .5-.7 .5-.3 .8-.2"/><path class="b" d="M369.2 119.5l-1.3-1.7-1.2-2-1.1-2.3-1.1-2.4-.8-2.4-.5-1.9-.3-2.3 0-1.5 .2-1.2 .5-.9 .5-.5 .7-.2M370.3 120.9l-1.2-1.5-1.3-1.8-1.2-2-1.2-2.3-1-2.4-.8-2.5-.5-1.9-.3-2.2 0-1.5 .3-1.2 .5-.9 .5-.4 .7-.2"/><path class="m" d="M376.2 127.6l-1.5-.5-1.7-1-1.5-1.2-1.7-1.7-1.4-1.8M352.3 88.3l.2-1.6 .7-1.8 .7-.9"/><path class="g" d="M376.1 128.1l-1.4-.4-1.6-.9-1.7-1.4-1.5-1.5-1.6-1.9M404.6 91l-6.6 5-5.9 4.1-2.7 1.5-3.6 1.9-2.1 .9-2.9 1-2.4 .6-2.1 .4-2.2 .1-1.7-.2-1.7-.4-1.1-.6 .8 .4"/><path class="r" d="M377.5 132.9l-1.9-.7-1.9-1.1-2.2-1.8-2.1-2.2M353.7 90.8l.2-1.5 .3-1.2 .8-1.4"/><path class="g" d="M371.5 123.7l-1.3-1.3-1.4-1.6-1.5-2-1.4-2.3-1.4-2.7-1.2-2.8-1.1-3-.6-2.2-.5-2.8-.2-1.9 .2-1.6 .4-1.2 .7-.8 .6-.4 1.1-.1"/><path class="m" d="M376.8 132.1l-1.8-.7-1.9-1.3-2-1.7-2-2.2M420.6 73.6l-12.3 10.8"/><path class="b" d="M371.7 124.6l-1.7-1.7-1.5-1.9-1.6-2.2-1.2-2.1-1.5-2.9-1-2.5-1.2-3.2-.7-2.5-.4-2.5-.2-2.1 .2-1.8 .5-1.3 .6-.6 .9-.3 1 0"/><path class="g" d="M377.4 136.8l-2.3-1-2.2-1.5-2.5-2.3"/><path class="m" d="M377 134l-1.9-.8-2.1-1.4-2.1-1.9-2.2-2.5"/><path class="b" d="M376.6 135.1l-2.2-1.1-2.2-1.7-2.5-2.5"/><path class="g" d="M361.9 89.4l-.6-1.3-.3-1.1 .1-1.1"/><path class="r" d="M374.8 125.7l-1.5-.7-1.4-1.1-1.5-1.4-1.6-1.8-1.5-2.2-1.3-2.2-1.5-2.9M364.5 113.4l-1.1-2.6-.9-2.6-.6-2.6-.4-2.4 0-1.6 .3-1.7 .5-1M375 128.3l-1.7-1-1.6-1.2-1.7-1.7-1.8-2.2-1.5-2.2M377 137.2l-2.4-1.3-2.4-1.9-2.3-2.4"/><path class="g" d="M374.7 127.9l-1.6-.9-1.8-1.4-1.5-1.5-1.6-2-1.7-2.4M343.2 71.7l.1-1.9 .4-1.6 .5-1.3"/><path class="m" d="M375.9 135.2l-2.2-1.3-2.1-1.8-2.3-2.5M375.6 134.1l-2.1-1.3-2.4-2.1-2.3-2.6M368.4 121.4l-1.5-2.1-1.4-2.4-1.4-2.7-1.3-3-1.1-3-.8-3-.4-2.8-.1-2 .2-1.6 .5-1.3 .5-.6"/><path class="g" d="M374.6 129.1l-1.7-1.1-1.9-1.6-1.7-1.8-1.7-2.2-1.8-2.7"/><path class="m" d="M378.5 148.7l-3.3-2.1-1.7-1.4-1.9-1.8M374.7 130.7l-2-1.3-1.9-1.7-2-2.3-1.8-2.5"/><path class="r" d="M376.3 137.7l-2.3-1.4-2.6-2.2-2.5-2.8"/><path class="m" d="M371.4 127.4l-1.9-2-1.7-2.1-1.7-2.6-1.7-3-1.7-3.3-1.6-3.7-1.3-3.9-.8-3-.5-2.9-.2-2.6 .1-2.2 .5-1.6 .4-.6 .5-.4 .6-.2M374.5 130.5l-2-1.4-1.9-1.7-2-2.4-1.8-2.4"/><path class="g" d="M369.8 123.6l-1.6-1.9-1.6-2.3-1.6-2.8-1.6-3.1-1.1-2.5-1.2-3.5-.8-2.6-.6-3.3-.2-2.2 .2-1.9 .4-1.4 .9-1M368.3 122l-1.6-2.3-1.7-2.8-1.5-3.1-1.1-2.5-1.3-3.5-.8-2.7-.7-3.4-.2-2.2 .1-2 .5-1.5 .4-.7"/><path class="r" d="M375.4 133.6l-2.1-1.4-2.1-1.7-2.2-2.5-2-2.5M366.7 120l-1.5-2.6-1.5-2.9-1.4-3.2-1.2-3.3-.7-2.6-.6-3.1-.2-2.2 .1-1.9 .5-1.5 .5-.7"/><path class="b" d="M348.7 84.3l.3-3.6 .5-1.9"/><path class="g" d="M366.5 119.7l-1.6-2.8-1.7-3.2-1.1-2.6-1.3-3.6-.7-2.7-.6-2.7-.3-2.4 0-2.1 .4-1.6 .4-.8"/><path class="b" d="M376.1 143.2l-3-2.2-3-3"/><path class="r" d="M374.5 134.5l-2.4-1.9-2.2-2.2-2.5-3.1"/><path class="b" d="M344.8 77.8l.1-3.1 .2-1.4 .7-2.1"/><path class="g" d="M373.1 128.4l-2-1.6-1.6-1.7-1.8-2.2-1.8-2.7-1.9-3.2"/><path class="m" d="M373.6 130l-1.8-1.5-1.9-1.9-2.1-2.6-1.8-2.7-1.9-3.2"/><path class="g" d="M376.4 150l-1.6-1.3-1.8-1.5-2.1-2M424.3 67.2l-4.4 3.8-12.1 11.2M365.8 119.7l-1.8-3.2-1.8-3.6-1.1-2.9-1.4-4-.8-3-.5-2.8-.2-2.6 .2-2.1 .5-1.6"/><path class="b" d="M371.3 129.5l-1.9-2.1-2.1-2.6-2.2-3.4-1.8-3.1-1.7-3.5-1.6-3.9-1.5-4-1.1-4.1-.8-3.9-.3-2.6 .1-3 .5-1.7 .8-1.2 .7-.4"/><path class="g" d="M364 117l-1.7-3.6-1.3-3-1.4-4.1-.8-3.1-.6-2.9-.2-2.7 .1-2.2 .5-1.7"/><path class="b" d="M371.2 129.2l-2-2.1-2.1-2.7-2.1-3.3-1.8-3.2-2.1-4.4-1.5-3.9-1.4-4-1-4-.6-3.8-.2-2.4 .1-1.5 .2-1.2 .6-1.5 .9-.9"/><path class="m" d="M369.1 126.2l-1.8-2.4-1.9-2.9-1.9-3.3-1.8-3.8-1.7-4.1-1.3-4.3-.8-3.3-.5-3.2-.2-2.7 .3-2.2 .3-.8 .4-.7"/><path class="g" d="M373.4 131.4l-2.2-1.8-2.4-2.5-2.1-2.8-2.1-3.3"/><path class="m" d="M367 122.9l-1.9-2.9-1.8-3.3-1.7-3.8-1.6-4-1.2-4.1-.8-3.2-.4-2.9 0-2.6 .4-2 .3-.7M364.1 118.1l-1.7-3.5-1.7-3.9-1.3-4.1-.9-3.2-.6-3.1-.2-2.7 .1-2.3 .6-1.7"/><path class="r" d="M369.4 127.1l-2.2-2.8-1.9-3-1.9-3.4-1.9-3.9-1.7-4.2-1.4-4.3-.9-3.5-.5-3.2-.2-2.9 .3-2.3 .3-.9 .4-.7M346.6 82.6l0-2.8 .2-2.3 .5-1.9"/><path class="m" d="M366.8 122.6l-1.8-3-1.8-3.3-1.8-3.8-1.5-4-1.2-4.1-.7-3.1-.3-2.9 0-2.5 .4-1.9M408.3 84.4l-4.7 3.9-3.1 2.4-3 2-4.2 2.7-2.6 1.4-3.7 1.7-3.4 1.2-3 .7-3.5 .3-2.9-.1-3-.7-2.2-1.1-1-.7-.9-.8-.7-.8 0-.5"/><path class="r" d="M408.9 84l-4.7 3.9-3.1 2.3-2.9 2.1-4.2 2.7-3.9 2.2-3.6 1.6-3.2 1-3 .7-3.3 .3-2.9-.2-2.9-.7-2.1-1-1.9-1.5-.6-.8-.1-.4"/><path class="b" d="M370.6 129.4l-2.1-2.4-2.2-3-1.8-2.9-1.8-3.4-1.8-3.7-1.6-4.1-1.5-4.2-1.1-4.3-.7-3.9-.2-2.7 .2-2.2 .4-1.8 .9-1.2"/><path class="r" d="M375.2 146.3l-1.7-1.4-1.9-1.8-3.2-3.6"/><path class="m" d="M368.8 128.1l-2.1-2.7-2.1-3.3-2.1-3.9-2.1-4.4-1.5-3.9-1.6-5-1-4-.7-3.7-.2-3.3 .3-2.6 .3-1 .5-.8M346.4 82.9l-.1-3 .2-2.5 .4-2"/><path class="g" d="M364.6 121l-2.2-3.9-2-4.6-1.9-4.9-1.6-5.1-.8-3.8-.4-3.4 0-2.9 .5-2.2"/><path class="m" d="M368.7 127.4l-2-2.7-2.1-3.3-1.7-3-2-4.2-1.5-3.7-1.6-4.8-1-3.8-.7-3.6-.2-3.2 .2-2.7 .5-1.5"/><path class="b" d="M369.7 129.8l-2.2-2.8-2.4-3.5-2-3.4-1.9-3.8-1.9-4.3-1.6-4.6-1.4-4.6-1-4.6-.5-4.1 0-2.6 .4-2 .8-1.5"/><path class="m" d="M369.3 129.6l-2.1-2.6-2.2-3.3-2.2-3.9-2.2-4.6-1.7-3.9-1.8-5.3-1.2-4.3-.8-4-.4-3.7 .2-3 .4-1.7 .5-.9"/><path class="r" d="M372.2 135.2l-2.4-2.5-2.7-3.3-2.4-3.6"/><path class="b" d="M374.7 147.7l-2.1-1.8-1.7-1.7-3.8-4.5"/><path class="r" d="M367 125.5l-2-3.2-1.7-2.9-2-4.1-1.5-3.6-1.7-4.8-1.1-3.9-.8-3.7-.4-3.4 0-2.9 .4-1.6M367.4 127.3l-2.1-3.1-2.2-3.9-1.8-3.4-2.1-4.9-1.5-4.1-1.6-5.3-.9-4.1-.5-3.7 .1-3.2 .2-1.3 .3-1"/><path class="b" d="M408.1 83.8l-3.7 3.1-3.6 2.8-3.5 2.5-5 3-3.1 1.6-4.3 1.7-3.8 .9-3.3 .4-2.9-.1-2.5-.5-2.8-1-1.1-.7-1.4-1-1.1-1-.7-.9-.4-.8"/><path class="m" d="M372.1 135.7l-2.5-2.6-2.9-3.6-2.4-3.8"/><path class="g" d="M370.4 132l-2.2-2.6-2.3-3.2-2.5-4-1.9-3.5"/><path class="r" d="M368.9 131.3l-2.3-2.9-2.3-3.7-2.5-4.4-2.4-5.1-1.8-4.5-1.7-4.8-1.3-4.8-1-4.7-.5-4.2 .1-3.4 .5-2"/><path class="g" d="M361.5 118.7l-2.5-5.4-1.8-4.5-1.5-4.7-1.3-4.7-.9-4.5-.4-4.1 .2-3.3"/><path class="r" d="M358.5 112l-1.6-4.4-1.4-4.6-1-4.5-.6-4.2-.2-3.5M369.9 131.6l-2.6-3.2-2.3-3.4-2.3-4-1.9-3.8-2.3-5.2M364.7 125.8l-2.5-4.3-2.5-5.1-1.8-4.5-2.2-6-1.4-5-1-4.7-.5-4.3 0-1.9 .1-1.6"/><path class="m" d="M371.6 143.4l-3.3-3.7-3.6-5M364.3 125.7l-2.6-4.5-2.6-5.4-1.9-4.8-2.2-6.4-1.4-5.1-.9-5-.4-4.3 0-1.9"/><path class="g" d="M343.8 81.5l-.4-2.7-.3-4.9 .1-2.2"/><path class="b" d="M370.1 138l-2.9-3.5-3.2-4.6-2.6-4.6"/><path class="g" d="M370.9 145.2l-3.8-4.6-3.5-5M407.8 82.2l-5 4.2-2.5 1.9-4.8 3.3-4.5 2.7-4.3 1.9-3.9 1.2-3.6 .6-1.6 .1-3.1-.2-2.7-.6-1.2-.4-2.3-1.1-2.8-2-1.5-1.5-1.2-1.4-.9-1.5"/><path class="b" d="M361.4 125.3l-2.8-5.4-2.7-6.2-2.5-7-2.2-7.2-1.3-5.5-.8-5.1-.4-4.6"/><path class="r" d="M368.4 139.5l-3.6-4.9-3.2-5.3-2.7-5.2"/><path class="b" d="M367.1 139.7l-3.6-5.3-3.1-5.3-3.3-6.5"/><path class="m" d="M353 110.7l-2.5-7.5-2.1-7.8-1.4-7.5-.6-5"/><path class="r" d="M358.9 124.1l-3.4-7.6-2.7-6.9-2.4-7.4-2-7.6-1.3-7.2-.5-4.8"/><path class="b" d="M357.1 122.6l-3.3-7.6-3.1-8.6-2.7-9.2-1.7-7-1.1-6.6-.4-5.8"/><path class="m" d="M364.7 134.7l-3.3-5.5-2.8-5.3-2.8-6.2-2.8-7"/><path class="g" d="M363.6 135.6l-3.9-6.5-3-6-2.1-4.6-2-5M352.6 113.5l-3-8.3-2.7-8.9-2.1-9-1-5.8"/></g><path d="M305.55 12.4V171.5H514.7M305.55 171.5v-2.3M347.38 171.5v-2.3M389.21 171.5v-2.3M431.04 171.5v-2.3M472.87 171.5v-2.3M514.7 171.5v-2.3M305.55 156.4h2.3M305.55 124.4h2.3M305.55 92.4h2.3M305.55 60.4h2.3M305.55 28.4h2.3" stroke="#858585" stroke-width=".8" fill="none"/><text x="305.55" y="184.8" text-anchor="middle">-40</text><text x="347.38" y="184.8" text-anchor="middle">-20</text><text x="389.21" y="184.8" text-anchor="middle">0</text><text x="431.04" y="184.8" text-anchor="middle">20</text><text x="472.87" y="184.8" text-anchor="middle">40</text><text x="514.7" y="184.8" text-anchor="middle">60</text><text x="301.95" y="159.8" text-anchor="end">0</text><text x="301.95" y="127.8" text-anchor="end">20</text><text x="301.95" y="95.8" text-anchor="end">40</text><text x="301.95" y="63.8" text-anchor="end">60</text><text x="301.95" y="31.8" text-anchor="end">80</text><text x="410.12" y="197.8" text-anchor="middle" font-size="11" font-style="italic">x</text><text transform="translate(287.35 92.4) rotate(-90)" text-anchor="middle" font-size="11" font-style="italic">z</text><rect x="422.2" y="17.4" width="87.5" height="44.3" fill="#fff" stroke="#666" stroke-width=".6"/><path d="M424.5 23.65h18.5" stroke="#f00" stroke-width="1" fill="none"/><text x="445.8" y="27.35" font-size="9.1">{0.3,0.3,0.3}</text><path d="M424.5 34.25h18.5" stroke="#00f" stroke-width="1" fill="none"/><text x="445.8" y="37.95" font-size="9.1">{0.4;0.4;0.4}</text><path d="M424.5 44.85h18.5" stroke="#0f0" stroke-width="1" fill="none"/><text x="445.8" y="48.55" font-size="9.1">{0.2;0.2;0.2}</text><path d="M424.5 55.45h18.5" stroke="#f0f" stroke-width="1" fill="none"/><text x="445.8" y="59.15" font-size="9.1">{0.35;0.35;0.35}</text><text x="421.2" y="214.7" text-anchor="middle" font-size="12">(<tspan font-weight="bold">b</tspan>)</text></g>
<g><path d="M31.2 237.5V397.4M73.06 237.5V397.4M114.92 237.5V397.4M156.78 237.5V397.4M198.64 237.5V397.4M240.5 237.5V397.4M31.2 381.41H240.5M31.2 349.43H240.5M31.2 317.45H240.5M31.2 285.47H240.5M31.2 253.49H240.5" stroke="#e6e6e6" stroke-width=".7" fill="none"/><g class="cv"><path class="b" d="M61.8 315.2l1.7-2.2 2-2.2 2.2-2.1 2.3-2.1 2.6-1.9 2.8-1.8 3-1.7 3.1-1.5 3.3-1.3 3.5-1.2 3.5-.9 3.6-.8 3.7-.6 3.7-.3 3.7-.2 3.7 .1 3.6 .3 3.5 .4 3.4 .6 3.3 .8 3.1 1 3 1.1"/><path class="g" d="M53.5 338.5l-.3-2.6 0-2.8 .2-2.8 .4-3 .7-2.9 1-3 1.3-3 1.7-3.1 2-3 2.3-2.9 2.7-2.8 3.1-2.7 3.4-2.6 3.7-2.4 4.1-2.1 4.3-1.9 4.6-1.6 4.8-1.3 5-1 5-.6 5.1-.3 5.1 .1 5 .4 4.9 .8 4.6 1 4.4 1.3 4.2 1.6 3.8 1.8 3.5 1.9 3.1 2 2.7 2.1"/><path class="m" d="M61.6 320.5l2.4-3.8 3.1-3.7 3.7-3.4 4.2-3.2 2.4-1.4 5-2.5 2.7-1.1 2.8-1 5.7-1.4 3-.6 5.9-.6 3-.1 5.8 .3 2.8 .3 5.4 1 5 1.5 4.5 1.8"/><path class="b" d="M57.8 347.6l-1.3-3.6-.4-2-.7-4-.1-2.2 .2-4.4 .3-2.2 .5-2.3 .7-2.4 .9-2.3 1.1-2.3 1.3-2.4 1.5-2.3"/><path class="r" d="M59 343.1l-.7-3.2-.2-1.7-.1-3.6 .2-1.8 .6-3.7 .4-1.9 1.4-3.7 .9-1.9 2.3-3.8 2.8-3.6 1.6-1.7 3.8-3.3 4.2-3 4.8-2.5 5.2-2.2 2.7-.9 2.8-.7 5.7-1.1 2.9-.3 5.7-.2 2.9 .1 5.5 .5 5.2 1.1 4.8 1.4 4.3 1.8 3.8 2 3.3 2.2 2.7 2.2"/><path class="m" d="M61.2 350.3l-1.9-4.4-.9-3.2-.3-1.7-.5-3.4 0-1.8 .2-3.7 .3-1.9 .9-3.9 1.6-3.9 1-1.9"/><path class="b" d="M63.2 343.4l-.4-1.5-.5-3.2-.1-1.7 0-3.4 .6-3.6 .4-1.8 1.3-3.7 2-3.6 1.2-1.8 2.8-3.5 3.4-3.3 4.1-2.9 4.5-2.6 2.5-1.1 2.5-1 5.4-1.5 2.7-.6 5.6-.7 2.8-.2 5.5 .2 2.7 .3 5.1 .9 2.4 .7 4.5 1.5 2 .9 3.7 2 3.2 2.2 2.6 2.2"/><path class="r" d="M70.4 329.8l.9-2.5 2-3.5 1.8-2.3 3.2-3.2 2.5-2 2.8-1.7 3-1.5 3.2-1.3 3.3-.9 3.4-.7 5.2-.5 3.4 .1 3.2 .3 3.2 .6 4.3 1.2 2.6 1.1 2.3 1.2 2 1.3"/><path class="g" d="M64.9 360.7l-2.8-3.1-1.3-1.7-2.4-3.7-2.1-4.1-.9-2.2-.8-2.4-.6-2.4-.5-2.6"/><path class="m" d="M70.4 347.2l-.8-2-.8-2.1-.7-3.4-.2-3.7 .4-3.8 1.2-3.8 1.1-2.6 .7-1.3 1.7-2.5 1-1.2 2.2-2.4 1.2-1.1 2.7-2.1 1.5-.9 3.1-1.8 3.4-1.4 1.7-.6 1.8-.6 3.7-.8 1.9-.3 3.7-.4 5.5 .1 5.2 .7 4.8 1.3 4.1 1.8 2.4 1.3 2.1 1.5 2.6 2.2 1.4 1.6 1.2 1.5"/><path class="b" d="M73 331.3l1.3-3.5 2.1-3.4 1.8-2.2 2.1-2.1 1.2-.9 2.5-1.8 2.9-1.6 1.5-.7 3.1-1.1 4.9-1.2 5-.5 4.9 .2 4.6 .8 4.2 1.3 2.4 1.1 2.2 1.2 2.7 2.1"/><path class="g" d="M70.9 342.4l-.6-2.7-.2-1.4-.1-2.9 .3-3.1 .4-1.5 1-3.2 1.6-3.1 2.1-3.1 2.7-2.9 3.3-2.7 3.7-2.3 4.2-1.9 4.5-1.4 4.7-.9 4.8-.4 2.4 .1 4.6 .4 4.3 .9 2 .6 3.7 1.5 3.3 1.7 1.4 1 2.5 2 1.9 2"/><path class="r" d="M81.6 319l3.6-2.3 4-1.9 2.8-.9 3-.8 4.4-.6 4.4 0 4.2 .4 2.7 .6 2.4 .7 2.3 .9 3.1 1.5M75.8 349.2l-.9-1.5-1.5-3.2-.6-1.7-.5-1.8-.3-2-.1-1.9 .2-3.1 .8-3.2 1.3-3.2 1.9-3.1 2.5-2.9 3-2.6"/><path class="m" d="M79.6 322.3l2.9-2.5 2.2-1.5 3.7-1.9 2.6-1 2.7-.8 4.2-.8 2.8-.2 4.1 .1 2.6 .4 3.7 .8 2.3 .8 2 .9 1.9 1"/><path class="r" d="M71.4 347.4l-1.2-2.8-.7-2.1-.4-2.1-.3-3.5 .2-3.5 .9-3.7 1.6-3.7 2.3-3.6 1.9-2.3 1.1-1.1 2.4-2.1 2.7-1.8 1.5-.9 3.1-1.5 4.9-1.8 5.3-1.2 5.2-.4 5.2 .2 4.8 .8 3 .8 2.8 1 2.4 1.2 2.3 1.3 1.9 1.4 1.7 1.4 2 2.2 1.5 2.2"/><path class="b" d="M79.4 323.5l1.9-1.9 2.1-1.7 2.4-1.6 4-1.9 2.9-1 2.9-.7 3-.5 3-.1 3 .1 2.8 .3 2.7 .6 2.5 .7 3.4 1.5 2.8 1.7"/><path class="m" d="M72.2 340.3l-.2-3 .1-3.1 .8-3.2 .7-2.1 1.7-3.2 1.5-2 2.7-2.9 2.1-1.8 3.5-2.3 2.7-1.3 2.8-1.1 2.9-.8 3-.6 4.5-.4 2.9 0 4.3 .4 2.6 .6 2.5 .8 2.3 .9 3 1.5 1.8 1.2 2.2 1.9 1.2 1.3"/><path class="r" d="M77.8 349.3l-1.3-2-.8-1.4-1.2-3.1-.7-3.4-.2-2.7 .1-1.9 .4-1.9 .9-2.9 1.4-2.9 2-2.8 2.4-2.6 3-2.3M83.8 319.4l3.4-1.9 3.7-1.6 3.9-1 4.1-.6 4-.1 3.8 .3 2.4 .5 2.3 .6 2.1 .8 2.8 1.3M73.7 348.5l-1.7-3.4-.7-1.9-.5-1.9-.4-3.2 0-3.2 .6-3.4 1.2-3.5 1.9-3.4 2.5-3.2 2.1-2 2.3-1.9 2.6-1.7 4.2-2.1 4.7-1.6 3.2-.7 3.2-.4 4.9-.2 3.1 .3 3 .4 2.8 .7 2.6 .9 2.4 1 2.2 1.2 2.7 1.9 1.6 1.3 1.3 1.4 2.1 2.7"/><path class="m" d="M77.7 349.8l-1.4-2-1.2-2.2-1-2.4-.6-2.6-.3-1.8-.1-2.9 .5-2.9 .9-3.1 1.4-2.9 2-2.9 1.7-1.8"/><path class="b" d="M75.5 332.6l1-3 1.6-3 2.3-2.8 1.8-1.8 3.2-2.3 2.4-1.4 3.9-1.6 4.1-1.1 4.3-.5 4.2 0 3.9 .6 3.6 1 3.2 1.4 1.9 1.1 1.6 1.1M75.4 331.9l1.2-3 1.1-2 1.4-2 1.7-1.9 1.9-1.7 2.2-1.6 2.4-1.4 2.6-1.1 4.1-1.4 4.3-.8 2.8-.1 2.9 0 2.7 .3 2.6 .5 2.4 .7 2.2 .9 2 1 1.8 1.1 1.6 1.2M78.7 349.7l-1.5-2.1-1.3-2.3-1-2.5-.7-2.8-.2-3 .1-2 .6-3.2 .7-2.2 1.1-2.1 1.3-2 1.6-2"/><path class="r" d="M79.1 326.2l2.1-2.4 1.6-1.5 1.8-1.3 2-1.3 2.1-1 3.4-1.3 2.3-.7 2.4-.4 2.4-.3 2.4-.1 2.3 .1 2.3 .3 2.1 .5 2.1 .5 1.8 .7 2.6 1.3 2.8 1.9M75.5 352.7l-1.7-2.2-1.6-2.4-1.3-2.8-1-2.9-.6-3.3-.1-3.4 .3-2.3 .9-3.6"/><path class="m" d="M73.9 337.4l0-1.8 .3-1.9 .8-2.9 1.3-2.9 1.8-2.8 2.3-2.6 2.9-2.4 3.2-2 2.4-1.2 2.5-.9 4-1 4-.6 4 0 2.5 .2 2.5 .4 2.3 .6 3.1 1.2 1.9 .9 2.5 1.5 1.4 1.1 1.8 1.8"/><path class="g" d="M75.3 343.1l-.9-3.2-.3-2.3 0-2.5 .1-1.2 .6-2.5 .9-2.6 .6-1.3 1.6-2.5 1.9-2.4 2.4-2.2 2.8-2.1 3.1-1.7 3.4-1.4 3.7-1 3.7-.6 3.7-.3 3.7 .2 3.5 .5 3.3 .9 1.5 .6 2.8 1.2 2.4 1.5 3 2.4 1.5 1.7 1.7 2.5M81.4 327.1l1.5-1.9 2.9-2.5 2.3-1.5 3.7-1.8 2.8-.8 2.8-.6 2.9-.3 2.8 0 4 .5 2.5 .6 3.4 1.4 2.8 1.7"/><path class="b" d="M130.1 298.7l2.8 1.1 2.6 1.3 2.4 1.4 4.1 2.9 3.3 2.9"/><path class="r" d="M72.2 363l-2.8-2.5-1.8-1.9-1.8-2-1.7-2.3-1.6-2.5-1.4-2.7-1.2-2.9-.9-3.1"/><path class="g" d="M78.3 332.4l.8-2.1 1.7-3 1.5-2 2.9-2.6 2.3-1.6 3.8-1.9 2.8-.9 2.9-.7 2.9-.3 2.9 0 4.2 .4 2.6 .7 3.5 1.3 2.9 1.8 2.4 1.9"/><path class="r" d="M81.2 350.8l-2.2-2.6-1.5-2.5-1.2-2.8-.7-3-.2-3.3 .3-2.6 .7-2.6 1.1-2.6 1.6-2.6"/><path class="m" d="M77.7 337.9l.2-3 .5-2.3 .6-1.5 .7-1.5 1.4-2.2 1.2-1.5 1.3-1.3 2.3-1.8 2.6-1.6 2.9-1.3 3-.9 3.1-.6 3.1-.2 4 .3 3.7 .8 3.2 1.2 2.7 1.6 2.2 1.8 1.7 2"/><path class="b" d="M72.2 365.5l-2.3-1.8-3.4-3.1-2.2-2.4-2-2.7-2-2.9-1.7-3.2-.8-1.8M80.5 353.8l-1.8-1.8-1.2-1.3-2.1-3-.9-1.7-.8-1.8-1-2.9-.4-3.2 0-3.3 .7-3.5"/><path class="r" d="M79.9 336.3l.3-1.9 .6-2 .9-2 1.2-1.9 1.5-1.8 1.2-1.1 2-1.5 2.3-1.3 1.6-.7 2.5-.8 1.7-.5 2.7-.3 2.6-.1 2.5 .2 2.4 .4 2.2 .7 1.9 .9 1.8 1 2.4 1.9 1.7 2.2"/><path class="g" d="M80.3 333.7l.9-2.6 1.5-2.7 2.1-2.4 2.6-2.2 2-1.2 3.3-1.5 2.4-.8 2.5-.4 3.7-.3 2.4 .1 3.5 .7 3 1 2.7 1.4 2.2 1.6 1.7 1.8"/><path class="b" d="M82.3 352.5l-2.1-2.1-2-2.5-1.7-2.9-.9-2.5-.7-2.7-.2-2.8 .3-3 .4-2.1"/><path class="g" d="M83.9 349.6l-2-2.2-1.8-2.7-1.1-2.3-.5-1.7-.3-1.8-.1-2.8 .4-3 1.1-3 1.8-3"/><path class="m" d="M79.4 346.5l-1-1.8-.8-2-.5-2.1-.3-1.5-.1-2.4 .3-2.4 .6-2.4 1.1-2.5 1.5-2.3 1.8-2.3 2.3-2 1.8-1.2 2.8-1.6 2.1-.9 2.1-.7 3.3-.8 2.2-.2 3.3-.1 3.2 .2 3 .6 1.8 .6 2.6 1.1 1.5 .8 1.9 1.3 1.7 1.5 1.3 1.5 1.1 1.6 .8 1.5M79.5 347.7l-1.2-1.7-.9-2-.7-2.1-.5-2.3-.1-1.6 0-2.5 .5-2.5 .9-2.6 1.3-2.5 1.7-2.4 1.4-1.5 2.5-2.1 1.9-1.2 3-1.6 2.2-.9 2.2-.7 3.5-.7 2.3-.2 3.5 0 2.2 .2 3.1 .6 2 .6 2.6 1.1 1.6 .9 2.1 1.4 1.2 1 1.5 1.5 1.1 1.6 .9 1.6 .7 1.6"/><path class="b" d="M82.8 352.6l-2.7-2.6-1.9-2.5-1.6-2.9-.7-1.6-.5-1.7-.4-2.8 0-2.9 .5-3"/><path class="m" d="M80.8 348.5l-1.1-1.6-1-1.8-.9-1.9-.6-2.1-.4-2.2 0-2.4 .3-2.4 .6-2.4 1.1-2.5 1.5-2.3 1.3-1.5 2.2-2.1 1.6-1.3 2.8-1.6 2-1 2.1-.7 3.3-.9 2.2-.3 3.3-.2 3.2 .2 3 .5 1.9 .5 2.6 1 1.6 .8 2 1.3 1.8 1.4 1.4 1.5 1.1 1.6 .8 1.5 .7 1.5"/><path class="b" d="M77.5 362.4l-1.8-1.4-3.7-3.2-1.7-1.9-1.8-2-2.3-3.6-2-3.9-1-3"/><path class="m" d="M79.5 346.9l-1-1.8-.9-2-.6-2.1-.3-2.3-.1-2.3 .4-2.5 .7-2.4 1.1-2.5 1.5-2.3 2-2.3 2.4-2 1.7-1.2 3-1.6 2-.8 2.2-.7 3.3-.7 2.3-.2 3.3 0 3.2 .3 2.9 .7 1.9 .6 2.5 1.1 1.4 .8 2 1.4 1.1 1 1.4 1.5 1.1 1.6 .8 1.5 .6 1.5M77.6 367.3l-4.8-3.3-2.8-2.5-2-1.8-1.8-2-1.8-2.3-1.7-2.4-1.5-2.7"/><path class="g" d="M85.6 351.5l-2.7-2.4-2.1-2.5-1.6-2.9-.9-2.6-.5-2.7 0-3 .5-3M83.3 313.8l5-1.7 5.4-1.2 3.7-.4 1.9-.1 3.7 .1 1.8 .2 3.6 .6 1.7 .4 3.1 1 2.9 1.2 2.6 1.4 2.2 1.6 1.8 1.7M82.3 338.9l-.1-2.1 .3-2.2 .7-2.3 1.2-2.2 1-1.4 1.9-1.9 1.6-1.2 2.5-1.5 1.9-.8 3-.8 2-.3 2-.1 3 .2 1.9 .3 1.8 .5 1.6 .7 1.5 .7 1.3 .9 1.2 1 1.8 2 .7 1.1"/><path class="m" d="M129 302.6l4 2.1 3.4 2.2 2.9 2.4 1.2 1.1 2.1 2.3"/><path class="r" d="M82.7 336.4l.5-2.1 .8-2.1 1.2-2.1 1.3-1.4 1.9-1.7 1.7-1.1 1.8-1 2-.7 2-.5 2.1-.3 2-.1 2 .1 1.9 .3 1.8 .5 1.6 .7 1.5 .8 1.2 .9 1.5 1.3 1.1 1.4 .9 1.5"/><path class="g" d="M83.8 347.7l-1.8-2.3-1.4-2.7-.7-2.3-.3-2.5 0-2.6 .7-2.8 1.1-2.7 1.8-2.6 1.5-1.7 2.7-2.2 2.1-1.2 3.5-1.5 2.5-.7 3.8-.6 3.8 0 3.6 .5 3.2 1 2.8 1.4 1.7 1.1 1.3 1.1 1.7 1.9 1.3 1.9 .8 1.9 .7 2.4"/><path class="m" d="M83.8 356.8l-2.3-1.7-1.7-1.4-2.2-2.3-1.5-2-1.4-2.2-1.2-2.4-.9-2.6-.4-1.9"/><path class="g" d="M83.7 358l-3.2-2.2-3.2-2.9-1.6-1.7-1.4-1.9-1.9-3.2-1.5-3.7M85 348.2l-1.8-2-1.5-2.5-.9-2-.4-1.5-.3-1.6 0-2.5 .5-2.6 .9-2.7 1.6-2.5 1.3-1.7 2.5-2.2 2.9-1.9 3.3-1.4 2.4-.7 2.4-.4 3.7-.2 2.4 .2 3.3 .6 3 1.1 2.6 1.4 2.1 1.6 1.7 1.8 .8 1.2 1 1.9 .6 1.8 .5 2.4"/><path class="m" d="M85.1 355.6l-1.6-1-1.5-1.3-1.6-1.4-2.4-2.8-1.7-2.6-1.3-3-.9-3.4-.2-2.7"/><path class="g" d="M68.3 322.7l2.1-1.3 4.8-3.3 3.7-2.2 4.4-2.1"/><path class="b" d="M84.1 341.5l-.4-1.5-.2-2.1 0-1.6 .5-2.2 .7-1.7 .9-1.6 1.3-1.5 1.4-1.4 1.7-1.3 1.9-1 2.1-.8 2.1-.6 2.2-.3 2.2 0 2.1 .1 2 .5 2.4 .9 2.5 1.4 1.2 1.1 1 1.1 .8 1.2 .8 1.6 .5 1.3"/><path class="m" d="M85.5 347.9l-1.6-1.8-1.1-1.7-.9-2-.6-2.1-.3-1.7 .1-2.3 .3-1.9 .8-2.4 1-1.8 1.2-1.7 1.5-1.6 1.8-1.5 2-1.2 2.2-1.1 1.5-.5 2.4-.6 2.4-.4 2.4 0 2.4 .1 2.2 .4 2 .7 1.8 .8 1.7 .9 1.4 1.1 1.5 1.5 1.2 1.6 .9 1.7 .6 1.6 .4 1.7 .2 1.9"/><path class="b" d="M85.8 347.2l-1.7-2-1.1-1.9-.8-2.1-.5-2.3 0-2.5 .3-2 .9-2.5 1.1-1.9 1.4-1.8 1.7-1.7 2-1.4 2.3-1.2 1.6-.7 2.5-.7 2.6-.4 2.5-.1 2.5 .2 2.3 .4 2.2 .8 1.9 .9 1.7 1.1 1.4 1.2 1.1 1.2 1.2 1.8 .8 1.8 .5 1.8 .4 2.2"/><path class="g" d="M89.5 329.2l1.1-.9 2.5-1.4 2.8-1 3-.4 2.9 .1 1.4 .3 1.9 .6 2.3 1.1 1 .7 1.2 1.1 1.3 1.7"/><path class="m" d="M89.5 354.1l-2.6-1.3-2.6-2-2.1-2-1.9-2.5-1.5-2.9-.8-2.6-.3-2.9"/><path class="b" d="M86.4 344.9l-1.3-1.9-.7-1.8-.5-1.9-.1-2 .3-2.2 .7-2.1 .9-1.6 1.5-2 1.4-1.3 1.7-1.2 1.8-1 1.3-.6 2.1-.6 2.1-.4 2.1-.1 3.4 .3 1.8 .5 1.7 .7 1.6 .8 1.3 .9 1.1 1.1 1.2 1.5 .7 1.2 .7 1.6 .4 1.6 .3 1.9"/><path class="m" d="M88.1 347.6l-1.4-1.4-1.3-1.6-.9-1.5-.7-1.7-.4-1.8-.2-1.9 .2-2.1 .4-1.5 .9-2 .9-1.5 1.5-1.8 1.4-1.2 1.6-1.1 1.8-1 1.8-.7 2-.5 1.9-.4 2-.1 1.9 .1 1.9 .3 1.7 .5 2.1 .8 1.4 .8 1.5 1.2 1.3 1.3 1 1.4 .7 1.5 .6 1.8 .4 1.8 .1 2.2-.1 2.3"/><path class="g" d="M86.3 339.4l-.2-1.5 .1-1.5 .3-1.6 .9-2.1 1.4-1.9 1.9-1.7 2.3-1.4 2.6-.9 2.7-.5 2.7 0 2.6 .5 2.2 .9 1.9 1.2 1.5 1.5 1.3 2 .8 2.1 .4 2.2"/><path class="m" d="M88.2 362.9l-2.5-1.1-4-2.3-3.4-2.5-3.3-3.1-2.5-3.1-2.1-3.6"/><path class="r" d="M93.6 350.8l-2.2-.7-1.9-.9-1.9-1.4-1.7-1.7-1.3-1.8-1.1-2.1-.5-1.8-.3-2 0-2M89.1 362.4l-3-1.2-3.8-2.1-3.2-2.4-3.2-3-2.4-2.9-2.1-3.4"/><path class="g" d="M84.8 373.7l-4.8-2.1-5.3-3-2.8-1.9-2.8-2.2-4.2-3.8"/><path class="r" d="M89.4 361.1l-4.1-1.8-3.6-2.2-3.1-2.5-2.9-3.1-2-3"/><path class="g" d="M89.7 344.3l-1-1.2-.9-1.3-.4-1.2-.4-1.3-.1-1.3 0-1.4 .3-1.4 .6-1.5 .8-1.3 1.4-1.8 1.4-1.1 1.6-.9 1.7-.8 1.8-.5 1.9-.2 1.9 0 1.8 .2 1.7 .5 1.5 .7 1.3 .8 1.5 1.3 .8 1.1 .9 1.6 .5 1.6 .3 1.6 .1 2-.2 1.9-.4 2.3"/><path class="m" d="M89.7 339.1l0-2 .3-1.2 .4-1 .6-.9 .7-.9 .9-.8 1-.7 1.1-.5 1.2-.4 2.4-.3 2.4 .2 2 .9 .9 .5 .9 .9 .6 .8 .6 1 .6 2 .1 2.2-.5 2.4-.9 2.2-1.4 2.1-1.7 1.5-2 1.2-1.8 .4-1.6 .2-1.8-.2-1.6-.4-1.6-.7-1.7-1-1.5-1.3-1.1-1.3-1-1.6-.5-1.4-.4-2-.1-1.6 .2-1.7 .5-1.7 .9-1.7 .8-1.2 1-1.1 1.2-1 1.3-.9 1.4-.8 1.6-.6 1.6-.5 1.6-.3 2.2-.1 1.5 .1 1.6 .2 1.4 .4 1.7 .8 1.2 .6 1.3 1 1.1 1.2 .9 1.2 .6 1.3 .5 1.3 .4 1.6 .1 1.6"/><path class="b" d="M91.2 332.6l1.7-1.4 2.1-1 1.1-.3 1.5-.3 2.3 0 2.4 .6 1.7 1 1.4 1.2 1.2 1.7 .6 1.9 .2 2.2"/><path class="g" d="M94.2 351l-1.6-.4-2.2-.8-2.2-1.3-1.7-1.4-1.5-1.7-1.3-2.1-.8-1.8-.6-2.6"/><path class="b" d="M89.2 342.1l-.6-1.1-.4-1.2-.2-1.3 0-1.4 .2-1 .5-1.4 .5-1 .9-1.3 1.2-1.1 1.3-1 1.2-.6 1.2-.5 1.7-.5 1.3-.1 1.8 0 1.2 .2 1.6 .4 1.4 .6 1.2 .8 1 .9 .9 1.1 .6 1.1 .6 1.4 .3 1.5 0 1.5-.1 1.7-.3 1.7-.5 1.6M90.2 340.5l-.5-1.7 .1-1.9 .6-1.9 1.3-1.8 1.7-1.5 1.9-.8 2-.5 2.4 0 2.1 .5 1.8 1.1 1.4 1.4 .9 1.6 .5 1.9 .1 2.1-.4 2.2-.8 2-1.2 2-1.4 1.6-1.3 1-1.5 .7-1.5 .5-1.6 .1-1.7 0-1.8-.4-1.5-.6-1.5-.8-1.5-1.1-1.4-1.4-1-1.4-.8-1.5-.5-1.7-.3-1.4 0-1.9 .2-1.4 .6-2 .8-1.5 1.3-1.8 1.3-1.2 2-1.5 1.7-.9 1.8-.7 1.9-.4 2-.3 2.5 0 1.8 .3 2.2 .6 2 .9 1.7 1.2 1.3 1.3 1.1 1.4 .7 1.5 .6 1.9 .4 2.2 0 2.2M90.6 341.2l-.7-1.8-.2-1.8 .5-1.9 1-1.9 1.3-1.3 2-1.3 1.9-.6 2.1-.2 2.2 .2 2 .8 1.6 1.2 1.2 1.5 .7 1.7 .3 2-.2 2.2-.6 2.2-1.1 2.1-1.2 1.7-1.6 1.4-1.4 .8-1.6 .6-1.8 .3-1.7-.1-1.8-.3-1.9-.7-1.5-.9-1.5-1.1-1.3-1.5-1-1.3-.7-1.6-.5-1.7-.3-1.8 .2-1.9 .4-2 .7-1.5 1.2-1.8 1.1-1.3 1.9-1.5 1.6-1 1.8-.8 2.5-.7 1.9-.3 2.5 0 1.8 .2 2.2 .6 2 .9 1.7 1.1 1.4 1.3 1.1 1.4 .9 1.8 .6 1.9 .3 2.2 0 2.2"/><path class="g" d="M91.9 342.5l-1.1-1.4-.7-1.6-.2-1.8 .4-1.9 .9-1.9 1.3-1.4 2-1.2 1.9-.7 2.1-.3 2.3 .3 1.8 .7 1.7 1.2 1.3 1.5 .7 1.7 .4 1.9-.1 2.1-.6 2.3-.9 2.2-1.3 1.9-1.5 1.4-1.4 .9-1.4 .6-1.5 .4-1.6 .1-1.8-.1-1.5-.3-1.5-.6-1.5-.8-1.5-1.1-1.1-1-1.3-1.5-.9-1.4-.6-1.5-.5-1.7-.1-1.8 0-1.2 .3-1.9 .7-1.9 1.1-1.9 .9-1.2 1.7-1.6 1.3-1 2.1-1.2 1.6-.7 1.7-.5 2.5-.4 1.7-.1 2.5 .1 1.6 .3 2.3 .6 1.9 .9 1.7 1.2 1 .8 1.2 1.4 .7 .9 .7 1.5 .6 1.4 .3 1.5 .2 2.9-.1 2.2M149.9 303.1l2.4 2.1 2 2.1 1.7 2 1.4 2 1.2 1.9"/><path class="r" d="M92.2 339.1l-.1-1.2 .2-1.3 .5-1 1-1.1 1.1-.8 1.2-.5 1.3-.3 1.4 0 1.4 .4 1 .6 1 .9 .6 1 .5 1.2 .1 1.2-.2 1.5-.4 1.2-.6 1.2-.7 .9-.8 .8-1 .6-.9 .4-1.1 .3-1 .1-1.1 0-1.1-.3-1.1-.4-.9-.5-1-.8-.8-.9-.6-.9-.5-1.1-.3-1.2-.1-1 .1-1 .2-1.1 .4-1 .6-1 .8-1 .9-.8 1.8-1.2 2.2-.8 1.3-.2 1.2 0 2.2 .2 2.1 .9 1.5 1.1 1.3 1.6 .7 1.8 .4 2.1-.2 2.3-.7 2.4-1 2.1-1.4 1.9-1.3 1.1-1.4 .9-1.4 .6-1.6 .4-1.8 .1-1.5-.2-1.7-.4-1.7-.7-1.7-1.1-1.3-1.1-1.3-1.3-.8-1.3-.9-1.8-.4-1.6-.3-1.7 .1-1.7 .4-1.8 .7-1.8 1-1.7 1.4-1.6 1.6-1.5 2-1.2 1.5-.7 2.3-.7 2.3-.4 2.2 0 2.2 .2 2.1 .5 1.8 .7 2 1.2 1.2 1.2 1.3 1.5 .9 1.6 .6 1.7 .4 2 .1 2.3M93 360.7l-2.4-.7-2.1-.7-3.9-2-2.2-1.5-1.8-1.3-1.6-1.6-1.7-1.7-1.5-2"/><path class="b" d="M77.6 324l6.6-3.1 3.4-1.3 4.6-1.1 3-.4 2-.1 3.9 .2 1.9 .2 2.7 .7 3.2 1.2 1.4 .7 2 1.3 1.6 1.4 1.7 1.9 1.3 2 1.1 2.5 .6 2.4 .2 2.8"/><path class="g" d="M92.8 345.4l-1-.6-1.1-.8-.9-1-.8-1.2-.5-1-.4-1-.2-1.2 0-1.2 .1-1.3 .4-1.3 .6-1.2 1.1-1.6 1.1-1.1 1.3-.9 1.5-.8 1.5-.6 1.7-.3 1.6-.2 1.6 .1 1.6 .3 1.4 .4 1.3 .7 1.5 1 1 1 .9 1.3 .5 1.1 .5 1.5 .2 1.5 .1 1.8-.2 1.8-.5 2.1-.7 2-.8 1.8-1 1.6-1 1.3-1.1 1.1-1.2 .9-1.4 .8-1.3 .5-1.7 .4-1.6 .1-1.6 0-1.8-.3-2.9-.9-2.5-1.2-2.5-1.9-1.9-1.9-1.7-2.3-1.3-2.7-.4-1.5-.3-1.6-.1-2.5 .4-2.7"/><path class="r" d="M92.3 346.6l-1.2-.7-1.1-.8-1-1-.8-1-.7-1.4-.5-1.2-.3-1.3-.1-1.4 .2-1.5 .2-1.1 .6-1.4 .8-1.4 1.1-1.3 1-.9 1.4-1 1.2-.6 1.8-.7 1.8-.4 1.8-.2 1.8 0 1.7 .3 1.6 .5 1.4 .7 1.2 .8 1.1 .9 1 1.3 .8 1.4 .5 1.4 .3 1.5 .1 1.7 0 1.7-.3 1.9-.5 1.8-.7 2-.9 1.8-.8 1.4-1 1.3-1.2 1.2-1.2 1-1.3 .8-1.4 .5-1.5 .4-2.1 .3-1.9-.1-2.1-.4-2.2-.7-1.9-.9-1.9-1.2-1.9-1.5-1.5-1.5-1.3-1.7-1.1-1.9-.8-2.2-.5-1.7-.2-1.9 .1-1.9"/><path class="g" d="M92.9 333.6l1.3-.9 1.5-.8 1.7-.3 1.6-.1 1.9 .4 1.4 .7 1.3 1.1 1 1.4 .5 1.6 .2 1.6-.2 1.8-.6 1.8M98.3 341.6l-.7 1-.5 .4-.8 .2-1.5-.1-1.4-.6-1.3-1.2-.8-1.4-.3-1.7 .1-1.5 .7-1.6 1.1-1.5"/><path class="m" d="M95.6 356.6l-1.9-.2-2.1-.6-2.1-.8-2.3-1.1-1.9-1.2-1.8-1.4-1.3-1.2-1.7-2-1.1-1.6"/><path class="b" d="M92.1 333.8l.9 .3 3.8 .2 1.6 .4 .9 .5 .7 .5 .5 .7 .3 .8 .2 1.4-.4 1.4-.8 1.2-1.2 .9-1.3 .4-1.4 0-1.4-.5-1.1-.9-.8-1.2-.4-1.4 .1-1.4 .5-1.4 1.1-1.2 1.2-.9 1.4-.5 1.7-.2 1.4 .2 1.3 .5 1.1 .9 .8 1 .5 1.3 .2 1.5-.2 1.4-.5 1.5-.7 1.1-.6 .9-1 .8-.9 .6-1 .4-1.1 .3-1.2 .1-1.3-.2-1.3-.4-1-.5-1-.7-.9-.9-.8-1-.5-1-.3-1.1-.2-1.1 .2-2.1 .6-1.8 .7-1.2 .7-.8"/><path class="r" d="M94.7 359.5l-3.6-.9-2-.7-2-.9-2.1-1.2-1.6-1-1.6-1.3-1.6-1.4-2.4-2.8"/><path class="g" d="M89.4 331.5l4.5-.9 1.9-.2 1.9 0 1.5 .2 2 .7 1.7 1 1.3 1.4 .9 1.6 .4 1.1 .1 1.1 .1 1.1-.2 1.4-.3 1.4-.5 1.3-.7 1.2-.7 1.1-1.8 1.7-1.1 .7-1.1 .4-2.2 .5-1.3 0-1.3-.1-1.4-.4-1.4-.5-1.4-.8-1-.8-1.8-1.9-.8-1.2-.6-1.3-.5-1.5-.2-1.5 0-1.7 .2-1.1 .5-1.7 .5-1.1 1.4-2.1 1.5-1.4"/><path class="r" d="M93.9 363.4l-3.7-1-3.4-1.3-3.1-1.6-3.2-2.1-2.5-2.1-2.5-2.6"/><path class="m" d="M95.8 356.8l-1.9-.3-2-.5-2.2-.8-2.3-1-1.9-1.2-1.8-1.4-1.3-1.2-1.7-1.9-1.2-1.6M95.4 357.3l-2.3-.4-2.2-.6-2.3-1-2.3-1.2-1.9-1.3-1.9-1.6-1.4-1.4-1.6-2.1M117.3 317.6l1.7 1.1 1.4 1.1 1.9 1.8 1 1.2 1.2 1.9 1.3 2.9M95.8 360l-2.6-.4-2.3-.6-2.6-1-2.6-1.3-2.2-1.4-2.2-1.7-1.6-1.5-2-2.3"/><path class="r" d="M116.3 317.7l1.7 1.1 2.1 1.6 1.7 1.8 1.4 1.7 1 1.8 .7 1.7M118.5 316.6l1.7 1.2 2.2 1.8 1.3 1.3 1.5 1.9 1.1 1.9 .7 1.8"/><path class="b" d="M95.8 359l-2.8-.4-2.5-.8-2.8-1.1-2.8-1.5-2.3-1.7-2.3-2-1.6-1.8"/><path class="r" d="M122.7 315.5l1.8 1.4 1.6 1.4 1.3 1.4 1 1.5 1.3 2 .6 1.4M92.7 373.4l-3.4-1-3-1.1-3.2-1.4-3.5-1.8-2.7-1.7-2.8-1.9-1.9-1.5M138.5 309.6l2.3 2.3 1.8 2.2 1.4 2.1 1.4 2.9M79.3 325.8l1.6-.5 4.4-1.8 2.9-1 2.6-.7 2.8-.4 2.8-.3 2.8 .1 2 .3 2.5 .6 2.4 .9 2.5 1.4 2.1 1.6 1.6 1.8 1.1 1.9 1 2.3 .5 2.3 .2 2.9-.2 3-.5 4"/><path class="m" d="M79.4 325.6l8.1-3 2.6-.8 2.8-.5 2.8-.3 2.2 0 2.1 .1 2.7 .5 2.5 .8 2.2 1 2 1.2 1.6 1.4 1.6 1.8 1.2 2 .7 1.9 .6 2.4 .2 2.9-.2 3.5-.5 4.3"/><path class="g" d="M104.5 341.9l-.8 1.7-1.1 1.4-1.4 1.2-1.4 .8-1.2 .5-1.4 .2-1.6 0-1.6-.2-1.3-.5-1.3-.6-1.3-.8-1.2-1.1-.8-1-.9-1.5-.6-1.3-.3-1.3"/><path class="b" d="M93.1 375.5l-3.9-1.1-3.5-1.3-3.8-1.7-3.1-1.6-3.3-1.9-3.3-2.4"/><path class="m" d="M99.5 342l-.7 1.3-.5 .5-.7 .4-1.5 .4-1.8-.2-1.6-.8-1.4-1.2-1-1.6-.6-1.7"/><path class="r" d="M98.1 338.9l0 1.4-.3 1-.6 .7-.9 .3-1 0-1.1-.4-.9-.7-.7-1-.4-1.1"/><path class="b" d="M145.3 308.3l2.6 2.9 2 2.8 .7 1.3 1.1 2.3M118.8 319l1.6 1.3 1.4 1.3 1.1 1.4 .9 1.3 .8 1.3 .8 1.9 .5 1.9M135.7 312.6l2.1 2.3 1.6 2.1 1.2 2.1 .9 1.9"/><path class="g" d="M100.6 352.8l-1.2 .4-2.6 .3-2.6-.1-2.8-.7-2.6-1.1-2.5-1.7-2.5-2.2"/><path class="b" d="M118.5 320.3l2 1.9 2.1 2.5 1.3 2.5 .8 2.4M100.5 342.6l-.4 1.1-.5 .7-.7 .7-1 .6-1.1 .3-1.2 .1-1.3-.2-1.1-.4-1.1-.5-1.1-.8-1-1-.8-1.1M99.6 340.6l-.3 1.5-.7 1.2-.5 .5-.7 .4-1.6 .3-1.8-.3-1.6-.9-1.3-1.2-.9-1.6M107.4 338.2l-.2 2.3-.7 2.3-1.1 2.3-1.2 1.6-1.2 1.2-1.3 1-1.4 .7-1.5 .5-1.6 .2-1.9 0-1.6-.3-2-.6-1.7-.9-1.7-1.1-1.2-1.2-1.2-1.4-1-1.5-.8-1.8"/><path class="g" d="M115.8 321.9l2.2 1.9 1.2 1.4 1.4 2.1 .9 2 .7 2.6"/><path class="r" d="M117.6 321.2l2.2 2.1 .8 1.1 1.1 1.6 1.2 2.7 .6 2.5"/><path class="b" d="M119.3 320.6l1.3 1.3 2.1 2.6 .8 1.2 .8 1.9 .8 3M99.5 340.5l-.1 1-.2 .8-.4 .7-.5 .6-.6 .4-.8 .3-1.7 .1-1.8-.5-.8-.5-.9-.7-1.1-1.5M101.8 347.5l-.7 .7-1 .7-1 .5-1.2 .3-1.3 .2-1.2 0-2.1-.4-1.9-.7-2-1.1-1.6-1.2-1.4-1.6"/><path class="m" d="M102.6 350.6l-1.8 1.2-1.2 .4-1.2 .3-2.6 .2-2.2-.3-2.1-.6-2.1-1-2.2-1.4-1.7-1.5"/><path class="b" d="M122.4 319l2.1 2.1 1.6 2.2 1.1 2.1 .6 1.4 .5 1.9"/><path class="g" d="M101.1 342.7l-.3 1-.5 1-.5 .7-.9 .7-1.3 .6-1.2 .2-1.4 0-1.5-.3-1.5-.6-1.1-.8-1.2-.9M102.6 353.2l-1.4 .8-1.6 .5-1.9 .3-1.7 .1-1.9-.2-2-.5-2.6-.9-2.8-1.5-2.8-2.2M102.8 350.8l-1.2 .9-1.4 .7-1.3 .4-1.5 .2-1.5 0-1.7-.1-1.9-.4-2.4-.9-2.5-1.4-2.4-2M99.1 338.6l.1 1.7-.2 1.7-.3 .7-.5 .6-.5 .4-.8 .3-.9 .2-.8-.1-1.7-.5-1.6-1.1"/><path class="m" d="M103.5 345.7l-.7 1.5-1 1.3-1.3 1-1.6 .7-1.7 .3-1.8 0-2-.3-1.9-.6-1.8-1-1.6-1M142.6 312.7l2.2 3.3 1.5 3 .6 1.7"/><path class="b" d="M107.7 343.1l-.7 1.8-.9 1.6-1.1 1.5-1 1.1-1.2 1-1.3 .8-1.3 .5-1.4 .4-1.4 .2-1.7 0-1.3-.2-2.2-.6-2.3-.9-2.3-1.5-1.8-1.6"/><path class="g" d="M118.4 323.4l1.2 1.4 1.4 2.1 1 2.1 .7 2.6 .2 1.9M110.9 331.1l1.1 2.2 .5 2.3 .2 2.6-.4 3.4-.7 3.4-1.1 3.4-1.4 3.1-1 1.6-.9 1.2-1.1 1.1-1.2 1-1.4 .8-1.3 .6-1.8 .5-1.7 .2-1.9 0-2-.1-2.2-.4-1.8-.5-2-.7-1.9-1-3.4-2.1-2.7-2.2-2.6-2.9-1.6-2.6-1.3-2.9M100.5 339.6l0 2.3-.2 1-.3 .8-.5 .8-.8 .7-.9 .5-1.1 .3-1.2 0-1.3-.2-1.4-.4"/><path class="m" d="M121.4 322.1l1.4 1.7 1 1.8 1 2.3 .6 2.1 .2 2M123.8 321.1l1.5 1.9 1.1 1.9 .7 1.8 .5 1.7 .4 2.2M111.8 337.1l0 1.9-.2 1.8-.9 3.9-1.4 3.7-.9 1.8-.9 1.4-1.1 1.3-1.2 1.1-1.1 .8-1.4 .8-1.7 .6-2.1 .4-1.9 .1-2.2-.2-2.4-.5-2.2-.7-2.2-1-1.8-1-1.9-1.3-1.8-1.6-1.7-1.9"/><path class="r" d="M101.7 339.9l0 2.4-.2 1.2-.4 1-.6 .9-.7 .8-1.1 .6-1 .4-1.4 .2-1.3 0-1.3-.3-1.4-.5"/><path class="m" d="M104.5 357.7l-1.3 .7-1.6 .5-1.7 .4-1.7 .1-1.8 0-2-.3-3.7-.9-3.5-1.4-2.1-1.2"/><path class="g" d="M116.8 326.2l.9 1.3 1 1.9 .6 1.8 .5 2.4 .2 3.8M65.2 321.9l.6 .9 .8 .3 .5 0 1.2-.4M85.7 329l.8 1.5 1 .7 .8 .3 1.1 0"/><path class="b" d="M72.8 323.5l.5 .7 .5 .5 .7 .2 1.2-.1 1.9-.8"/><path class="g" d="M129.4 319.1l1.6 2.1 1.5 2.9 .9 2.7 .3 2.3M110.1 342.7l-.7 2.4-1 2.2-1.1 2.1-1.1 1.5-1.3 1.4-1.2 .9-1.5 .9-1.6 .6-1.8 .4-1.7 .1-1.8 0-1.9-.3-2.1-.6-2.8-1.1-2.9-1.7"/><path class="m" d="M118.1 325.9l1.2 1.9 .8 2 .6 2.3 .3 2.2 0 2.1"/><path class="g" d="M122.7 318.6l1.5 1.6 1.2 1.7 .9 1.7 1 2.3 .4 1.5 .3 2.1"/><path class="r" d="M112.6 338.1l-.2 2.5-.5 2.6-.7 2.7-1 2.7-.9 2.1-1.1 1.8-1.1 1.4-1.4 1.3-1.3 1-1.6 .8-1.8 .6-1.8 .3-3 .1-3.2-.5-3.1-1-3.4-1.6-2.9-2-2.4-2.1"/><path class="b" d="M112.6 338.9l-.3 2.7-.7 2.9-1 3.2-1.1 2.6-1.1 2.1-1.4 1.8-1.3 1.3-1.6 1-1.8 .9-1.8 .5-2.1 .3-1.9 0-2.2-.3-2.4-.5-3.1-1.1-3.2-1.7-2.8-2M112.7 338.7l-.3 2.8-.6 2.9-.9 2.9-1.1 2.6-.9 2-1 1.5-1.2 1.4-1.3 1.2-1.6 1-1.6 .6-1.9 .5-1.7 .3-2.8-.1-2.7-.4-3.1-.9-2.6-1.2-2.8-1.6-2.3-1.7"/><path class="r" d="M76 324.2l.6 1 .5 .3 .5 .3 .7 .1 1-.1M127.6 322.6l.7 1.3 .8 1.9 .8 2.9 .2 2.6"/><path class="m" d="M106.8 349.6l-.6 1.3-.7 1.1-1.1 1.2-1.3 .9-1.5 .8-1.5 .5-1.7 .3-1.9 .1-2.2-.2-1.9-.4-2.9-1.1M75.8 324l.3 .7 .5 .5 .5 .4 .6 .2 .6 0 1.1-.2"/><path class="r" d="M115.9 327.7l.8 1.3 .6 1.3 .7 2.5 .3 2.1 0 2.7-.9 9.5"/><path class="g" d="M104.3 341.1l0 2.2-.3 2.2-.8 1.9-.8 1.1-1 .9-1.2 .8-1.4 .6-1.6 .3-1.5 0-1.5-.1M111.7 336.7l0 2.5-.5 3.1"/><path class="r" d="M104.4 340.7l.1 1.9-.3 2.2-.5 1.7-.6 1.2-.7 .9-.9 .9-.9 .6-1.2 .5-1.1 .3-1.3 .2-1.3 0-2.1-.3"/><path class="b" d="M113.9 336.3l0 2.3-.3 2.5-.5 3-.9 3.4-.8 2.7-1 2.5-1.1 2-1.1 1.7-1.2 1.2-1.3 1.1-1.5 .8-1.6 .6-1.9 .4-1.9 .2-2 0-2.3-.2-3.7-.9-3.4-1.4-3.8-2-3.1-2.4"/><path class="g" d="M115.1 329.5l.8 1.7 .5 1.6 .3 1.6 .2 3.6-.2 2.8-1.1 8"/><path class="m" d="M130.2 320.4l1.6 2.9 .9 2.7 .5 2.4 .1 2.5"/><path class="r" d="M113.5 330.8l.6 1.5 .5 1.8 .2 2.2 0 2.4-.3 2.7-.5 3.3-1 4.3"/><path class="m" d="M114.1 339.8l-.4 2.5-.6 3-.8 3.2-1.5 4.4-.9 1.8-1 1.5-1 1.4-1.2 1-1.3 .9-1.6 .8-2.1 .6-2.3 .3-2.6 0-2.5-.3-2.9-.7-2.5-.9-2.8-1.2-2.3-1.3"/><path class="b" d="M89.3 329.1l.4 1.7 .8 1.4 .9 1.1 .7 .5"/><path class="g" d="M114.3 339.8l-.2 2.2-1.1 5.4-1.6 5.2-.8 1.9-.7 1.6-1.5 2.1-1.9 1.7-2.2 1.3-1.3 .4-1.5 .4-3.2 .3-3.2-.3-3.9-.8-3.6-1.2-3.9-2"/><path class="r" d="M129.5 321.8l1.4 2.7 .8 2.5 .3 2.3 0 2.8"/><path class="b" d="M113.8 333.1l.3 1.6 .2 1.6 0 1.9-.4 4-1.1 5.4-1.5 4.8M116.6 335.4l0 2.5-.3 3.5-1.2 8.6-1.4 11.1-.4 2-.5 1.6-.7 1.4-.8 1.1-1.5 1.3-1.8 .9-2.4 .7-2.5 .3-2.8 0-3.4-.3-3.5-.7-3.4-.9-4.6-1.7-2.5-1.2-2.7-1.5-2.7-1.7"/><path class="g" d="M97.5 332.8l.9 5.8 .1 1.5-.2 1.5M158.6 313.2l1.5 3.3 .4 1.4 .5 2.5"/><path class="r" d="M113 349l-1 3.5-1 2.7-1.1 2.1-1.1 1.4-1.1 1.2-1.4 1.1-1.5 .7-1.7 .6-1.8 .4-2 .1-2.3 0-4-.6-3.6-1.1"/><path class="m" d="M108.2 342.6l0 2.7-.2 2.3-.5 2.1-.9 2.1-1.4 1.8-1.7 1.4-2.1 1-1.9 .5-1.8 .2-2.1-.1M114.6 344.8l-1.1 6.1-.9 3.6-.8 2.8-1 2.1-1.1 1.7-1.6 1.5-1.8 1.2-2.1 .7-2.3 .5-2.4 .1-2.9-.1-2.8-.5-3.3-.8-2.3-.8M108.3 343l0 2.3-.2 2.3-.5 2.2-.9 2-1.3 1.8-1.8 1.5-2 1-1.9 .5-1.8 .2-2.1 0"/><path class="r" d="M110 345.9l-.1 2.6-.4 2.2-.7 2.3-1 2-1.4 1.6-1.7 1.4-1.4 .6-1.5 .6-1.7 .3-1.6 .2-1.8 0-2-.2M110.8 347l-.1 2.9-.4 2.5-.8 2.5-1.3 2.1-1.6 1.7-1.9 1.2-1.7 .7-1.6 .4-1.9 .3-2.2 0-2-.2-2.3-.4"/><path class="m" d="M108.6 343.1l0 2.4-.2 2.6-.5 2.1-1 2.3-1.4 1.7-1.8 1.5-2.2 1-2 .5-1.9 .2-2.2-.1"/><path class="r" d="M114.4 344.2l-1.1 5.7-.9 4.1-.9 2.6-1 2-1 1.6-1.4 1.4-1.8 1.2-2.2 .9-2.6 .5-2.8 .1-2.9-.2-3.4-.6-3.3-1.1"/><path class="m" d="M120.8 328l.9 3 .4 3.2 0 2.8-.4 6.8M121.2 329.1l.4 1.5 .5 3.2 0 2.9-.5 7.2M116.9 335.6l0 2.3-.2 3.1-1 7.5-.4 3.9-.3 4.5-.3 9.7-.4 3.8-.4 1.3-.5 1-.6 .8-.8 .6-1 .5-1.4 .4-3.3 .5-2.6 0-2.6-.2-2.7-.3-3.2-.6-5.9-1.7-3-1.1-3.3-1.4-2.6-1.3-2.8-1.6"/><path class="b" d="M109.5 344l.1 3.1-.4 3.1-.9 2.6-.7 1.3-.8 1.2-1.1 1.1-1.2 .9-1.2 .6-1.4 .6-1.5 .3-1.8 .2-2.8 0"/><path class="g" d="M106.1 335.7l.3 5.9 0 2.6-.5 2.6-.8 2-1.4 1.9-.9 .8-1 .7-1.2 .6"/><path class="m" d="M121.4 329.2l.4 1.5 .5 3.2 0 2.9-.5 6.8M122 328.7l.5 1.5 .5 3.3 0 2.9-.5 6.8"/><path class="r" d="M130.3 324.6l.6 1.9 .5 2.8 .1 2-.1 1.7"/><path class="b" d="M103 334.6l.6 7.4-.2 1.9-.4 1.6-.5 1-.7 1"/><path class="g" d="M126 324.8l1 2.4 .7 2.3 .2 2.1 .1 1.9-.6 8.1"/><path class="m" d="M110.1 344.1l.1 2.8-.2 2.9-.5 2.5-1.1 2.4-.7 1.1-.8 1-1.9 1.5-1.3 .7-1.3 .5-2 .5-2.3 .1-2.3-.1"/><path class="b" d="M99.9 332.7l.8 6.8 0 2-.2 1.1"/><path class="r" d="M124.9 327.4l.5 1.6 .4 2.1 .2 3.6-.5 7.4"/><path class="m" d="M98.7 331.9l.2 2.5 .7 4.5 .1 1.5-.2 1.6"/><path class="g" d="M105.2 336l.5 6.4-.2 2.9-.6 2.4-.5 1.1-.7 1-.9 1"/><path class="r" d="M145.4 319.1l.8 2.5 .3 2.1 0 2.3"/><path class="m" d="M105.1 336l.5 5.8-.1 2.8-.5 2.3-.8 1.8-.8 1.1-.8 .8M125.8 327.6l.4 1.6 .4 2.1 0 3.2-.5 7.1"/><path class="r" d="M111.9 346.1l.1 3.7-.3 3.7-.8 3-.6 1.5-.7 1.2-.8 1-.8 .9-1.2 .8-1.2 .7-2.7 .9-2.8 .4-3.1-.1-3.1-.4"/><path class="g" d="M106.5 336.8l.4 6.3-.1 2.9-.3 1.7-.4 1.1-.6 1.4-.7 1-1 1.1-1.2 .9"/><path class="r" d="M127 326.5l.6 1.7 .4 2.1 .1 3.7-.6 6.9"/><path class="b" d="M124.7 329.6l.3 2.3 .2 2.5-.5 6.8M125.9 329.4l.3 1.7 .2 3.6-.5 5.5"/><path class="g" d="M115.6 348.8l-.4 4.8-.2 5.9-.2 13.7-.1 2-.3 1.3-.6 .8-1 .7-1.5 .4-2.1 .2-2.6 0-3.2-.2-3.3-.4-3.3-.6-5.8-1.5-6.2-2.2M120.2 332.5l.3 2.4 0 2.1-.6 7.3 0 3.1"/><path class="b" d="M151.7 317.6l.7 2.1 .3 1.8 .1 1.5-.3 1.8"/><path class="m" d="M103.6 333.5l.5 8.9-.2 1.8-.4 1.5"/><path class="r" d="M114.7 356.7l.1 4.7-.2 4.4-.2 2.8-.4 2-.6 1.3-.7 1-1 .8-1.2 .6-1.7 .4-1.9 .3-2.4 .1-2.4-.1-3.4-.4-3.1-.5-2.9-.7"/><path class="b" d="M98.6 331.5l.1 2.4 .8 4.8 .1 1.9"/><path class="g" d="M122.2 331.9l.2 1.9 .1 2.2-.5 6.7 0 2.3"/><path class="b" d="M98.5 331.1l.1 2 .8 5.7 .1 1.7M125.1 330.6l.3 2.6 0 2.9-.4 5.3M141.5 321l.7 2.6 .3 2.2 0 1.8-.4 1.8"/><path class="m" d="M109.3 337.5l.5 8.4-.1 2.4-.3 2.2-.8 2.4-1 1.9-1.4 1.7-1.7 1.2"/><path class="b" d="M114.4 350.7l.4 7.8 .1 7.2-.1 5.4-.3 2.6-.6 1.5-.4 .6-.6 .5-1.7 .7-2.8 .4-3.2 0-3.5-.2-4.1-.7-4.5-1"/><path class="m" d="M146.9 320.7l.3 1.6 .2 1.4-.1 1.7-.3 1.3"/><path class="r" d="M123.5 331.2l.2 2.7 0 2.5-.4 5.8 0 2.5"/><path class="g" d="M100.6 331.1l0 3.1 .6 6.1-.1 2.4"/><path class="b" d="M128.3 328.7l.4 2.9-.1 2.9-.6 5.8"/><path class="g" d="M119.6 333.8l.1 3.8-.5 7.2-.1 3 .2 3 .6 2.7"/><path class="m" d="M107.2 334l0 2.9 .5 6.4-.2 3.3-.3 1.7-.4 1.3M128 330.6l.1 3.6-.6 6.6"/><path class="g" d="M98.3 329.7l-.1 2 .1 1.8 .8 5.1M65.5 316.7l-.5 2.6 0 1.9 .2 .7M122.9 333.5l.1 2.3-.4 6.7-.1 2.3 .3 2.4 .5 1.9"/><path class="r" d="M97.2 326.2l-.4 2.4 0 2.5 .2 2.4 1.1 5.4"/><path class="m" d="M125.6 332l.1 2.3-.4 6.4 0 2.6 .3 2.3"/><path class="g" d="M85.8 322.2l-.5 2.9 0 2.2 .4 1.7"/><path class="b" d="M118.8 335.3l0 2.9-.5 8.8 0 2.9 .4 2.6 .8 2.8 1.1 2.3 1.4 1.7 1.9 1.5"/><path class="r" d="M76.2 318.4l-.5 2.5 0 1.3 .1 1.1 .2 .9"/><path class="b" d="M73.2 317.2l-.6 2.1-.2 1.8 .1 1.4 .3 1"/><path class="r" d="M101.3 329.2l-.2 2.5 .1 2.6 .5 5.6"/><path class="g" d="M133.7 329.1l0 2.7-.3 2.6-1 4.5"/><path class="m" d="M76.2 317.8l-.6 2.6-.1 2.1 .3 1.5"/><path class="g" d="M128 329.5l0 3.6-.7 6.5-.1 1.6"/><path class="m" d="M121 336.4l-.5 7.3 0 2.8 .2 2.8 .7 2.5 1.2 2.4 .9 1 .9 .9"/><path class="r" d="M130.1 331.3l-.1 3-.7 5 0 2"/><path class="g" d="M120 337.4l-.6 7.2-.1 3.1 .3 3 .6 2.4 .5 1.3 .7 1.3 1.6 2 1.1 1 1.1 .6M104.1 330.6l-.2 1.9-.1 1.9 .5 6.7"/><path class="m" d="M133.3 330.9l-.4 2.9-1 5.2"/><path class="g" d="M161 320.4l-.1 1.8-.4 1.2-.6 .7"/><path class="b" d="M90.2 321.7l-.7 2.5-.4 2.7 .2 2.2"/><path class="r" d="M117.4 347.1l0 4.4 .1 2.2 .3 1.9 .6 1.9 .6 1.6 .9 1.6 1.1 1.3 1.2 1 1.5 .8 1.6 .6 1.9 .5 2.3 .2 2.3 0 2.1-.2"/><path class="g" d="M101.1 325.4l-.6 1.7-.4 1.5-.3 2.2 0 2.5 .7 6.3"/><path class="b" d="M115.9 356.9l.9 4.4 .5 1.6 .7 1.4 .7 1.1 .9 1.1 1.1 .8 1.2 .7 1.6 .5 1.7 .4 2 .2 1.9 .1 2.3-.1 2.6-.3 4.9-1.2"/><path class="r" d="M113.3 332.6l-.4 2.8 0 4 1.4 10.6 .4 6.7"/><path class="g" d="M115.3 381.1l2.4 0 3.2-.1 6.9-.7 6.6-1.3 6.5-1.8"/><path class="b" d="M115.8 380.8l2.4 .1 2.9-.1 6.5-.7 6.6-1.3 6.1-1.7"/><path class="r" d="M105 327.4l-.5 1.6-.4 2.1-.1 3.6 .4 6"/><path class="m" d="M115.7 380.9l3.1 0 4-.2 4.1-.5 4-.6 3.9-.9 4.1-1.1M108.5 329.6l-.5 2.4-.2 1.8-.1 2.1 .5 6.7"/><path class="r" d="M132 332.1l-1.1 7.7 .1 1.3M115.5 380.9l3 .1 3.7-.2 3.8-.4 4.2-.7 3.8-.7 3.8-1.1 3.8-1.2M131.4 333l-.8 5.4-.1 1.7 .2 1.8"/><path class="b" d="M116.4 346.4l1 4 1 3 .9 2.3 1 1.6 .9 1.3 1.2 1.1 1.2 .9 1.4 .8 1.6 .6 1.6 .3 1.8 .2 3.4 0 4.1-.7 3.5-1.1"/><path class="r" d="M111 330.4l-.5 1.8-.3 2.1 0 3.6 .6 9.1"/><path class="g" d="M119.9 347.4l.3 3 .7 2.3 .6 1.4 .7 1.2 1 1.1 .8 .9 1.3 .8 1.1 .7 1.4 .4 1.5 .4 2.6 .3 2.5-.1 2.9-.5M99.5 322.9l-.9 1.8-.6 1.8-.5 2.4-.1 2.1 .1 1.8"/><path class="r" d="M116.6 347.2l1.2 4.2 1 2.8 1 2.2 1.2 1.7 1.4 1.5 1.9 1.2 2.1 .9 2.2 .5 2.8 .2 2.8-.2 2.7-.5 3.1-.9"/><path class="m" d="M117.9 353.8l.8 2.1 .9 1.8 1 1.5 1.1 1.2 1.3 1.1 1.4 .7 1.7 .7 2 .4 2 .2 2.3 0 2.7-.3 2.4-.5 2.7-.8"/><path class="g" d="M119.9 353.5l.5 1.4 .7 1.2 .8 1.2 .9 1 1.2 .9 1 .7 1.6 .7 1.4 .4 2.5 .4 2.5 0 2.8-.3 3.2-.8M108.7 324.2l-1.5 2.9-.8 2.7-.3 3.1 0 2.8"/><path class="m" d="M121.6 343.9l.2 3.5 .4 1.9 .6 1.5 .7 1.4 1 1.2 1.3 1.2 1.7 1 1.8 .6 2 .4 2.3 0 2.2-.2"/><path class="r" d="M146.5 326l-.6 1.9-.5 .7-.6 .6-.7 .3"/><path class="m" d="M109.6 327.9l-.7 2-.6 2.4-.2 1.8 0 2 .5 7M109.4 327.6l-.8 2-.6 2.4-.2 1.8 0 2.1 .5 7.1M121.7 343.8l.2 3.5 .3 1.7 .5 1.5 .7 1.4 .8 1.1 1.3 1.3 1.4 .9 1.6 .7 1.9 .5 1.8 .2 2.1-.1 2.3-.3M121.8 343.6l.2 3.5 .3 1.7 .5 1.4 .7 1.4 .7 1.1 1.3 1.3 1.3 .9 1.6 .7 1.9 .5 1.8 .3 2.1-.1 2.2-.3"/><path class="b" d="M117.3 347.8l1.5 4.8 .8 1.9 .8 1.4 .9 1.4 1.2 1.2 1.1 1 1.4 .7 2.2 .9 2.6 .5 2.9 0 3.3-.4 3.2-.8 3-1.1"/><path class="m" d="M122.5 343.2l.2 3.3 .4 1.7 .4 1.3 .6 1.2 .8 1.1 1.1 1.1 1.3 .9 1.6 .8 1.6 .4 1.7 .2 2 0 2.2-.3"/><path class="b" d="M114.6 330.6l-.6 1.8-.5 2.2-.1 2.1 .1 2.4 .3 3.3 2.1 14.5"/><path class="g" d="M113.8 333.9l-.3 2.6 0 2.4 .5 4.4 2 13.3 .7 3.5 .5 1.7 .6 1.6 .7 1.2 .8 1 1 .9 1.2 .8 1.5 .7 1.5 .4 1.8 .3 1.7 .2 3.6-.1 3.9-.5 4.6-1.2 4.4-1.7 4-2 4.1-2.6 3.2-2.6"/><path class="m" d="M115.8 331.5l-.5 1.5-.3 1.5-.2 3.3 .4 4.3 1.2 6.3 1.5 5.4"/><path class="g" d="M122 345l.2 2.4 .6 2.2 1 2.2 1.3 1.6 1.7 1.3 2.2 1 1.8 .4 2.1 .2 1.9-.1 2-.3"/><path class="m" d="M101 322.7l-1 2-.8 2.5-.4 2.2-.1 2.5"/><path class="b" d="M102.6 322.6l-1.5 2.9-.5 1.4-.4 1.9-.3 1.8 0 2.1"/><path class="r" d="M111.4 327.4l-.7 1.4-.7 1.9-.4 1.8-.2 1.7 0 3.2 .6 8.5"/><path class="b" d="M111.5 326.7l-1.2 2.2-.8 2.6-.4 2.5-.1 2.3 .5 7.7"/><path class="m" d="M111.8 327.1l-.9 1.9-.7 1.9-.4 2.3-.2 2.1 0 2 .5 6.8"/><path class="b" d="M124.7 341.2l0 2.2 .2 2 .5 1.7 .9 1.7 1.1 1.2 1.4 1 1.6 .7 1.4 .3 1.5 .2 1.7-.1"/><path class="m" d="M118.5 349l1 2.5 1.2 2.3 1.3 1.8 1.4 1.5 1.8 1.2 1.9 .8 2.2 .6 2.4 .2 2.2-.1 2.6-.4 2.8-.8 2.5-1"/><path class="b" d="M114.3 330.1l-.6 1.4-.4 1.4-.3 1.8-.1 2.1 .1 2.4 1.4 11.5M125 341.4l0 2.4 .4 2.4 .8 1.8 1.3 1.6 1.8 1.2 2 .7 2.3 .3 2-.2"/><path class="g" d="M107.2 326.3l-.7 1.4-.5 1.5-.4 1.4-.3 1.9-.1 3.5M117.7 344.9l.8 2.5 1.5 4.1 .9 1.7 1.1 1.5 .9 1.1 1.2 1 1.3 .9 1.5 .7 2.2 .7 2.1 .3 2.4 0 2.8-.4 2.4-.6 2.6-1 2.8-1.3"/><path class="r" d="M115.4 336.9l.1 2.3 .3 2.9 .8 3.8 1 3.8 1 3 1.1 2.5 1 1.6 1 1.3 1.3 1.2 1.3 .9 1.6 .7 1.5 .5 1.8 .3 2.1 .1 3.6-.2 3.8-.9 3.7-1.4 2.3-1.1 1.7-1.1 3-2.2M123.3 344.7l.4 2.5 .7 1.9 .7 1.1 .6 .9 1.7 1.4 2.2 1.1 2.4 .4 2.1 .1 2-.3 2.2-.6"/><path class="m" d="M108.1 324.1l-1.6 2.8-.9 2.7-.5 3.4 0 3"/><path class="r" d="M116.9 330.2l-.9 1.9-.6 2.2-.2 2.2 0 2.7 .5 3.5 .9 4.5"/><path class="b" d="M119.9 351.4l1.5 2.7 1.8 2.1 2.1 1.6 1.3 .6 1.4 .5 2.7 .4 2.8 .1 2.7-.4 3.1-.8 2.8-1.1"/><path class="r" d="M113.5 327.7l-.8 1.3-.6 1.3-.7 2.6-.2 2.1-.1 2.7 .8 8.4"/><path class="b" d="M125.9 340.2l0 2.2 .2 1.9 .4 1.7 .5 1 .7 .9 .8 .8 .9 .7 1.1 .5 1.2 .4 1.4 .2 1.1 0 1.9-.3M118.3 330.8l-.8 1.5-.7 2.7-.2 1.6 0 1.8 .5 4.2 1.2 4.6 1.6 4.2M102 320.9l-1.5 2.4-1.2 2.9-.7 3.2-.1 1.7M116.8 330.4l-.6 1.2-.6 1.7-.3 2.1-.2 1.9 .2 2.3 .3 2.9 .8 3.9"/><path class="m" d="M118.2 330.3l-.9 1.8-.7 2.1-.3 2.1 0 2.7 .4 2.8 .7 3.5 1.1 3.7M147 326.7l-.6 1.3-.8 .8-.9 .3-1 .1"/><path class="b" d="M101.6 321.5l-.9 1.5-1.3 3-.6 2.6-.2 2.9"/><path class="r" d="M125.5 342.1l.1 1.8 .2 1.3 .7 1.9 .9 1.3 1.2 1.1 1.6 .8 1.7 .6 1.8 .1 2-.2 2.2-.6"/><path class="b" d="M152.5 324.8l-.6 1.1-.8 .6-.9 .3-1.5-.2"/><path class="m" d="M126.1 341.6l.1 1.5 .2 1.4 .5 1.5 .8 1.4 1.1 1.1 1.2 .8 1.7 .6 1.7 .2 1.8-.1 1.7-.4"/><path class="r" d="M116.7 334.3l-.2 1.7-.1 1.7 .1 1.9 .3 2.2 .5 2.6 .8 2.7 .8 2.5 .8 2 1.6 2.8 1 1.2 .9 1 1.1 .8 1.2 .8 1.4 .6 1.3 .4 2.8 .4 3-.1 2.9-.5 3.3-1 3-1.3 2.7-1.6 2.6-2.1 2.5-2.6"/><path class="b" d="M142.1 329.4l-.5 1-.6 1-.8 .7-.7 .3-1.6 .3"/><path class="m" d="M111.6 326.8l-.8 1.5-.8 1.9-.4 1.8-.3 1.8 0 3.7"/><path class="b" d="M106.5 322.7l-.9 1.4-.8 1.3-.8 2-.6 1.8-.3 1.8-.1 3.6"/><path class="m" d="M117.8 338.7l.2 2.1 .4 2 .6 2.2 .8 2.3 1.6 3.4 .9 1.4 1.1 1.2 1.2 1.2 1.2 .8 1.3 .7 1.3 .5 1.9 .4 2.3 .2 2.6-.2 2.4-.5 2.7-.9 2.3-1.1 2.3-1.5 1.9-1.5"/><path class="g" d="M118.3 341.9l.5 2.2 .7 2.2 1.6 3.7 1 1.7 .9 1.2 1.1 1.2 1.2 1 1.7 1 1.7 .6 1.9 .4 2.2 .1 2.5-.1 2.1-.5 2.3-.7 1.9-.7 1.9-1 1.9-1.3"/><path class="m" d="M107.6 322.1l-1.7 2.5-1.2 2.3-.7 2.2-.3 2.1-.1 2.3"/><path class="g" d="M109.9 324.5l-1 1.5-.8 1.4-1 2.7-.6 3.3 0 3.4M123.3 349.1l.9 1.9 1.3 1.6 1.6 1.3 2.2 1 1.7 .4 1.7 .2 2.2-.1 2-.4 2.1-.6 1.7-.6"/><path class="m" d="M125.6 345.6l.8 1.9 .8 1.2 .9 .8 1.3 .9 1.2 .5 1.5 .3 1.6 .1 1.7-.1 1.5-.4M124.4 356.1l1.2 .9 1 .5 1.5 .6 1.4 .3 2.6 .3 2.7-.2 2.9-.6 2.8-.9 2.5-1.2"/><path class="b" d="M123.9 360.8l2.3 1 2.5 .6 2.6 .2 3.2-.2 3.2-.6 3.5-1.2 3.2-1.4"/><path class="g" d="M125.2 359.3l1.2 .6 1.4 .4 2.4 .5 2.3 .1 2.7-.3 3.1-.6 2.7-.9 2.9-1.3"/><path class="b" d="M128 340.3l0 1.7 .2 1.2 .5 1.4 .9 1.3 1.2 .9 1.6 .6 1.6 .2 1.5-.2 1.6-.4"/><path class="g" d="M127.4 341.6l.1 1.5 .2 1.1 .5 1.3 .9 1.2 1.2 .9 1.2 .6 1.3 .3 1.6 0 1.6-.2 1.7-.5"/><path class="m" d="M127.5 340.8l.2 2.6 .3 1.2 .7 1.1 .8 1 .9 .7 1.3 .5 1.2 .3 1.3 0 1.4-.2 1.5-.4"/><path class="r" d="M127.5 340.9l.2 2.5 .3 1.2 .6 1.2 .9 .9 .9 .7 1.2 .5 1.2 .3 1.6 0 1.4-.2 1.5-.4"/><path class="g" d="M105.2 320.6l-1.4 1.8-1.2 1.7-.8 1.7-.6 1.7-.3 1.5-.3 2.1M102.4 320.2l-1.4 1.9-1 1.8-1.1 2.7-.6 3.1"/><path class="r" d="M119.1 337.6l.3 3.2 .8 3.4 1.4 3.4 1.7 2.6 1.9 2 1.1 .9 1.3 .7 2.5 .8 1.5 .2 1.5 .1 3.2-.4 3.1-.9 2.8-1.4 2.9-2.1 1.9-1.9 1.7-2.4"/><path class="g" d="M127.2 341.2l.2 1.2 .3 1.3 .6 1.2 .9 1.1 .9 .8 1.2 .5 1.2 .4 1.5 .1 1.5-.2 1.6-.4 1.3-.6 1.3-.9"/><path class="r" d="M120.6 339.5l.2 1.5 .5 1.8 1.3 3.2 .9 1.5 .9 1.3 1.1 1.2 1.1 .8 1.2 .8 1.4 .6 1.7 .4 2 .2 1.8-.1 2-.3 2.1-.7 1.8-.9 1.8-1.1 1.5-1.2 1.3-1.3 1.2-1.6"/><path class="g" d="M109.1 321.5l-1.5 1.5-1.1 1.6-1.3 2.3-.6 1.5-.5 2.2"/><path class="m" d="M113 322l-1.6 1.5-1.3 1.6-.9 1.6-.8 1.5-.8 2.5-.4 3.3"/><path class="r" d="M107.4 318.7l-2.5 2.6-1.7 2.6-1.1 2.5-.8 2.8"/><path class="g" d="M123 342.6l.6 1.4 .7 1.4 1.6 2.2 1.1 1 1 .7 2.2 1 1.9 .4 1.8 .1 2-.2 2.1-.6 2.1-1 1.7-1.1 1.6-1.5 1.1-1.3M92.7 311.8l-2.7 2.9-1.1 1.3-1.6 2.7-.6 1.2-.9 2.3"/><path class="r" d="M129.3 341.3l.4 1.8 .4 .7 .5 .8 .8 .5 1 .5 .9 .2 1.1 0 1.1-.2 1.2-.4 1.2-.6 .9-.7 1.4-1.7"/><path class="b" d="M79.4 307.2l-2.6 3.2-1.9 3-.7 1.3-1 2.5"/><path class="r" d="M103.6 316.3l-2.3 2.2-1.7 2.3-1.5 2.8-.9 2.6"/><path class="m" d="M82.2 308.1l-2.3 2.7-1.7 2.6-1.2 2.3-.8 2.1"/><path class="g" d="M72.7 305l-2 2.3-1.6 2.1-1.3 2.1-1 1.9-1.3 3.3"/><path class="r" d="M82.8 307.7l-2.3 2.7-1.8 2.5-1.3 2.4-1.2 3.1M140 360.8l2.8-1.1"/><path class="b" d="M148.7 326.6l-7.1-2.7-4-1-3.6-.5-3.5 .1-2.1 .3-2 .5-1.8 .6-2.2 1.1-1.4 1-1.6 1.4-.9 1.2-1.1 1.6-.7 1.6-.5 1.7-.3 2-.1 1.9 .1 2.3 .3 2.4 1.1 5.7"/><path class="r" d="M144.1 329.5l-.7 .2-1.8-.1-5.3-1-2.8-.2-1.8 .2-1.3 .2-1.3 .4-1.5 .6-1.3 .8-1.1 1-.9 1-.7 1.2-.5 1.1-.3 1.5-.2 1.5 .1 1.6 .3 1.7 .6 1.7 .7 1.7 1 1.4 1.1 1.3 1.2 1 1.3 .8 1.5 .6 1.6 .3 1.6 .1 1.6-.1 1.7-.4 1.8-.8 1.5-.8 1.4-1.1 1.4-1.3 1.6-2.4 .7-1.5"/><path class="g" d="M159.9 324.1l-.4 .1-.9 .1-1.1-.4-1.3-.6-6.9-4.2"/><path class="r" d="M133.9 364.9l2.4-.4 4.4-1.3 4.3-1.9 4-2.4 3.3-2.6"/><path class="m" d="M143.7 329.2l-1.2-.1-6.1-1.3-3.5-.1-2.3 .2-1.8 .5-1.7 .7-1.6 1.1-1.4 1.2-1 1.5-.7 1.5-.5 1.9-.2 2.1 .2 2 .6 2.2 .8 2 1 1.8 1.1 1.5 1.3 1.2 1.6 1 1.7 .7 1.7 .4 2 .1 1.8-.2 1.9-.4 1.9-.8 2-1.2 1.6-1.3 1.5-1.6 1.2-1.9 .9-1.7 .5-1.8 .3-2.1"/><path class="r" d="M130.7 341.9l.3 .7 .5 .6 .6 .5 .7 .3 .8 .2 .9-.1 1.7-.4 1.6-1.1 1.1-1.4 .7-1.7 .1-1.8"/><path class="m" d="M131.9 339l0 1.2 .3 1 .6 .7 .9 .3 1-.1 1.1-.5 .8-.7 .6-.9 .3-1.1 .1-1.2"/><path class="r" d="M131 341.1l.5 1.2 .8 .8 1.3 .4 1.3-.1 1.4-.5 1.1-.9 .9-1.2 .6-1.4 .1-1.6"/><path class="g" d="M132.4 338.9l-.1 1.1 .2 .8 .5 .6 .8 .3 .8 0 .8-.4 .8-.7 .6-.7 .3-1 .1-.9-.2-1.1"/><path class="m" d="M138.9 377.6l3.9-1.4 3.6-1.4 3.8-1.8 3.1-1.7 3.1-2 3.3-2.3"/><path class="r" d="M112.8 318.3l-1.6 1.1-2.6 2.2-1 1.2-1.2 1.8-1.4 2.8"/><path class="b" d="M99.5 310.5l-2.7 2.1-2.2 2.1-1.7 2.1-1.4 2-1.3 2.9"/><path class="g" d="M110.3 315.8l-2.6 1.6-1.1 .9-1.9 1.8-1.5 1.8-1.2 1.8-.9 1.7"/><path class="b" d="M137.9 332.7l-3.4-.3-1.7 .1-1.9 .4-1.5 .7-1.2 1-.9 1.3-.4 1.6 0 1.7 .2 1 .5 1.1 .6 1 .7 .8 .8 .7 .9 .5 1 .4 1.1 .2 1.1 0 1-.1 1.2-.4 1-.5 1.6-1.4 .7-.9 .5-.9 .5-1.8 0-2-.5-1.7-1-1.6-1.4-1.4-1.7-1.1-2.1-.8-2.1-.2-2 .1-1.9 .6-1.6 1-1.3 1.2-1 1.6-.5 1.8-.2 2 .3 2.1 .4 1.4 .6 1.6 .9 1.5 1 1.3 1 1 1.2 .8 1.3 .7 1.4 .5 1.6 .2 1.4 0 1.5-.2 1.6-.4 1.6-.7 1.3-.8 1.5-1.2 1.2-1.2 1-1.4 .6-1.1 .5-1.3 .4-1.4 .2-1.4 0-1.5-.5-2.6-.6-1.5-.6-1M137.1 347l1.3-.7 1.5-1 1.2-1.2 1.1-1.4 .6-1.4 .5-1.4 .2-1.6-.1-1.6-.2-1.3-.6-1.7-.7-1.2-1.2-1.5-1.1-1.1-1.3-.9-1.4-.8-2.5-.9-1.6-.3-1.7-.2-1.6 .1-1.5 .2-1.4 .3-1.4 .5-1.2 .7-1.4 1-.8 .8-1 1.3-.5 .9-.6 1.4-.4 1.3-.2 1.7 0 1.7 .2 1.9 .4 1.9 .6 2 .7 1.9 .9 1.8 1.8 2.6 1.1 1.2 1 .8 1.1 .7 1.3 .6 1.4 .5 1.5 .3 2.5 .1 2.8-.3 2.6-.8 2.7-1.2 2.4-1.5 2.2-2 2.1-2.4 1.4-2.4 1.1-2.6 .4-2.2 .2-3.1M140.3 377.1l3.6-1.3 3-1.3 5.4-2.6 4.7-2.9 2.5-1.8 2.4-1.9"/><path class="m" d="M135.8 356.4l2.5-.6 2.2-.8 3.2-1.7 2.7-2.1 2.2-2.2 1.9-2.7"/><path class="g" d="M140.9 377.2l5.6-2.2 5.1-2.4 2.8-1.6 2.9-1.8 4.4-3.2"/><path class="r" d="M137.3 347.6l1.5-.8 1.2-.8 1.2-1.1 1-1.3 .7-1.1 .6-1.3 .4-1.4 .2-1.5-.1-1.6-.3-1.6-.4-1.2-.9-1.5-.8-1.1-.9-1.1-1.1-.9-1.3-.8-1.3-.7-1.4-.6-2-.5-3.1-.3-1.4 .1-1.9 .3-1.3 .4-1.6 .7-1.4 .9-1.1 1-1.5 2-.7 1.2-.4 1.2-.4 2.8 .1 3 .7 3.6 1.4 3.6 1.7 3 1 1.3 1 1 1.1 .9 1.2 .7 1.4 .7 1.3 .3 1.4 .3 1.6 .1 3.2-.3 3.1-.9 1.7-.7 1.7-.9 2.9-2.1 2.4-2.4 1.4-2 1.2-2.2 .9-2.4 .5-2.7"/><path class="b" d="M138.9 367.6l4.3-1.5 2.4-1 2.5-1.3 4.3-2.8 3.6-2.9 1.7-1.7"/><path class="m" d="M137.1 347.6l1.6-.7 1.2-.9 1.2-1 1.1-1.3 .7-1.2 .6-1.3 .4-1.4 .2-1.5-.1-1.6-.3-1.6-.4-1.2-.9-1.5-.8-1.1-1-1.1-1.1-.9-1.2-.9-1.4-.7-1.4-.5-2.1-.6-3-.2-1.5 .1-1.9 .3-1.3 .5-1.5 .7-1.4 .9-1.2 1-1.5 2-.6 1.3-.4 1.2-.4 2.8 .2 3 .8 3.6 1.4 3.7 1.6 2.8 1 1.3 1 1 2.2 1.5 1.4 .7 1.3 .4 1.4 .2 1.6 .1 3.1-.2 3.2-.9 1.7-.7 1.7-.9 3-2.1 2.5-2.5 1.4-1.9 1.2-2.3 .9-2.5 .5-2.7"/><path class="g" d="M137 336.9l-.5-1.1-.8-1-1.1-.8-1.3-.5-1.2-.2-1.2 .1-1.3 .4-.9 .5-.9 .9-.5 .8-.4 1.2-.1 1.2 .1 1.2 .4 1.2 .6 1.1 .7 1 .8 .7 1.1 .7 .9 .4 1.1 .3 1.2 0 1.2-.1 1-.3 1.2-.6 .9-.6 .8-.8 .7-1 .6-1.1 .3-1 .2-1.3 0-1-.3-1.5-.4-1-.6-1-.8-1-.9-.9-1.1-.7-1.2-.7-1.3-.4-1.4-.3-1.3-.1-1.4 0-1.7 .4-1.2 .4-1 .6-1 .7-1 1-.6 .9-.6 1.2-.5 2.3 0 2.7 .7 2.8"/><path class="r" d="M139 337.8l-.3-1.6-.8-1.5-1.3-1.4-1.5-.9-1.6-.6-2-.2-1.6 .2-1.7 .7-1.3 .8-1 1.3-.7 1.4-.2 1.5 0 1.7 .4 1.9 .8 1.7 1 1.4 .9 .9 1.1 .8 1.2 .6 1.3 .4 1.4 .1 1.3 0 1.3-.3 1.4-.5 1.3-.7 1.1-.8 1-1 .8-1.2 .7-1.4 .4-1.2 .2-1.6 0-1.3-.3-1.4-.5-1.3-.7-1.3-1-1.3-1.2-1.1-1.3-.9-1.6-.8-1.6-.6-1.7-.3-1.7-.1-1.6 .1-1.6 .3-1.5 .5-1.3 .6-1.1 .8-1.1 1.2-.8 1-.7 1.3-.4 1.4-.3 1.4-.1 1.3 .1 1.7M141.6 376.7l3.3-1.3 3.7-1.6 3-1.5 3.1-1.8 3.2-2.1 3.3-2.5 2.1-2"/><path class="m" d="M136.4 356l2.1-.6 3-1.2 3.2-2 2.6-2.3 2.1-2.4 1.7-2.8"/><path class="g" d="M137.3 359.3l2.6-.8 2.7-1.1 2.9-1.6 2.1-1.5 2.2-1.8 2.1-2.2 1.3-1.6"/><path class="m" d="M137.6 337.7l-.4-1.2-.5-1.1-.9-.9-1-.7-1.2-.5-1.3-.2-1.3 .1-1.3 .3-1.1 .6-.8 .8-.6 1-.4 1.1-.1 1.3 .2 1.4 .3 1.1 .7 1.3 .7 .8 .8 .8 1 .5 1 .5 1.1 .2 1.1 0 1.2-.1 1.1-.4 1.1-.5 1-.7 .8-1 .7-.9 .4-1.1 .3-1.1 .1-1.2-.1-1.1-.3-1-.4-1-.6-.9-.8-.9-.9-.8-1-.7-1.1-.5-1.2-.4-2.5-.4-2.4 .3-1.1 .4-1.2 .6-.8 .7-.9 .9-.6 .8-.5 1-.3 1.1-.2 1.2 0 2.4 .6 2.4 1.2 2.3 1.4 1.9 1.8 1.4 2.1 1 1.8 .4 1.8 0 1.8-.3 1.7-.5 1.6-.8 1.6-1.2 1.5-1.5 1.1-1.5 .8-1.8 .4-1.5 .2-2-.1-1.8-.4-1.7-.8-1.7-1.1-1.6-1-1.2-1.2-1-1.3-1-1.5-.8-1.6-.6-1.6-.5-1.6-.3-1.7-.1-2.2 .1-1.5 .2-1.5 .5-1.3 .5-1.6 .9-1 .7-1.2 1.2-1 1.2-.7 1.3-.5 1.3-.4 1.6-.2 1.6 0 2M136.6 356.2l2.1-.6 3.1-1.3 3.2-2 2.7-2.4 2-2.5 1.7-2.9"/><path class="g" d="M110 313.5l-3.1 1.7-2.5 1.8-2.1 2-1.6 2-1.2 1.9"/><path class="m" d="M140.2 361.9l2.3-1 2.4-1.1 2.5-1.5 3.2-2.4 3.1-3 2.3-2.9"/><path class="r" d="M139.7 337.7l-.4-1.8-.9-1.7-1.3-1.4-1.6-1-1.9-.7-1.9-.2-1.9 .1-1.7 .6-1.7 1.1-1 1.1-.8 1.6-.4 1.6-.1 1.9 .4 2.1 .7 1.9 1.1 1.7 1.4 1.4 1.1 .8 1.3 .7 1.4 .4 1.5 .2 1.6-.1 1.5-.3 1.5-.6 1.3-.6 1.4-1.1 1.1-1.2 1-1.3 .6-1.2 .4-1.3 .3-1.5 .1-1.5-.2-1.5-.5-1.5-.5-1.2-1-1.4-.9-1.1-1.4-1.2-1.2-.8-2.6-1.2-2.9-.7-1.5-.1-1.9 .1-1.4 .2-1.7 .5-1.1 .5-1.4 .8-.9 .7-1.1 1-1.3 2-.9 2.4-.3 2.7"/><path class="b" d="M135 352.1l1.8-.4 1.5-.4 1.5-.7 1.5-.8 1.6-1.2 1.5-1.3 1-1.2 .9-1.3 .8-1.5 .7-1.6 .4-1.7"/><path class="m" d="M136.4 354.9l1.9-.6 2.9-1.2 2.5-1.5 2.5-2.1 1.9-2.2 1.7-2.6 1.2-3"/><path class="b" d="M135.6 351.6l2.1-.5 2.3-1 1.9-1.1 1.8-1.6 1.4-1.5 1.1-1.7 1-2 .6-2.2"/><path class="m" d="M110.8 313.7l-3.2 1.9-1.8 1.4-1.6 1.4-1.8 2.1-1.4 2.2"/><path class="g" d="M136.8 355.9l2.2-.6 1.7-.7 2.4-1.2 1.9-1.2 1.8-1.5 1.7-1.7 1.6-2 .9-1.6 .9-1.6M139 360.3l2.8-1 3-1.4 2.3-1.4 2.3-1.8 2.4-2.1 1.4-1.6 2.1-2.8"/><path class="r" d="M140.2 342.2l.6-1.1 .4-1 .2-1.1 .1-1.1-.1-1.2-.3-1.2-.5-1.2-.7-1.1-.9-1-1.1-.9-1.2-.8-1.3-.6-1.4-.5-1.5-.3-1.4-.1-1.5 .2-1.3 .2-1.3 .5-1.1 .6-1.2 .9-.8 .8-.8 1.1-.6 1.2-.3 1.2-.2 1.3-.1 1.5 .5 2.9 1 2.9 1.6 2.5 1.9 1.9 1.1 .8 1.2 .6 1.3 .4 1.3 .3 2.1 .1 2.1-.3 2.1-.7 1.9-.9 1.9-1.3 1.7-1.7 1.3-1.7 1-2 .6-1.8 .3-1.9 0-2-.4-2-.8-2.1-1.1-2-1.6-1.8-1.4-1.3-1.6-1.1-1.8-.9-1.9-.8-1.9-.5-2-.4-2-.1-2 .1-1.8 .3-1.8 .4-2.1 .9-1.4 .7-1.6 1.2-1.3 1.4-1 1.4-.8 1.4-.5 1.5-.4 1.8-.2 2.2"/><path class="g" d="M137.7 347.8l1.5-.7 1.3-1 1.3-1.2 1.2-1.5 .7-1.3 .6-1.4 .4-1.5 .1-1.7-.2-1.7-.4-1.7-.8-1.7-.7-1.1-1.3-1.6-1-1-1.8-1.2-1.4-.8-2.9-1-1.5-.3-2.3-.3-1.5 .1-2.2 .2-1.4 .4-1.9 .7-1.7 1-1.4 1.1-1.1 1.2-.9 1.3-.7 1.4-.6 1.9-.3 1.8-.1 1.8 .2 2.1 .3 2.1 .5 2.7"/><path class="b" d="M141 360.7l3.8-1.8 3.4-2.1 3.4-2.8 2.6-2.8 2.3-3.3M136.1 350.2l2-.6 2.1-1 1.7-1.2 1.6-1.6 1.4-1.9 .8-1.7 .7-2 .2-2.1 0-1.7"/><path class="r" d="M138.3 353.2l2.3-1 2-1.1 1.9-1.5 1.9-1.8 1.3-1.8 1.1-2 .7-1.6 .6-2.3"/><path class="g" d="M139.7 345.7l1.3-1 1.1-1.4 .7-1.1 .5-1.3 .4-1.4 .2-1.4-.1-1.6-.3-1.6-.4-1-.7-1.6-.7-1-1.3-1.4-1-.8-1.7-1.1-1.3-.6-1.9-.7-1.4-.4-1.4-.2-2.1 0-2 .2-1.9 .5-1.2 .4-1.5 .9-1.4 1-1.1 1.1-.9 1.2-.6 1.3-.5 1.3-.4 1.3-.2 3 .4 3.6"/><path class="m" d="M136.9 349.6l1.8-.7 1.8-1 1.7-1.4 1.3-1.5 1.2-1.7 .7-1.6 .4-1.7 .3-1.8-.1-1.9-.5-2"/><path class="r" d="M137.9 350.2l1.9-.9 1.9-1.2 1.7-1.6 1.4-1.7 1.1-2 .6-1.7 .4-1.9 .1-2-.3-2.1"/><path class="g" d="M140.7 353.8l2.3-1.3 1.8-1.1 1.7-1.5 1.1-1.1 1.5-1.9 .9-1.4 1.2-2.3 .6-1.7 .4-1.9"/><path class="b" d="M142.2 359.3l3.2-1.7 2.6-1.7 2.6-2.1 2.5-2.7 1.7-2.3 1.5-2.6 1.2-2.9"/><path class="g" d="M149.3 319.1l-4.8-2.2-2.7-1-2.8-.7-3-.6-3.1-.3-4.5 0-4.4 .5-4.1 1.1-3.5 1.5-3 1.9-2.4 2-1.3 1.5-1 1.4"/><path class="b" d="M142.1 357.1l2.9-1.6 2.9-2.1 2.3-2.2 2.1-2.6 1.4-2.2 1.2-2.5 .8-2.7"/><path class="r" d="M145.3 341.7l.4-1.3 .2-1.3 .1-1.3-.1-1.5-.3-1.4-.5-1.4-.6-1.4-1.6-2.3-1.3-1.2-1.4-1.1-2.6-1.5-3-1-1.8-.4-1.9-.1-1.8 0-1.7 .2-1.7 .4-1.5 .5-1.4 .6-1.3 .8-1.1 .9-1.2 1.2-.7 1-.8 1.4-.6 1.4-.4 1.4"/><path class="m" d="M143 355.8l2.6-1.6 2.5-2 1.9-2 1.8-2.3 1.2-2 1.2-2.9 .7-2.4M141.8 357.6l3.2-1.7 3.3-2.4 2.6-2.5 2.3-3.2 1.2-2.1 .7-1.6 1-3.3"/><path class="g" d="M143.9 357.8l2.3-1.3 2.3-1.6 2.2-2 1.5-1.5 2.1-2.6 1.2-1.9 1-2.2 .9-2.3"/><path class="b" d="M144.4 359.2l2.7-1.6 2.7-2 2.7-2.4 1.9-2.2 1.7-2.5 1.5-2.9 .8-2"/><path class="g" d="M144.2 356.1l2.1-1.3 2.2-1.7 2-2 2-2.3 1.2-1.7 1-2 .9-2 .6-2.3"/><path class="b" d="M143.8 331.8l-1-1.4-.8-.9-1.4-1.3-1.1-.8-1.7-.9-1.3-.6-3.2-.9-3.4-.3-3.1 .4-1.8 .5-1.6 .6-2.3 1.4-1.1 1-.9 1.1-.8 1.1"/><path class="g" d="M144.5 345.1l1.3-2 .7-1.7 .5-1.9 .2-2-.1-2.1-.4-1.4-.8-2.2-.8-1.4-1.6-2-1.2-1.3-2.3-1.6-1.6-.9-1.8-.8-1.9-.6-1.9-.4-3-.3-1.9 .1-2.8 .4-1.7 .5-2.3 .9-2.1 1.2-1.6 1.4-1.3 1.6-1 1.5-.7 1.7-.6 2.1"/><path class="m" d="M147.3 338.3l-.1-2.1-.4-2.1-.6-1.7-1.3-2.1-1.1-1.5-1.5-1.3-1.6-1.3-1.8-1-2.6-1.1-2.1-.6-2.8-.4-2.1 0-2.7 .3-1.9 .4-2.3 .9-1.5 .8-1.3 .9-1.1 1-1.3 1.5-.7 1.1-.7 1.5M145.5 334.3l-.8-1.9-.8-1.4-1.5-1.8-1.8-1.5-2.1-1.3-1.7-.8-2.4-.8-2.5-.4-2.5 0-2.4 .3-2.2 .6-1.9 .8-1.7 1-1.7 1.6-1.3 1.6"/><path class="b" d="M146.6 336.4l-.5-2.2-.6-1.7-1.3-2.2-1.3-1.6-1.6-1.4-1.8-1.2-1.3-.7-2.1-.8-1.5-.5-2.2-.4-1.5-.1-2.2 0-2.1 .3-2 .5-2.9 1.2-1.5 1-1.3 1-1 1.2-1.1 1.6"/><path class="r" d="M146.7 335.1l-.4-1.5-1-2.1-1-1.5-1.7-1.8-2-1.6-2.3-1.4-1.9-.7-2.7-.7-2.7-.4-2.7 .1-2.5 .4-2.3 .7-2 1-1.7 1.2-1.7 1.6-1.2 1.8M146.4 345.6l1-1.8 .9-2 .5-2.1 .1-1.8 0-1.7-.4-1.9-.8-2.4-1-1.8-1.2-1.7-1.6-1.6-1.7-1.4-2-1.3-2.2-1-2.3-.8-2.4-.5-2.4-.3-2.4 0-3 .4-2.1 .5-2.5 1-1.6 1-1.9 1.4-1.8 1.9-1.5 2.5-.8 2.4"/><path class="b" d="M147.8 340l.2-1.8 0-1.9-.3-1.9-.7-1.9-.9-1.9-1.3-1.8-1.6-1.7-1.9-1.5-1.4-.8-1.5-.8-2.4-.9-1.7-.5-2.5-.4-2.6-.1-2.4 .2-1.6 .3-2.2 .6-1.9 .9-1.8 1-1.5 1.1-1.2 1.3-1 1.3-1 1.8M148.2 340l.2-1.9 0-1.3-.2-1.9-.6-2-.9-1.9-1.2-1.9-1.6-1.8-1.9-1.6-2.1-1.4-1.6-.8-2.5-.9-2.6-.6-2.6-.3-2.6 .1-2.5 .3-2.3 .6-2.1 .8-1.8 1-1.1 .8-1.4 1.2-1.8 2.3-.7 1.3"/><path class="g" d="M145.4 352.9l1.9-1.5 1.8-1.8 1.7-2.1 1-1.6 .9-1.7 .8-1.9 .7-3.1 .2-2.2-.3-3.4"/><path class="r" d="M148.7 345.8l1.2-2.1 .8-2.4 .4-2.6 0-2.8-.6-2.8-.8-2.2-1.6-2.7-1.7-2-1.9-1.8-2.3-1.6-2.5-1.3-2.7-1-2.8-.8-3.8-.4-2.8 0-2.7 .3-2.5 .6-2.3 .8-2.1 1-2.3 1.6-1.8 1.7-1.4 1.9-.8 1.4-.7 1.8"/><path class="m" d="M146.8 351.4l1.8-1.8 1.2-1.5 1.5-2.4 .9-1.9 .7-2.1 .5-2.2 .1-2.4-.2-2.5-.6-2.5-.6-1.6M150.5 346.3l1.2-2.4 .9-2.8 .4-3-.1-3.1-.3-1.7-.5-1.6-1.1-2.4-1.5-2.4-1.9-2.2-1.5-1.4-1.7-1.2-2.7-1.7-3.1-1.3-3.2-1-3.3-.6-3.3-.2-3.2 .2-3.1 .5-2.7 .8-3.3 1.5-2.7 1.8-2.1 1.9-1.2 1.6-1.2 2-.8 2M95.4 298.7l-4.6 2.5-4 2.8-1.7 1.4-2.9 2.7"/><path class="r" d="M150.1 340.1l.2-1.9 0-2-.3-2-.7-2-.9-2-1.3-2-1.6-1.8-1.9-1.6-1.4-1-2.3-1.3-1.6-.8-1.8-.6-2.6-.6-1.8-.3-2.7-.1-1.7 0-2.6 .3-2.3 .6-2.2 .8-1.9 1-1.7 1.1-1.8 1.6-1.7 2.2M151.7 338.9l0-2.9-.3-2.2-1.1-3-1.2-2.2-1-1.4-1.1-1.3-2.1-1.9-2.3-1.6-2.6-1.4-2.8-1.1-3-.8-3-.4-2.9-.1-2.9 .3-2.7 .5-2.5 .8-2.2 1-1.9 1.2-2.1 1.7-1.3 1.4-1.3 1.9M149.4 354.9l2.8-2.7 1.6-1.9 1-1.4 1.7-3.2 .7-1.7 .6-1.8 .5-2.9 .2-2.1-.1-2.1"/><path class="m" d="M151.8 338.8l0-2.9-.4-2.3-1.1-3-1.2-2.2-1.6-2.1-2-2-2.4-1.7-2.6-1.5-2.8-1.1-3-.9-3-.4-3-.2-2 .1-2.8 .4-2.7 .7-2.3 1-2.1 1.1-2.3 1.7-1.4 1.4-1.5 1.9M151.1 344.7l1-2.6 .5-2.9 .1-3-.5-3.2-.9-2.4-.8-1.6-1-1.5-1.8-2.2-1.4-1.4-1.6-1.3-2.7-1.7-2.9-1.3-3.1-1.1-3.2-.6-3.3-.3-3.2 .1-3.9 .7-2.7 .8-3.2 1.5-2.5 1.8-2 1.9-1.2 1.5-1.2 2M151 341.7l.5-2.6 0-2.9-.5-2.9-1.1-3-.9-1.4-.9-1.4-1.8-2-1.4-1.3-1.5-1.1-2.5-1.5-2.7-1.2-2.9-.9-3-.5-3-.2-2.9 .2-3.6 .6-3.2 1.1-2.8 1.5-2.2 1.7-1.7 1.8-1.1 1.4"/><path class="g" d="M151.9 343.8l.6-1.8 .5-1.9 .3-2-.1-3.2-.3-2.2-.8-2.2-1-2.2-1.4-2.2-1.7-2.1-2.1-1.9-2.4-1.7-2.7-1.5-2.9-1.2-3.1-.9-1.5-.3-3.2-.5-3.2 0-3.1 .2-2.9 .5-4 1.3-2.4 1.2-2 1.2-1.8 1.4-1.4 1.5-1.2 1.5-.9 1.5"/><path class="b" d="M151.5 336.5l-.3-2.4-.8-2.5-1.1-2.4-1.7-2.4-1.3-1.5-1.6-1.3-1.7-1.3-1.8-1.1-2-1-3.2-1.1-2.3-.5-2.2-.3-2.2-.1-2.2 0-2.2 .2-2 .4-1.9 .6-1.8 .7-1.6 .7-2.2 1.4-2.2 2-1.7 2.1"/><path class="m" d="M151.4 344.5l1-2.7 .5-2.9 0-3.1-.2-1.6-.4-1.6-.9-2.5-.9-1.6-1-1.5-1.9-2.2-1.5-1.4-1.7-1.3-2.7-1.6-3-1.4-3.2-1-3.3-.5-3.3-.2-3.2 .1-3.1 .5-2.7 .8-3.3 1.5-2.7 1.8-2.1 1.9-1.2 1.6-1.2 2"/><path class="r" d="M152.3 356.3l2-1.9 1.3-1.4 1.8-2.4 1.1-1.7 .9-1.9 .9-1.9 .7-2.1 .5-2.3 .3-3.5 0-2.4"/><path class="g" d="M152.2 339.6l.2-1.9-.1-3-.4-2.1-.8-2.1-1-2.1-1.4-2.1-1.6-1.9-2-1.8-2.3-1.6-2.6-1.4-2.7-1.1-2.9-.8-3-.5-3-.3-2.9 .1-2.9 .4-2.6 .6-3.6 1.4-2.1 1.1-1.8 1.3-1.5 1.3-1.3 1.4M88.5 294l-4 2-3.5 2.2-3.2 2.2-2.7 2.3-2.4 2.3"/><path class="m" d="M159.7 367l3.4-2.8 2.1-2.2 2.2-2.3 2-2.6 2-2.8 1.7-3.1 1.5-3.4"/><path class="b" d="M95.8 296.3l-3.1 1.4-2.8 1.5-2.5 1.5-2.4 1.6-2.1 1.7-3.5 3.2"/><path class="g" d="M155.8 358.2l3.1-3.1 1.9-2.4 1.8-2.7 .9-1.4 1.4-3.2 1.1-3.4 .7-3.7"/><path class="m" d="M154.9 340.6l.3-2.5-.1-2.7-.5-2.7-.6-1.9-1.2-2.7-1.1-1.8-1.4-1.7-1.5-1.7-2.8-2.2-2-1.4-2.2-1.1-2.4-1-2.4-.8-2.5-.6-2.6-.4-3.8-.2-2.5 .1-2.3 .3-2.3 .4-3.2 1-1.9 .8-1.7 .9-1.6 1-2 1.6-1.1 1.1-1.4 1.7"/><path class="r" d="M101.6 296.3l-5.4 2.2-4.7 2.4-2 1.4-3.7 2.7-3 2.7M151 350.4l1.9-2.4 1.1-2.1 1.3-3.1 .6-2.5 .2-2.7-.1-2.8-.6-2.9-1.1-2.9-1.5-2.8"/><path class="m" d="M152.1 330.5l-1.3-2.5-1.1-1.6-2.1-2.3-1.5-1.4-2.7-1.8-2-1.1-2.1-.9-3.3-1.1-2.2-.5-3.4-.4-2.3 0-3.3 .2-2.1 .4-2.9 .8-3.4 1.4-1.5 .9-1.9 1.4"/><path class="b" d="M155.7 341.2l.5-3 0-2-.4-3.2-.6-2.2-.9-2.2-1.1-2.1-1.5-2.1-1.8-2-2-1.8-2.3-1.7-2.6-1.5-2.7-1.3-4.4-1.4-3.1-.6-3.1-.3-3-.1-3 .2-2.8 .5-2.7 .7-3.6 1.4-2.1 1.1-1.9 1.2-1.6 1.3-1.3 1.3-1.2 1.3"/><path class="m" d="M156.1 340.8l.2-1.8 .1-1.9-.2-2.9-.7-2.9-1.2-3-1.7-2.9-2.3-2.7-2.8-2.5-3.3-2.2-3.7-1.7-4-1.3-2.7-.6-4.1-.5-4.1 .1-3.8 .5-3.6 .9-3.1 1.2-2.8 1.5-1.6 1.1-1.4 1.2-1.7 1.7"/><path class="g" d="M154.1 333.6l-.6-2.4-.9-2.3-1.3-2.3-1.7-2.3-2.1-2.1-2.4-1.9-2.7-1.7-3-1.5-3.3-1-3.3-.8-3.5-.4-3.4 0-3.2 .3-1.6 .3-3 .8-4 1.6-3.2 2.1-1.8 1.5"/><path class="b" d="M161.9 365.3l3.7-3.5 3.5-4 2.2-3.1 1.1-1.7 1.8-3.5 1.5-3.9"/><path class="g" d="M161.7 366l4.5-4 2.9-3.2 2.8-3.7 1.3-2 2.2-4.3 1-2.4"/><path class="b" d="M157.5 343.3l.6-2 .4-3.4 .1-2.3-.6-3.6-.7-2.5-1.1-2.4-1.4-2.4-1.7-2.4-2.2-2.2-2.4-2-2.8-1.9-3-1.6-3.2-1.3-3.5-1-3.5-.6-3.5-.4-3.5 0-3.4 .3-3.2 .6-4.5 1.3-2.6 1.2-2.3 1.2-2 1.5-1.8 1.4-1.4 1.5-1.7 2.3"/><path class="g" d="M156.2 340.8l.4-2.4 .1-2.5-.1-1.3-.4-2.7-.8-2.7-1.3-2.6-1.7-2.7-2.2-2.5-2.6-2.3-1.5-1-3.2-2-3.6-1.5-1.8-.7-3.9-.9-4-.6-3.9-.1-3.9 .3-3.6 .8-1.7 .4-3.2 1.2-1.5 .7-2.6 1.5-2.2 1.7-1.8 1.7M157.4 342.4l.6-2.5 .3-2.6 0-2.8-.2-1.5-.7-2.9-1.1-2.9-1.6-2.9-2.2-2.8-2.6-2.6-3.2-2.4-1.7-1.1-3.8-1.8-4-1.5-2.2-.5-4.3-.8-4.4-.2-4.3 .2-4.1 .7-3.7 1-1.8 .7-3.1 1.5-1.5 .8-2.5 1.8-1 1-1.9 1.9"/><path class="b" d="M157.7 356.4l1.7-1.9 2.3-3.2 2-3.6 1.6-4.1 .7-3 .2-1.5 .2-3.2 0-1.7"/><path class="r" d="M163.3 363.9l2.2-2.1 2.1-2.3 2.1-2.6 1.8-2.9 1.7-3 .8-1.7 1.3-3.4 .6-1.9"/><path class="b" d="M158.4 343.6l.9-3.3 .3-2.4-.1-3.7-.5-2.5-.7-2.6-.6-1.3-1.3-2.6-1.7-2.5-1-1.2-2.2-2.3-2.7-2.1-2.9-1.9-3.2-1.7-3.5-1.3-3.6-1-3.8-.7-3.7-.3-3.7 .1-3.6 .4-4.9 1.1-4.4 1.6-2.5 1.4-2.3 1.4-1.8 1.6-1.6 1.6-1.3 1.5M156.5 347.9l1.4-2.9 1-3.2 .6-3.4 0-3.7-.7-3.9-.9-2.5-1.2-2.6-.8-1.3-1.8-2.4-2.2-2.4-2.6-2.2-2.9-1.9-1.5-.9-3.3-1.5-1.8-.7-3.6-1-3.7-.8-1.9-.2-3.7-.2-3.7 .2-3.5 .5-3.3 .7-3 1.1-2.7 1.2-2.5 1.4-3 2.2-2.3 2.4-1.3 1.6"/><path class="g" d="M153.2 348.7l1.7-2.9 .9-2.1 .8-2.2 .5-2.5 .1-2.5-.1-2.7-.6-2.7-.9-2.8-1.5-2.8-.9-1.3-2.1-2.6-2.6-2.4"/><path class="r" d="M152.8 326.2l-1.4-1.8-1.6-1.8-1.8-1.6-2-1.5-2.2-1.3-2.4-1.2-2.5-1-2.6-.8-2.6-.5-2.7-.4-2.7-.1-2.6 .1-2.5 .3-2.4 .4-3.3 1-3 1.3-1.7 1M158.4 335.1l-.6-3.2-1.1-3.3-1.7-3.2-2.3-3.1-3-2.8-2.3-1.7-2.5-1.5-4.1-2-4.4-1.3-3-.7-3.1-.3-3-.1-3 .1-2.9 .4-2.7 .6-2.5 .7-2.4 1-2.1 1-1.9 1.2-2.4 1.8"/><path class="g" d="M148.5 319.2l-3.1-2.2-1.6-1-3.6-1.7-3.9-1.3-2-.4-4.1-.7-2-.1-4.1 0-3.9 .5-3.7 .9-1.7 .5-3.1 1.3-1.4 .8"/><path class="m" d="M156 350l2-3.4 .8-1.9 .6-1.9 .7-3.2 .1-2.2 0-2.3-.6-3.6-1.2-3.6-1.9-3.5-2.6-3.4"/><path class="g" d="M155.3 348.2l1.2-2.1 1-2.2 .8-2.5 .5-2.7 .1-2.7-.2-3-.7-3-1.1-3-.8-1.5-1.9-2.9-2.5-2.8-3-2.6M148.7 317.2l-1.7-1.2-3.7-2.1-1.9-.9-4.3-1.5-2.2-.6-2.2-.4-4.5-.5-2.3-.1-4.4 .3-2.1 .3-4.1 .9-1.9 .6-3.4 1.5"/><path class="m" d="M153.9 321l-2.2-2.1-3.7-2.9-2.9-1.6-3-1.5-4.9-1.6-3.4-.7-5.1-.5-5 .1-4.8 .7-4.3 1.2-3.8 1.6"/><path class="r" d="M161.8 334.8l-.4-2.5-1.1-3.9-1.1-2.5-.7-1.3-1.6-2.4-1-1.2-2.1-2.4-1.2-1.1-2.7-2-2.9-1.9-3.2-1.6-3.4-1.3-1.8-.6-1.8-.5-3.6-.7-3.7-.4-3.7 0-5.2 .4-3.4 .6-3 .9-2.9 1.1-2.5 1.2-2.3 1.4-2.9 2.2"/><path class="g" d="M166.7 338.3l.2-3.9-.1-2-.3-2.1-.5-2.1-.7-2.2-.8-2.1-1.1-2.2-1.3-2.1-1.5-2.1-1.7-2-1.9-2-2.2-1.9-2.3-1.8-2.6-1.6-2.7-1.5-3-1.4-3-1.2-3.2-1-3.3-.8-3.4-.6-3.4-.4-3.4-.2-3.4 .1-3.3 .2-3.2 .4-3.2 .7-3 .8-2.8 .9-2.7 1.1-2.4 1.1-2.3 1.3-2.1 1.4-3.4 2.7"/><path class="b" d="M166.4 334.2l-.5-3.4-.9-3.4-1.4-3.5-2-3.5-2.6-3.3-3.2-3.1-1.7-1.5-4-2.7-4.4-2.3-4.8-1.9-2.6-.8-2.5-.6-5.3-.8-5.3-.3-5.1 .2-5 .7-4.6 1.2-4.1 1.5-3.7 1.8-3.2 2"/><path class="m" d="M174.6 347.8l.6-1.7 1.1-3.8 .3-1.9 .4-4.1 0-2.1-.4-4.4-.4-2.2-.6-2.3-.8-2.2-.9-2.3-1.1-2.3-1.4-2.2"/><path class="g" d="M176.4 346.4l.9-2.5 .7-2.6 .5-2.7 .3-2.8 0-2.9-.1-3.1-.5-3.1-.8-3.1-1-3.2-1.5-3.3-1.8-3.2"/><path class="b" d="M175.7 345.6l.6-2.1 .9-4.3 .3-4.7-.1-2.4-.2-2.4-.5-2.6-.7-2.5-.8-2.6-1.2-2.5-1.3-2.6-1.6-2.5-1.8-2.5"/><path class="r" d="M175.9 344l.8-3.8 .2-2 .1-4.2-.1-2.1-.7-4.4-1.4-4.5-.9-2.2-1.2-2.3-1.3-2.2-1.5-2.2-1.7-2.2-1.8-2.1-2.1-2-2.3-2"/><path class="m" d="M171.4 316.3l-1.5-2.2-1.7-2.2-1.9-2.2-2.1-2-2.3-2-2.5-1.9-2.6-1.7-2.9-1.7-2.9-1.5-3.2-1.4-3.2-1.2-3.4-1-3.4-.9-3.5-.7-3.5-.5-3.6-.3-3.5-.1-3.6 0-3.4 .2-3.4 .4-3.4 .6-3.1 .7-3.1 .8-2.9 1-5.4 2.2"/><path class="b" d="M169.3 311.9l-2.1-2.5-2.3-2.3-2.6-2.3-2.8-2.1-3.1-2.1-3.2-1.8-3.5-1.7-3.7-1.5-3.8-1.3-3.9-1.1-4-.8-4.1-.6-4.1-.4-4.2-.1-4.1 .1-4 .3-3.9 .5-3.8 .8-3.6 .9-3.5 1.1-3.2 1.3"/><path class="r" d="M162 305.8l-2.4-1.8-2.6-1.8-2.8-1.6-3-1.5-3-1.4-3.2-1.2-3.3-1-3.4-.9-3.5-.7-3.5-.5-3.5-.4-3.5-.2-3.5 .1-3.4 .2-3.4 .3-3.3 .5-3.1 .7-6 1.7"/><path class="g" d="M173.1 313.9l-2.1-3.2-2.6-3.1-2.9-3-3.4-2.9-3.7-2.8-4.1-2.5-4.4-2.2-4.8-2-5-1.6-5.2-1.3-5.4-1-5.5-.5-5.5-.2-5.5 .2-5.3 .6-5.2 1-5 1.3-4.7 1.5-4.3 1.8"/></g><path d="M31.2 237.5V396.5H240.5M31.2 396.5v-2.3M73.06 396.5v-2.3M114.92 396.5v-2.3M156.78 396.5v-2.3M198.64 396.5v-2.3M240.5 396.5v-2.3M31.2 381.41h2.3M31.2 349.43h2.3M31.2 317.45h2.3M31.2 285.47h2.3M31.2 253.49h2.3" stroke="#858585" stroke-width=".8" fill="none"/><text x="31.2" y="409.8" text-anchor="middle">-40</text><text x="73.06" y="409.8" text-anchor="middle">-20</text><text x="114.92" y="409.8" text-anchor="middle">0</text><text x="156.78" y="409.8" text-anchor="middle">20</text><text x="198.64" y="409.8" text-anchor="middle">40</text><text x="240.5" y="409.8" text-anchor="middle">60</text><text x="27.6" y="384.81" text-anchor="end">0</text><text x="27.6" y="352.83" text-anchor="end">20</text><text x="27.6" y="320.85" text-anchor="end">40</text><text x="27.6" y="288.87" text-anchor="end">60</text><text x="27.6" y="256.89" text-anchor="end">80</text><text x="135.85" y="421.6" text-anchor="middle" font-size="11" font-style="italic">y</text><text transform="translate(13 317.45) rotate(-90)" text-anchor="middle" font-size="11" font-style="italic">z</text><rect x="148" y="242.5" width="87.5" height="44.3" fill="#fff" stroke="#666" stroke-width=".6"/><path d="M150.3 248.75h18.5" stroke="#f00" stroke-width="1" fill="none"/><text x="171.6" y="252.45" font-size="9.1">{0.3,0.3,0.3}</text><path d="M150.3 259.35h18.5" stroke="#00f" stroke-width="1" fill="none"/><text x="171.6" y="263.05" font-size="9.1">{0.4;0.4;0.4}</text><path d="M150.3 269.95h18.5" stroke="#0f0" stroke-width="1" fill="none"/><text x="171.6" y="273.65" font-size="9.1">{0.2;0.2;0.2}</text><path d="M150.3 280.55h18.5" stroke="#f0f" stroke-width="1" fill="none"/><text x="171.6" y="284.25" font-size="9.1">{0.35;0.35;0.35}</text><text x="146.5" y="439.7" text-anchor="middle" font-size="12">(<tspan font-weight="bold">c</tspan>)</text></g>
<g><path d="M396.4 403L305.6 360.9M305.6 360.9L305.6 269.65M396.4 403L514.7 370.7M514.7 370.7L514.7 279.45M420.06 396.54L329.26 354.44M329.26 354.44L329.26 263.19M378.24 394.58L496.54 362.28M496.54 362.28L496.54 271.03M443.72 390.08L352.92 347.98M352.92 347.98L352.92 256.73M360.08 386.16L478.38 353.86M478.38 353.86L478.38 262.61M467.38 383.62L376.58 341.52M376.58 341.52L376.58 250.27M341.92 377.74L460.22 345.44M460.22 345.44L460.22 254.19M491.04 377.16L400.24 335.06M400.24 335.06L400.24 243.81M323.76 369.32L442.06 337.02M442.06 337.02L442.06 245.77M514.7 370.7L423.9 328.6M423.9 328.6L423.9 237.35M305.6 360.9L423.9 328.6M423.9 328.6L423.9 237.35M305.6 351.77L423.9 319.47M423.9 319.47L514.7 361.57M305.6 333.52L423.9 301.22M423.9 301.22L514.7 343.32M305.6 315.27L423.9 282.97M423.9 282.97L514.7 325.07M305.6 297.02L423.9 264.72M423.9 264.72L514.7 306.82M305.6 278.77L423.9 246.47M423.9 246.47L514.7 288.57M305.6 269.65L423.9 237.35M423.9 237.35L514.7 279.45" stroke="#eaeaea" stroke-width=".7" fill="none"/><g class="cv"><path class="g" d="M401.8 350.5l-1-4.1-.7-4.1-.3-3.6-.2-4.2 .1-4.6"/><path class="m" d="M399.9 337l-.1-3.2 .2-3.5 .4-3.7 .4-2.6 1-4 .9-2.6 1.1-2.6 1.3-2.5"/><path class="g" d="M399.7 329.9l.3-3.4 .6-3.5 .9-3.7 1.2-3.7 .7-1.8 1.9-3.6"/><path class="r" d="M399.9 337.8l-.1-4.2 .2-3.5 .4-3.7 .4-2.5 1-4 .9-2.6 1.1-2.5 1.3-2.5"/><path class="b" d="M399.8 336.6l.1-6.3 .4-4.1 .6-2.9 .7-3 .9-3 1.2-2.9 1.5-2.8M402.2 352l-.9-3.6-.7-3.9-.5-3.6-.3-4.3"/><path class="m" d="M402.3 352.2l-1-3.8-.6-3.4-.6-4.1-.2-3.9"/><path class="r" d="M402.4 352.5l-1-3.7-.6-3.3-.6-4-.3-3.7"/><path class="g" d="M404.4 358.3l-1.4-3.7-1.2-4.1M403.2 346.1l-.5-3-.5-5.7 .1-5 .5-4.7 .5-2.4 .7-2.5 1.4-3.8 1.9-3.5 1.7-2.2 .8-.9 2-1.7M405.3 310.2l1.1-1.7 2.5-3.1 1.4-1.3"/><path class="b" d="M403.2 346.1l-.5-2.5-.5-5.2 0-5 .5-4.7 .9-4.1 1.4-4.1 .9-2 1.1-1.9 1.9-2.6 1.5-1.5 1.6-1.2"/><path class="r" d="M405.1 312.3l1.6-2.3 1.7-2.2 2-1.8"/><path class="m" d="M405.1 312.3l1.6-2.4 1.7-2.1 2.1-1.8"/><path class="b" d="M405 359.4l-1.5-3.6-1.3-3.8"/><path class="m" d="M404.9 359.3l-1.3-3.3-1.3-3.8"/><path class="r" d="M404.9 359.4l-1.3-3.2-1.2-3.7"/><path class="b" d="M405.2 311.6l1.8-2.7 2.1-2.3 2.4-2"/><path class="r" d="M403.4 342.4l-.3-4.5 0-3.8 .5-4.2 .8-3.8 1.4-3.8 1.4-2.9 1.9-2.5 1-1.1 1.2-1"/><path class="m" d="M403.7 342.4l-.3-4.2 .1-3.5 .3-3.9 .8-3.5 1.1-3.6 1.3-2.8 1.6-2.5 2-2.1 1.6-1.1"/><path class="b" d="M403.8 341.4l-.2-4.8 .2-3.9 .5-3.7 1.1-3.9 1.2-3 1.6-2.8 1.5-1.9 1.1-1"/><path class="g" d="M404 341.1l-.2-4.2 .1-3.7 .6-4.2 .9-3.5 1.1-2.7 1.3-2.6 1.6-2.3 2-1.8"/><path class="b" d="M403.8 341.2l-.2-4.8 .2-4 .6-3.7 1.1-3.8 1.2-3.1 1.7-2.8 1-1.2 1.1-1.1 1.1-.9M404 340.9l-.2-4.1 .2-3.7 .5-3.5 .9-3.7 1.1-2.9 1.5-2.8 1.4-1.8 1-1 1.1-.9"/><path class="g" d="M404 340.3l-.1-4.2 .2-3.8 .7-4.1 1.1-3.5 1.1-2.6 1.4-2.4 1.7-2.1 2-1.6M405.3 352.7l-.8-1.9-.8-2.3-.5-2.4M404.5 332.2l.7-3.9 1-3.2 1-2.4 1.3-2.2 1.6-1.9M404.2 340.1l-.1-4 .3-3.5 .6-3.9 1-3.4 1-2.4 1.3-2.3 1.5-2 1.9-1.7M405.2 345.3l-.3-1.6-.6-4-.1-4 .3-3.5"/><path class="r" d="M404.7 345.4l-.7-3.9-.2-4 .1-3.7 .5-3.7 .8-3.3 1.1-3.3 1.3-2.4 1.6-2.2 1.8-1.8 2-1.2"/><path class="b" d="M405.4 353.2l-.8-1.9-.8-2.4-.6-2.8"/><path class="m" d="M404.3 340.8l-.1-3.7 .2-3.6 .5-3.3 .7-3 1.1-3 1.5-2.8 1.5-1.9 1.7-1.5"/><path class="b" d="M404.4 340.5l-.1-3.5 .1-3.3 .6-3.7 .8-3.3 1-2.6 1.3-2.4 1.6-2.2 1.9-1.6"/><path class="g" d="M404.7 335.8l.3-3.1 .6-3.4 .8-2.8 1.2-2.8 1.6-2.6 1.4-1.5"/><path class="r" d="M404.4 340.4l-.2-3.7 .3-3.5 .5-3.4 .8-2.9 1.1-2.9 1.1-2.1 1.5-1.9 1.6-1.6 1.7-1"/><path class="m" d="M404.4 336.4l.3-3.4 .5-3.3 .8-2.8 1.1-2.8 1.5-2.5 1.4-1.7 1.6-1.3"/><path class="r" d="M405.5 350.6l-.7-1.7-.5-2-.9-4.5"/><path class="m" d="M405.5 349.3l-1-3.1-.8-3.8"/><path class="b" d="M405.5 348l-.9-3.2-.6-3.9M405.5 348.7l-.5-1.4-.6-2-.6-4.1"/><path class="m" d="M405.7 346.1l-.7-2.7-.5-3.4-.1-3.6"/><path class="b" d="M405.5 348.7l-.5-1.4-.5-1.9-.7-4"/><path class="g" d="M405.6 348l-.9-2.9-.7-4M405.5 347.4l-.5-1.5-.4-1.7-.6-3.9"/><path class="m" d="M404.9 340.2l-.1-3.5 .2-3 .4-2.9 .8-3.1 1-2.5 1.3-2.3 1.2-1.7 1.4-1.2 1.5-.9"/><path class="g" d="M405.9 345.3l-.7-2.5-.4-3.5-.1-3.5"/><path class="r" d="M405.5 348.6l-.7-2-.6-2.9"/><path class="m" d="M404.9 339.2l0-3.3 .3-3 .5-2.9 .7-2.5 1-2.5 1.3-2.2 1.2-1.5 1.4-1.2 1.5-.8M404.9 339.2l0-3.3 .3-3 .5-2.9 .7-2.5 1-2.4 1.3-2.3 1.2-1.5 1.4-1.2 1.5-.8"/><path class="g" d="M405.6 346.9l-.5-1.4-.3-1.7-.6-3.7"/><path class="m" d="M405 339.2l0-3.1 .2-3 .5-2.9 .7-2.4 1-2.4 1.2-2.2 1.2-1.6 1.3-1.2 1.5-.8"/><path class="g" d="M404.9 338.9l0-3.3 .3-2.9 .4-2.6 .8-2.7 1-2.7 1.4-2.4 1.3-1.6 1.4-1.3 1.6-.8"/><path class="m" d="M405.8 347.1l-.9-2.6-.6-3.7"/><path class="g" d="M405.1 338.5l0-3.3 .3-2.8 .5-2.5 .7-2.5 1-2.5 1.4-2.3 1.2-1.5 1.4-1.1 1.5-.8"/><path class="m" d="M405.2 338.8l0-3 .3-2.8 .5-2.7 .6-2.2 .9-2.3 1.2-2 1.1-1.5 1.5-1.3 1.4-.7"/><path class="r" d="M405.3 339.5l0-3 .2-3 .4-2.5 .7-2.6 .9-2.2 1.1-2 1-1.4 1.5-1.4 1.3-.8"/><path class="g" d="M410.3 304.1l1.6-1.2 1.6-1.1 1.8-.8"/><path class="r" d="M410.4 306l2.2-1.5 2.3-1.1M405.4 338.2l.1-2.8 .3-2.6 .5-2.5 .6-2 .8-2.1 1.1-1.9 1-1.3 1.4-1.2 1.2-.7"/><path class="m" d="M410.5 306l2.2-1.5 2.3-1.1M405.6 342.7l-.3-2.5-.2-3.1 .2-2.6 .3-2.6 .6-2.7 .8-2.3 .8-1.8 1-1.7 1.1-1.4 1.3-1.1 1.3-.8 1.4-.3"/><path class="r" d="M406.1 347.4l-.4-.7-.8-2.8-.5-3.5"/><path class="b" d="M405.6 342.1l-.3-2.7-.1-3.1 .2-2.6 .5-2.8 .6-2.5 1-2.5 1-1.9 1.2-1.6 1.4-1.3 1.4-.9 1.5-.3M406.2 347.4l-.5-.8-.8-2.6-.5-3.5"/><path class="g" d="M407.5 363.8l-.4-.3-.8-1.4-1.9-3.8"/><path class="r" d="M405.6 342.6l-.4-2.7-.1-3.1 .3-3.1 .4-2.6 .7-2.8 .9-2.2 1.1-2.1 1.1-1.5 1.2-1.2 1.3-.9 1.3-.5 1.3 0"/><path class="m" d="M406.2 345.4l-.4-.8-.6-2.5-.3-2.9M407.5 363.5l-.4-.2-.5-.7-1.7-3.3"/><path class="g" d="M406.2 345.2l-.3-.7-.6-2.4-.4-3.2"/><path class="r" d="M407.5 363.6l-.4-.2-.5-.8-1.7-3.2"/><path class="b" d="M407.5 363.5l-.4-.3-.4-.6-1.7-3.2"/><path class="m" d="M406.2 345.5l-.3-.6-.6-2.5-.4-3.2"/><path class="r" d="M405.8 338.9l-.1-2.6 .2-2.3 .4-2.5 .6-2.3 .9-2.2 1-1.7 1.1-1.5 1.2-1.1 1.1-.6 1.3-.3"/><path class="m" d="M406.2 345.3l-.3-.7-.6-2.5-.3-2.9"/><path class="g" d="M406.3 344.6l-.4-.7-.5-2.3-.3-3.1"/><path class="m" d="M406.4 345.8l-.4-.5-.7-2.2-.4-2.9M406.3 344.5l-.3-.7-.6-2.3-.2-2.7"/><path class="r" d="M406.3 343.7l-.3-.7-.4-2.2-.2-2.6M406.4 334.2l.3-2.1 .5-2 .7-1.9 .8-1.5 .9-1.3 1-1.1 .9-.6 1-.4M406.6 344.4l-.3-.5-.6-1.8-.4-2.6"/><path class="b" d="M406.2 341.6l-.3-1.9-.1-2.2 .1-2.5 .3-2.2 .5-2.4 .7-2.1 .7-1.6 1.1-1.8 1-1.2 1.1-.9 1.1-.6 1.2-.2 1 .2M406.3 341.4l-.3-1.9-.1-2.1 .1-2.4 .3-2.2 .5-2.3 .6-2 .7-1.5 1-1.8 1-1.2 1.1-.9 1.1-.6 1.1-.2 1 .2M411.5 304.6l1.2-.8 2.8-1.2 2.8-.7"/><path class="r" d="M407.1 341.7l-.2-.3-.4-1.1-.3-1.8 0-2.2 .2-2.1M406.5 349.2l-.4-.1-.5-.8-.9-2.9"/><path class="m" d="M406.9 339.9l-.2-2.7 .2-2.9 .6-3M406.4 341.2l-.2-1.2"/><path class="r" d="M406.4 340.8l-.3-1.7 0-1.9 .1-2.1 .3-2 .4-1.9 1.1-3.3 .8-1.5 .7-1.1 1.1-1.1 .8-.6 1.1-.4 .9-.1 .8 .3"/><path class="g" d="M406.9 340.1l-.3-2.7 .2-3.2M406.8 341.3l-.4-1.4-.2-2 0-2.2 .2-2.2 .4-2.2 .6-2.2 .8-1.7 .9-1.6 .8-1.1 1.1-1.2 1-.5 1.2-.4 .9 .1 1.1 .6"/><path class="m" d="M406.7 341.5l-.4-1.3-.2-1.9 0-2.4 .2-2.1 .4-2.2 .6-2.1 .6-1.6 .8-1.6 .8-1.1 1.1-1.2 .9-.6 1.2-.5 .8 0 .9 .3 .8 .7"/><path class="g" d="M406.6 347.4l-.4 0-.5-.8-.5-1.3M406.8 334.2l.6-3 1.1-2.9 1.3-2.2 1-.9 .7-.5 1-.3"/><path class="b" d="M406.4 340.3l-.2-1.8 0-2.1 .2-2 .7-3.8 1.2-3.1 .7-1.3 .9-1.1 .9-.9 .9-.6 1-.3 .9 0 .9 .4"/><path class="r" d="M407.1 343l-.3 0-.3-.4-.5-1.5-.2-2.2"/><path class="m" d="M406.5 340.1l-.2-1.7 .1-3.7 .7-3.7 1.2-3.1 .7-1.3 .7-1 1-.9 .8-.6 1.1-.3 .7 0 .7 .3"/><path class="b" d="M410.8 316.4l1.2-.9 1.9-.8 1.3-.3"/><path class="r" d="M406.9 340.8l-.3-1.1-.2-1.7 0-2.1 .5-3.7 .4-1.8 .7-1.8 .7-1.4 .8-1.3 1-1 .8-.6 1-.4 .8-.1 .7 .2 .7 .6"/><path class="g" d="M411.8 310.7l1.1-.7 2.2-1 2.3-.4"/><path class="b" d="M412 311.3l1.7-.9 .9-.4 1.9-.4M407 340.4l-.3-1-.2-1.6 0-1.8 .5-3.7 .5-1.9 .6-1.6 .7-1.5 .7-1.1 .8-.9 .9-.7 1.1-.5 .8 0 .8 .2 .6 .5M406.9 344.5l-.4-.1-.3-.4-.6-1.9"/><path class="m" d="M406.8 339.3l-.2-1.5 0-1.9 .5-3.6 .4-1.7 .7-1.6 .6-1.3 .7-1.1 .9-.9 .7-.6 .9-.4 .7-.1 .8 .2 .6 .5"/><path class="r" d="M411.3 314.8l1.8-1.1 1.2-.4 1.3-.3M406.9 344.8l-.3 0-.4-.4-.6-1.8"/><path class="m" d="M406.9 344.9l-.3-.1-.4-.3-.6-1.8M407.5 331.3l1-2.5 1.2-1.9 .7-.9 .7-.5 .8-.3 .7-.1"/><path class="g" d="M410.1 318.6l1.8-1.5 1.9-.9 2.1-.3M406.8 337.5l.2-3.1 .6-3.1 1-2.6 1.2-2 .9-.9 .6-.4 .9-.4 .7 0 .7 .3M407.1 353l-.2 .8-.3 .4-.2 0-.4-.3-.7-1.2"/><path class="b" d="M407.1 353.2l-.2 .8-.3 .4-.2 0-.3-.2-.7-1M406.7 349.3l-.2 .4-.2 0-.3-.1-.5-.9M411.6 315.8l1.3-.7 1.9-.7 1.2-.1"/><path class="g" d="M410.6 319.6l1.6-1.2 1.7-.7 1.1-.2"/><path class="b" d="M407 349l-.5 .7-.2 0-.3-.1-.5-.9M411.5 316.5l1.7-1 1.3-.4 1.2-.1"/><path class="r" d="M406.8 349.3l-.2 .3-.4 0-.7-1M407.4 339.6l-.3-.8-.2-1.2 0-1.6 .4-3.3 .9-3.1 1.2-2.2 .7-.9 .8-.7 .8-.4 .8-.1 .5 .2 .6 .4 .6 1"/><path class="m" d="M412.2 315.2l1.2-.6 1.2-.4 1.7-.1M407 349.7l-.3 .5-.2 .2-.5-.2-.5-.9"/><path class="g" d="M411.4 316.1l2.2-1.3 1.5-.4 .8-.1M411.7 316.9l2-1 2-.4"/><path class="b" d="M407 348.4l-.3 .5-.3 .2-.4-.3-.5-.8"/><path class="m" d="M407.1 347.1l-.5 .7-.4-.1-.4-.6"/><path class="r" d="M407 350l-.2 1-.2 .5-.2 0-.3-.1-.6-.8"/><path class="g" d="M407 338.9l.2 .7-.3-.7-.1-1.4M406.8 347.3l-.1 .8-.2 .4-.2 0-.3-.2-.5-.9M407.3 345.3l-.6 .7-.4-.1-.4-.6"/><path class="r" d="M406.9 339.9l-.2-2.6 .2-3.1 .6-2.9 1-2.5 1.2-1.9 .7-.9 .7-.4 .8-.4 .6-.1 .6 .2 .6 .4 .6 1 .2 1.5"/><path class="m" d="M411.4 318l1.8-1 1.9-.3 .9 0"/><path class="g" d="M406.8 346.7l-.1 .7-.2 .4-.4-.1-.5-.8M406.9 347.7l-.2 .7-.2 .4-.4 0-.5-.8"/><path class="r" d="M407.2 338l.1-2.7 .3-1.8 .5-2.1 .7-1.6 .9-1.5 1-1 1.1-.4 .4 .1 .4 .2 .5 .8 .2 1.4"/><path class="m" d="M406.8 346l-.1 .7-.2 .3-.4-.2-.4-.7M407.9 333.2l.7-2.1 .8-1.6 .9-1.2 1-.5 .4 0 .4 .1 .5 .7"/><path class="b" d="M406.9 339.4l-.1-2.8 .3-2.8 .6-2.5 .9-2.4 1.1-1.8 1.4-1.2 .6-.4 .7-.1 .6 .2 .5 .4 .6 .9 .3 1.5"/><path class="r" d="M414.9 303.4l2.5-.6 2.5-.2"/><path class="b" d="M411.6 317.9l1.5-.8 1-.3 1.1-.2 1.5 .2"/><path class="g" d="M412.1 316l2.1-1 1.5-.3 .7 0"/><path class="b" d="M406.5 340.6l.2 .8-.3-1.1"/><path class="m" d="M415 303.4l2.5-.7 2.6-.1M406.4 340.3l.3 .8-.2-1M411.6 318.6l1.7-.8 1.8-.3 1.6 .4"/><path class="b" d="M408 337.5l-.2-.5-.1-1.8 .3-2.3 .6-2 .9-1.7 .9-1.1 1-.4 .5 0 .4 .2 .5 .8 .1 1.2-.2 1.6"/><path class="g" d="M415.3 301l1.8-.6 1.9-.4 1.9-.1"/><path class="r" d="M407.4 336.8l.3-2.2 .4-1.8 .9-2.5 .8-1.1 .7-.7 .8-.3 .6 .1 .5 .6 .1 1.2-.1 1.4"/><path class="g" d="M403.4 334l4 1.5 .3-.1 .3-.3 .8-2.7M408.8 332.4l.8-1.5 .8-.9 .4-.1 .3 0 .4 .5 .1 .8-.2 1-.3 1.3-.7 1.6-.9 1.5-.7 .9-.5 .2-.3-.2-.3-.5-.1-2 .4-2.3 .7-2.2 .9-1.6 1-1.1 .5-.3 .6-.2 .5 .1 .3 .2 .5 .8"/><path class="r" d="M413 315.9l1-.4 1.1-.2 1 0 1 .2M407.3 336.7l.2-.1 .1-.2 .7-3.8 .9-2.1 .6-.9 .7-.7 .7-.2 .5 .1 .4 .6 .1 1-.1 1.3-.4 1.5-.9 2.1-1.1 2-1 1.3-.7 .5-.4-.2-.3-.6-.2-1.1 0-1.3 .4-2.9 .8-2.7 1-2 1.3-1.5 .6-.5 .7-.2 .6 .1 .6 .3 .6 1 .2 1.4-.2 1.6"/><path class="m" d="M406.3 335.4l1.1 .4 .3-.1 .2-.2 .7-2.8 .8-1.8 .9-1 .5-.2 .4 0 .3 .5 .1 .8-.1 1.1-.3 1.3-.7 1.5-.8 1.5-.8 1-.6 .3-.3-.1-.2-.5-.1-1.8 .2-2.1M405.9 340.1l.6 1.1 .1 .8-.2-.8"/><path class="b" d="M406 340.6l.6 1.2 0 .7-.4-.9"/><path class="r" d="M405.9 340l.6 1 .2 .8-.3-1"/><path class="b" d="M405.9 340.3l.6 1.2 .2 .8-.4-.9"/><path class="g" d="M387.6 320.5l2.2 .4 3.2 .1 4-.5 2.8-.7 6.5-1.9 2.3-.5 1.4-.1 2 .1 1.8 .5 1.6 .9M406.4 343l.3 1.5 0 .5-.2 .3-.3-.1"/><path class="r" d="M412.4 320.6l1.2-.3 1.3 .1 1.1 .5M406.2 341.7l.4 1.4 .1 .5-.1 .3-.3-.2"/><path class="m" d="M406.3 343.1l.4 1.6 0 .6-.2 .3-.3-.2"/><path class="g" d="M406.3 342.4l.4 1.5 0 .5-.1 .4-.3-.2M407.4 360.6l.3 1.9 .8 1.9 1.5 1.9"/><path class="m" d="M406.2 342.3l.5 1.5 0 .6-.2 .3-.2-.2M406.3 343l.4 1.5 0 .6-.2 .3-.3-.1"/><path class="r" d="M403.5 335l3.7 2.1 .2-.3"/><path class="m" d="M406.4 343.2l.3 1.5 0 .6-.2 .3-.3-.1"/><path class="r" d="M403.7 335.8l3.4 2.4 .1-.2"/><path class="m" d="M412.6 319.6l1.4-.4 1.4 .1 1.3 .6M412.6 319.1l1.6-.4 1.5 .1 1.3 .6"/><path class="r" d="M412.8 317.4l1.9-.5 1.7 .1 1.6 .8"/><path class="b" d="M407.4 358.7l.1 2 .3 1.3 .9 2 1.4 1.9"/><path class="m" d="M412.7 320.3l1.3-.3 1.3 .2 1.1 .6"/><path class="r" d="M412.4 321.1l1.5-.3 1.1 .2 1 .6"/><path class="m" d="M412.8 319.3l1.5-.3 1.4 .2 1.2 .7M412.8 319.3l1.5-.3 1.4 .2 1.3 .6"/><path class="g" d="M413.1 318.6l1.6-.3 1.5 .2 1.4 .7M413.1 319.2l1.5-.3 1.4 .2 1.3 .7"/><path class="b" d="M396.2 328l2.6 .6 2.3 .4 2.7 .2 4.7 .1 1 .2 .6 .3 .6 .5 .3 .8 .1 1-.2 1.2-.5 1.5-.8 1.5-.8 1.1-.5 .3-.3-.2"/><path class="m" d="M412.6 328.6l.2 1.2-.2 1.6-.5 1.7-1 2.3-1.5 2.7-1.1 1.8-.5 .4-.4 .2-.4-.3-.4-.9"/><path class="b" d="M412.7 331.5l-.6 1.8-1 2.4-1.7 3-1.2 1.6-.4 .4-.3 .1-.5-.4"/><path class="g" d="M413 328.4l.2 1.4-.3 1.6-.5 1.8-1.2 2.7-1.8 3.2-1.3 1.9-.4 .5-.3 .1-.3-.1-.3-.2"/><path class="r" d="M412.4 331.5l-.5 1.6-.9 2.3-1.3 2.3-1.2 1.6-.7 .5-.4-.2"/><path class="m" d="M394.2 325.7l2.8 .5 3 .2 8.7-.3 1.6 .3 1 .6 .8 1 .4 1.3 0 1.8-.4 1.8-1 2.7-1.7 3.5-1.4 2.3-.4 .5-.4 .1-.3-.1-.2-.4"/><path class="r" d="M407.5 357.1l.1 2.2 .4 1.7 .8 2 1.3 1.8M412.5 323.3l.9 0 .9 .3 .8 .7 .6 1.4M394.8 326.1l2.7 .5 2.9 .2 8.2-.2 1.5 .3 1 .6 .7 .9 .4 1.3 0 1.5-.3 1.7-.9 2.6-1.5 3-1.3 2.1-.4 .5-.4 .1-.5-.4M415.6 313l1.3 0 1.2 .2 1.7 .8"/><path class="b" d="M392.2 323.6l2.9 .4 3.4 0 2.9-.4 5.4-.9 2.4-.1 1.4 .1 1.2 .5 .7 .4 .9 .8 .7 1.4 .4 1.8"/><path class="g" d="M403.7 336.9l2 1.7 1.2 1.5"/><path class="b" d="M403.6 336.4l1.9 1.5 1.4 1.5"/><path class="g" d="M382.2 318.8l3.1 1.2 2.3 .5"/><path class="r" d="M413.3 329.4l-.2 1.6-.5 1.8-1.1 2.6-1.8 3.2-1.5 2.4-.4 .5-.4 .2-.3 0"/><path class="m" d="M403.6 336.6l2 1.7 1.3 1.6"/><path class="r" d="M403.4 336.6l2.2 1.7 1.3 1.6"/><path class="b" d="M418.3 301.9l1.5-.1 1.5 .1 1.4 .2M415.2 314.4l1.3-.1 1.8 .4 1.6 1M414 319.9l1.1 .1 1.3 .6 1 1.1"/><path class="g" d="M412.5 324.4l.7 0 .6 .3 .6 .4 .6 1.2 .2 1.6"/><path class="b" d="M416.5 309.6l.9-.1 1.8 .2 .9 .2 1.7 .8M406.5 344.3l.4 2.1 0 2.2-.2 .7"/><path class="r" d="M413.5 321.8l1 .2 .9 .4 .8 1.1 .5 1.4"/><path class="m" d="M412.6 325.1l.5 .2 .7 .4 .5 1.1 .2 1.5-.2 1.9M413.9 319.8l1.3 .1 1.2 .6 .7 .7 .6 .9M414.1 325.3l.6 1 .2 1.6-.2 1.8-.6 2.2-1.6 3.6-3.2 5.8-1.9 3.9-.4 .5-.3 .2-.3-.1"/><path class="r" d="M413.7 330.5l-.6 2-1.1 2.5-1.8 3.4-2.2 3.8-.5 .6-.4 .2M414.2 326.9l.2 1.6-.2 1.9-.6 2-.9 2.1-1.2 2.3-3.8 6.8-.4 .6-.4 .2-.3 0"/><path class="g" d="M415 317.5l1.2 .2 1.5 .6 1.3 1.2"/><path class="r" d="M414.5 324.6l.6 1.1 .3 1.7-.1 2-.6 2-1.4 3.4-4.3 7.7-1.9 4.6-.3 .5-.3 .1-.4-.3"/><path class="b" d="M414.5 324.8l.6 1.3 .2 1.7-.2 1.8-.5 2-1.5 3.4-4.1 7.4-1.9 4.5-.3 .4-.3 .2-.3-.1"/><path class="g" d="M415.7 315.5l1.4 .1 .6 .2 1.3 .6 .5 .4M415.9 315.9l1.9 .4 1.7 1M415.9 314.3l1.5 .1 .7 .2 1.4 .6 .7 .4"/><path class="b" d="M415.7 315l1.7 .2 1.6 .7 1 .8M416 314.3l1.3 .1 1.8 .7 1.5 1.2"/><path class="m" d="M416.3 314.1l1.7 .3 1.1 .5 1 .6M407.3 351.6l.2 6.9 .5 2.7 .8 2 1.3 1.8 1.2 1.2"/><path class="r" d="M414.7 319.9l1.2 .4 .6 .4 .6 .7 .9 1.6"/><path class="g" d="M417.4 308.6l1.2-.1 2.3 .5 2.2 1"/><path class="b" d="M414.4 328.4l-.2 1.8-.6 2.2-.8 1.9-1.3 2.4-3.8 6.9-.4 .6-.4 .3"/><path class="g" d="M405.9 344.3l.9 2.4 .4 2.7 .2 3.2 0 8M402.4 334.3l2.3 1.8 1.8 1.9 .5 .9"/><path class="r" d="M414.5 328.2l-.2 1.9-.5 2-.8 2-1.2 2.2-4.2 7.7-.4 .6-.3 .2"/><path class="m" d="M416 316.7l.9 .3 .8 .3 .8 .6 1.2 1.4"/><path class="g" d="M416.4 314.7l.8 .1 1.4 .4 1.3 .8 .5 .5"/><path class="m" d="M414.3 330.2l-.6 2.1-.8 1.9-1 2.1-4.3 7.7-.7 .9"/><path class="g" d="M412.4 335.6l-3.1 5.7-2 4"/><path class="b" d="M414.4 322.5l.9 .5 .7 .9 .4 1.2 .2 1.8"/><path class="m" d="M414 324.1l.7 .6 .6 1.3 .2 1.5-.2 2.1"/><path class="b" d="M385.4 321.5l2.9 1.1 3.9 1"/><path class="m" d="M400.9 335.4l2.7 1.9 2.2 2.1 .6 .9"/><path class="r" d="M414.2 323.4l.8 .6 .7 1.3 .2 1.6-.1 1.9"/><path class="b" d="M401 335.5l2.7 2 2.1 2.1 .7 1"/><path class="g" d="M415.2 327.9l-.2 1.9-.5 1.9-1.3 3-3.9 7-.9 1.9-1.3 3.2-.5 .6"/><path class="b" d="M414.6 322.2l.9 .6 .7 1 .5 1.3 .1 1.8"/><path class="g" d="M413.6 325.3l.5 .5 .5 1.1 .1 1.5-.1 1.7-.7 2.2-1.5 3.3"/><path class="b" d="M414.5 323.7l.6 .7 .6 1.2 .2 1.9-.2 1.7"/><path class="r" d="M417.1 315.5l1 .4 .9 .5 .8 .7 .7 .9"/><path class="m" d="M420.1 302.6l2.5 .4 2.4 .9"/><path class="r" d="M415.7 325.7l.2 1.6-.2 1.8-.6 2.3-1.6 3.5-4.4 7.8-1 2.3-1.1 3.5-.5 .7"/><path class="b" d="M407.8 356.2l.6 3.1 .8 2 .9 1.5"/><path class="r" d="M419.9 302.6l1.3 .2 2.4 .6 2.4 1.1"/><path class="g" d="M403.5 339.5l1.5 1.8 1 1.8 .6 1.7 .2 1.9"/><path class="m" d="M403.3 339.2l1.4 1.6 1.1 1.6 .7 1.8 .3 1.8"/><path class="g" d="M403.7 339.9l1.4 1.7 1 1.8 .6 1.9 .1 2M403.7 340l1.4 1.8 1.1 1.9 .5 1.9 .2 2.1"/><path class="r" d="M401 335.7l2.8 2 1.1 1.1 1 1.2"/><path class="b" d="M416.7 316.8l1.4 .7 .8 .6 .7 .8 .6 1"/><path class="m" d="M400.8 335.6l3 2.2 1.1 1.2 1 1.1"/><path class="b" d="M401 335.8l2.8 2.2 1.3 1.3 .8 1"/><path class="r" d="M404.2 341l1.3 1.9 .9 2.2 .5 2.3 .1 2.6"/><path class="m" d="M415.3 329.6l-.6 2.1-1.5 3.4-4 7-.9 2-1.2 3"/><path class="r" d="M388.4 324l2.9 1.1 3.5 1"/><path class="b" d="M400.8 335.8l3.1 2.4 1.2 1.2 .9 1.2M405.7 344l.8 2 .5 2.2 .8 8"/><path class="m" d="M416.7 317.9l1.4 .9 1.1 1.4 .7 1.8M387.6 323.4l2.9 1.3 3.7 1"/><path class="g" d="M420.9 299.9l1.9 .1 2 .4 1.9 .7"/><path class="m" d="M414.7 332.8l-.9 1.8-3.6 6.3-1.2 2.3-1 2.5-1 4"/><path class="g" d="M401.3 336.9l3 2.6 1.1 1.4 .9 1.5"/><path class="m" d="M416.7 319.9l.5 .5 .7 .8 .8 1.9 .2 2.2"/><path class="g" d="M415.2 323.3l.6 .8 .5 1.4 .2 1.7-.2 1.8-.5 1.9"/><path class="r" d="M416 320.9l1.1 1.1 .7 1.6 .2 1.1 .1 1.2"/><path class="b" d="M414.5 327.6l-.1 2-.4 2.1-1.4 3.5-3.6 7.2-.9 2.3-1.1 3.7"/><path class="r" d="M415.8 328.8l-.5 2.2-.7 1.9-.9 1.7-3.5 6.1-1.2 2.3-.9 2.2-1.3 4.1"/><path class="m" d="M404.6 342.1l1.2 2 .8 2.3 .5 2.5 .2 2.7M416.4 320.8l1 1.3 .7 1.7 .2 2.1"/><path class="b" d="M390.4 325.8l2.9 1.2 2.9 1"/><path class="r" d="M400.9 336.2l1.9 1.6 1.4 1.2 1.2 1.4 .8 1.3"/><path class="b" d="M415.7 329.2l-.5 2.1-.7 1.8-1 1.9-3.3 5.7-1.2 2.2-.9 2.4-1.1 3.7"/><path class="g" d="M401.5 337.1l1.8 1.6 1.3 1.3 1.1 1.5 .7 1.5"/><path class="m" d="M416.9 319.9l.6 .5 .6 .9 .8 1.9 .2 2.3M415.2 323.9l.7 1.3 .2 1.8-.1 1.9-.5 2-.8 1.9M417 319.8l.5 .5 .7 1 .7 1.9 .2 2.3"/><path class="b" d="M416.8 326.9l-.1 1.6-.5 2.1-.8 1.9-.9 1.9-4.2 6.9-1.3 2.5-1 2.9-.4 3.3-.2 3.3 0 5.4"/><path class="r" d="M416 321.6l.9 1.2 .6 1.6 .1 1.9-.2 1.9"/><path class="m" d="M401.1 336.6l1.9 1.6 1.3 1.3 1.1 1.4 .8 1.4M417 319.4l.6 .5 .7 1 .4 .7 .4 1.3 .2 2.3"/><path class="r" d="M416.7 324.9l.2 1.6-.1 1.8-.6 2.2-.8 2.1-1 2-3.9 6.4-1.4 2.7-1 2.9-.5 3.2-.2 3.1 .1 4.2"/><path class="m" d="M401.3 337l1.8 1.6 1.4 1.5 1.2 1.6 .7 1.5M401.3 337l1.8 1.6 1.4 1.4 1.1 1.6 .7 1.5M401.1 336.9l1.9 1.5 1.4 1.5 1.2 1.6 .7 1.5"/><path class="g" d="M415.8 330.9l-.7 1.8-.8 1.7-4.2 7.1-1.4 2.8-.9 2.9-.7 5.8"/><path class="b" d="M416.6 326.9l-.1 1.6-.5 1.9-.7 2-.8 1.8-4.4 7.3-1.4 2.9-.9 2.9-.7 5.9"/><path class="g" d="M417.6 319.2l1.1 1.2 .8 1.6 .4 1.9M393.3 329.2l4.2 2.2 5.9 2.6"/><path class="r" d="M395.2 330.7l8.3 4.3"/><path class="m" d="M392.9 328.9l3.7 2.1 9.7 4.4"/><path class="g" d="M417.3 319.8l1 1.2 .5 .9 .4 1.1 .2 1.3 0 1.2"/><path class="b" d="M422.7 302.1l1.5 .4 1.4 .6 1.3 .7"/><path class="r" d="M393.1 329.3l2.8 1.6 11.4 5.8M418 317.8l1.3 1.3 .9 1.8 .3 1 .3 1.6"/><path class="m" d="M408 354.6l.7 2.8 .6 1.6 .6 1.2"/><path class="b" d="M406.6 347l.5 1.8"/><path class="r" d="M395.4 331.1l8.3 4.7"/><path class="m" d="M404 340.8l1 1.5 .8 1.7 .7 1.7 .5 1.9 1 7"/><path class="r" d="M408 354.4l.7 2.8 .6 1.5 .6 1.2"/><path class="b" d="M417.4 321.7l.7 1.5 .4 2.2-.2 2.5-.7 2.5"/><path class="r" d="M419.8 314l1.1 .7 .9 1 1.1 1.7 .8 2"/><path class="b" d="M402.2 337.5l1.5 1.7 1.1 1.6 .9 1.6 .8 1.9"/><path class="g" d="M379.1 316.9l1.4 1 1.7 .9M410 366.3l1.5 1.3 .7 .4"/><path class="r" d="M404 340.8l.9 1.5 .8 1.6 .7 1.7 .5 1.9 1.1 6.9"/><path class="m" d="M417.7 322.1l.4 1 .3 1.2 0 1.3 0 1.3-.6 2.7-1 2.6"/><path class="b" d="M419.9 315.7l1 .9 .8 1.1 .6 1.3 .5 1.4M395.5 331.5l8.1 4.9"/><path class="g" d="M420.2 315.6l1.1 1.2 .9 1.4 .7 1.6"/><path class="b" d="M421.8 310.7l.8 .5 .8 .5 1.3 1.5 1.1 1.6"/><path class="g" d="M415.4 318.8l1.3 1.3 .9 1.6 .5 1.8 .2 2"/><path class="b" d="M410.1 365.9l1.4 1.2 .6 .3"/><path class="m" d="M420.1 315.5l1.2 1.4 .7 1.1 .5 1.2 .5 1.9"/><path class="g" d="M419.5 317.3l1.3 1.7 .9 2.2 .3 1.6M419.5 316.8l1.5 1.7 .9 2.2 .4 1.6"/><path class="r" d="M417.4 328.2l-.6 2.5-.8 1.9-1.1 2.1-4.2 6.5-1.1 2-1 2.3-.6 2.5-.2 1.9 .1 2.1 .2 2.1 .4 2 .5 1.8 .7 1.5 .7 .9 .4 .3M405.5 344.2l.8 1.7 .6 1.9 1.2 6.6 .7 2.5 1 2.3 .6 .6M418 323l.3 1.1 .1 1.2-.2 2.2-.6 2.6-1.1 2.5-1.2 2.3-4.2 6.3-1.3 2.1-1 2.2-.6 2.1-.2 3.1 .4 3.3 .4 1.7 .6 1.4"/><path class="b" d="M420 316.7l.8 1 .7 1.1 .5 1.3 .3 1.3 .2 2.2M420.6 316.3l.9 1 .7 1.2 .5 1.4 .3 1.5"/><path class="r" d="M418.1 325.9l-.2 2.1-.7 2.5-.9 2-1.1 2.3-4.3 6.4-1.2 2.1-1 2.1-.5 2.3-.2 1.6 0 1.8 .4 3.6 .5 1.8 .6 1.4 .6 1"/><path class="g" d="M419 319.5l.9 1.6 .6 2 .1 2.2-.3 2.2M420.4 316.5l1 1.2 1.1 2.3 .5 1.7M405.6 344.4l.7 1.7 .6 1.8 1.3 6.4 .6 2.5 1 2.1 .5 .7"/><path class="m" d="M419.7 319.3l.8 1.9 .3 1.1 .2 1.7-.2 2.3"/><path class="r" d="M410.1 364.8l1.2 1.2 .7 .3"/><path class="m" d="M418.3 325.9l-.2 2.2-.8 2.6-.9 2-1.2 2.3-4.2 6.3-1.2 1.9-1 2.2-.6 2.1-.2 1.6 0 1.7 .4 3.5 .4 1.7 .6 1.4 .6 .9"/><path class="g" d="M400.6 337.8l2.5 2.4 1.6 2 1.2 2.1"/><path class="m" d="M405.5 344.2l.8 1.8 .5 1.8 1.4 6.4 .7 2.3 .9 2 .5 .6"/><path class="r" d="M420.5 318l1 2 .3 1.2 .3 1.8 0 1.3"/><path class="g" d="M423.1 310l2 1.5 1.6 2.1"/><path class="b" d="M405.5 344.4l.8 1.7 .6 1.9 1.3 6 .6 2.2 .9 2 .5 .5M382.6 319.8l2.8 1.7M401.9 339.4l1.4 1.6 1.1 1.4 .9 1.5 .7 1.4 .6 1.7M400.5 337.6l2.4 2.4 1.7 2 1.1 2"/><path class="m" d="M398.8 335.3l2.8 2.3 1.7 1.6"/><path class="g" d="M399 335.7l2.8 2.2 1.7 1.6M399.3 336l2.7 2.3 1.7 1.6M399.4 336.1l2.7 2.3 1.6 1.6"/><path class="b" d="M417.6 330.4l-1 2.3-1.2 2.2-4.3 6.4-1.3 2.2-1 2-.5 1.9-.2 1.4-.1 1.6 .4 3.3 .4 1.7 .5 1.4 .6 .9 .2 .3"/><path class="r" d="M385.6 322.4l2.8 1.6"/><path class="b" d="M420.2 319.9l.4 1.1 .5 2.4-.1 2.6-.2 1.3-.5 2"/><path class="m" d="M425 303.9l1.2 .6 2.1 1.7 1.9 2M418.9 325.3l-.2 2.4-.8 2.8-1 2.2-1.3 2.3-4.5 6.5-1.2 2-.9 1.8-.6 1.9-.3 2.8 .2 2.9 .8 2.9 .5 1M416.8 332.2l-1.2 2.3-4.7 7-1.2 2.1-1 2.2-.5 2.1-.2 2.9 .4 3.3 .4 1.6 .6 1.3 .5 .9 .4 .2M419.1 325.5l-.3 2.4-.7 2.4-1 2.2-1.3 2.4-4.6 6.6-1.3 1.9-.9 1.9-.6 1.9-.3 2.6 .2 2.8 .7 2.9 .5 1M419.1 325.5l-.3 2.4-.7 2.4-1 2.2-1.3 2.5-4.6 6.5-1.3 2-.9 1.9-.6 1.8-.3 2.5 .2 2.8 .7 2.9 .5 .9"/><path class="r" d="M399.8 336.7l2.5 2.3 1.9 2"/><path class="m" d="M400.3 337.4l2.6 2.5 1.7 2.2M419.3 325.2l-.2 2.5-.7 2.4-1 2.3-1.4 2.5-6 8.6-1 1.9-.5 1.7-.4 2.3 .2 2.7 .6 2.7 .4 1"/><path class="b" d="M387.6 324.2l2.8 1.6"/><path class="g" d="M405.4 344.5l.8 1.6 .6 1.9 1.5 5.7 .6 2 .7 1.6 .4 .4"/><path class="m" d="M384.9 321.9l2.7 1.5"/><path class="b" d="M410.1 362.8l1 1 .5 .2"/><path class="r" d="M400.6 338l2.2 2.3 1.5 1.9 1.2 2"/><path class="b" d="M405.4 344.5l.7 1.5 .7 1.9 2 7.6 .7 1.4 .3 .5"/><path class="g" d="M400.7 338.3l2.2 2.2 1.5 1.9 1.2 2"/><path class="b" d="M405.4 344.5l.8 1.6 .6 1.8 2 7.6 .8 1.7 .3 .3"/><path class="g" d="M419.4 325.5l-.3 2.7-.8 2.7-1.1 2.4-1.3 2.2-5.9 8.2-1 1.8-.6 1.8-.3 2.2 .1 2.4 .6 2.6 .4 .9"/><path class="r" d="M426 304.5l1.1 .7 2 1.8 1.7 2.1"/><path class="m" d="M419.9 322l.3 2 0 2.2-.6 2.7-1.2 3-1.5 2.7-1.9 2.7-4.3 5.5-1 1.6-.8 1.4-.6 2.2-.2 2.1 .3 2.5"/><path class="r" d="M405.3 344.4l.8 1.5 .6 1.9 2.1 7.6 .8 1.6 .2 .3"/><path class="m" d="M400.7 338.3l2.2 2.2 1.4 1.8 1.2 1.9"/><path class="b" d="M400.9 338.5l2 2.1 1.4 1.8 1.2 2"/><path class="g" d="M419.9 323.9l.1 2.1-.5 2.8-1 2.7-1.7 3.1-1.7 2.6-4.6 5.9-1 1.6-.7 1.4-.6 2.2-.1 2 .4 2.8 .3 1.1M426.7 301.1l1.9 .9 1.7 1.2 1.7 1.4"/><path class="m" d="M405.3 344.6l.8 1.5 .7 1.8 2 7 .6 1.3 .2 .4"/><path class="g" d="M395.1 329.1l1.2 1 6.1 4.2"/><path class="b" d="M426.9 303.8l1.3 .9 1.2 1.1 2.2 2.4"/><path class="m" d="M411.3 366.2l.7 .3 .6 .1"/><path class="b" d="M401.2 339l1.8 2 1.3 1.7 1.1 1.8"/><path class="g" d="M401.1 338.9l1.8 2 1.5 1.9 1 1.7"/><path class="b" d="M401.1 338.9l1.8 1.9 1.4 1.8 1.1 1.9"/><path class="r" d="M401 338.8l1.9 2 1.4 1.9 1 1.7"/><path class="g" d="M418.3 325.5l-.3 2.7-.7 2.6-1.4 2.9-1.8 3-4 5.8-.9 1.6-.7 1.6-.5 2.2 0 2.5 .5 2.7 .4 1.2 .3 .6M393.3 330.3l10.4 6.6"/><path class="m" d="M393 329.9l10.6 6.7"/><path class="r" d="M420.8 323.5l-.1 2.2-.6 2.8-1.2 3.2-1.6 2.8-1.9 2.7-4.7 5.8-.9 1.4-.8 1.4-.7 1.9-.2 1.9 .2 2.2 .4 1.7M393 329.9l10.4 6.7"/><path class="m" d="M401.1 339.1l1.8 1.9 1.4 1.8 1 1.8"/><path class="g" d="M420.3 327.5l-.6 2.3-1.2 2.7-1.4 2.5-1.9 2.6-4.6 5.5-.9 1.4-.8 1.4-.6 1.9-.2 1.9 .1 2.1 .6 1.7M401.5 339.7l1.6 1.8 1.3 1.7 1 1.6"/><path class="m" d="M420.8 326.3l-.7 2.9-1.1 2.6-1.7 2.9-2 2.8-4.7 5.7-1.6 2.6-.6 1.7-.3 1.8 .1 2.1 .4 1.8"/><path class="g" d="M405.4 344.8l1.3 3.2 2 6.4 .5 1.1 .4 .4M401.9 340.3l1.4 1.6 1.1 1.6 .9 1.5 1.3 2.9"/><path class="m" d="M409.9 360.2l.8 .9 .5 .1"/><path class="g" d="M400.9 339l1.7 1.7 1.3 1.6 1 1.4"/><path class="b" d="M422.8 320.4l.3 1.5 0 1.5-.3 3.2-.4 1.5-.8 2.2-1.7 3.2"/><path class="g" d="M422.9 319.8l.4 1.8 .2 2.9-.3 1.9-.8 2.8-.7 1.8"/><path class="r" d="M409.9 359.9l.6 .7 .6 .2M401.6 339.9l1.6 1.7 1.2 1.7 .9 1.6M405.3 344.9l1.4 3 1.8 5.9 .4 .9 .3 .3"/><path class="b" d="M420.3 329.3l-1.3 3-1.6 2.6-2 2.7-4.8 5.7-1.6 2.5-.7 1.7-.2 1.7 0 1.9 .4 1.7"/><path class="g" d="M412.2 368l.6 .1 .7-.1"/><path class="b" d="M402 340.5l1.3 1.5 1.9 3 1.1 2.3"/><path class="r" d="M394 331l7 4.7"/><path class="m" d="M393.7 330.7l7.2 4.7"/><path class="b" d="M394.3 331.4l6.7 4.4M393.9 330.9l7.1 4.6"/><path class="r" d="M423.7 319.4l.3 2.2 0 3-.6 3-1 2.7-1.4 2.5"/><path class="g" d="M422 322.8l.1 1.6-.3 2.6-.5 1.7-.5 1.7-1.5 3-2.2 3.1-2.2 2.6-4.4 4.7-1.6 2-.6 1.2-.4 1.3-.1 1.2 0 1.6"/><path class="b" d="M412.1 367.4l.7 .1 .5-.1M425.8 314.8l.5 1 .7 2 .5 3.1-.2 3.3"/><path class="r" d="M422.1 324.3l-.2 1.9-.9 3.1-1.5 3.4-1.9 2.8-2.2 2.8-4.8 5.2-1.6 2.2-.6 1.3-.4 1.4-.2 1.3 .2 1.6M409.4 357.1l.5 .9 .5 .3"/><path class="m" d="M394.1 331.1l6.7 4.5"/><path class="g" d="M395.5 332.7l5.8 4.2M422.3 322.3l.1 1.8-.3 2.6-.4 1.8-.6 1.6-1.5 3.1-2.2 3.3-2.2 2.6-4.7 4.7-1.6 2-.6 1.1-.4 1.1-.2 1.1-.1 1.5"/><path class="b" d="M394.4 331.5l6.4 4.3M406.3 347.3l2 5.5 .6 1.2"/><path class="g" d="M406.6 347.9l1.9 5.7 .4 .9 .3 .2"/><path class="b" d="M422.5 323.6l-.3 3-.3 1.5-.8 2.1-1.6 3.1-1.8 2.7-2.6 3-4.6 4.7-1.5 1.9-.6 1.1-.5 1.2-.2 1.2-.1 1.4"/><path class="g" d="M395.7 333l5.8 4.1"/><path class="r" d="M412 366.3l.5 .1 .5-.2"/><path class="m" d="M395.3 332.5l5.8 4.1M395.7 332.9l5.6 4.1"/><path class="b" d="M423 321.4l.1 1.5 0 1.6-.5 3.1-.5 1.5-.9 2.1-1.8 3.1-2 2.6-2.3 2.5-4.9 4.7-1.3 1.5-1.1 1.8-.5 2.2"/><path class="r" d="M395 332.1l5.9 4.1"/><path class="m" d="M395.7 332.9l5.6 4.1"/><path class="g" d="M423 321.7l.1 1.9-.1 1.8-.3 1.9-.6 1.8-.6 1.8-1.8 3.1-2.4 3.2-2.3 2.5-4.9 4.6-1.4 1.6-1 1.6-.5 2M426.7 313.6l.7 1.1 1 2.6 .5 2.8 .1 1.4"/><path class="m" d="M423 321.1l.2 2.8-.4 2.8-.9 2.7-1.1 2.5-1.7 2.7-1.4 1.9-1.8 1.9-5.2 5.2-1.6 1.8-.7 1-.5 1-.6 2.3M395.6 332.8l5.5 4.1M408.4 352.6l.4 1.2 .3 .6"/><path class="g" d="M378.4 315.7l-.1 .2 .1 .2 .7 .8"/><path class="r" d="M391.4 328.3l3.8 2.4M400 335.6l.4 .7 3.6 4.5"/><path class="b" d="M398.6 333.6l.5 .7 3.1 3.2M381.7 318.8l.3 .5 .6 .5"/><path class="m" d="M399.9 335.5l.3 .6 3.8 4.7"/><path class="g" d="M390.7 327.5l2.6 1.7"/><path class="r" d="M392.1 329l3.3 2.1"/><path class="b" d="M402.3 341.1l1.2 1.3 1.8 2.8 1.1 2.3 1.6 4.6 .5 .9-.2-1"/><path class="r" d="M410.1 358.9l.3 .2 .2 .1 .2-.2"/><path class="b" d="M392.8 329.8l2.7 1.7"/><path class="r" d="M384.4 321.3l.4 .5 .8 .6"/><path class="g" d="M403.6 342.8l1.6 2.5 1.2 2.3 1.9 5-.2-1"/><path class="b" d="M399 336.9l1 .8 1.9 1.7"/><path class="m" d="M390.6 327.4l2.3 1.5"/><path class="b" d="M386.5 323.3l1.1 .9"/><path class="g" d="M398.1 335.7l2.5 2.1"/><path class="r" d="M391.2 328l1.9 1.3"/><path class="g" d="M396.9 334.3l2.5 1.8M396.6 334l2.4 1.7"/><path class="m" d="M396.2 333.5l2.6 1.8"/><path class="g" d="M396.8 334.2l2.5 1.8M421.7 331l-1.3 2.4-2 2.8-2 2.3-2.2 2.2-4.2 3.7-1.3 1.3-1 1.4-.7 1.8-.4-.4"/><path class="m" d="M384.1 320.9l.1 .4 .7 .6M430.2 308.2l1.5 2.4 1.2 2.6 .7 2.8"/><path class="b" d="M403.6 342.7l1.6 2.6 1.1 2.2 1.9 4.8-.9-2.5"/><path class="m" d="M403.6 342.7l1.6 2.6 1.1 2.2 1.8 4.6-.9-2.4"/><path class="b" d="M403.5 342.6l1.7 2.6 1.1 2.2 1.9 4.9-1-2.6"/><path class="m" d="M410 358.3l.3 .2 .2 0 .2-.5"/><path class="b" d="M411.6 364l.4 .1 .4-.2 .3-.5"/><path class="r" d="M397.3 334.8l2.5 1.9M410.4 359.8l.4 .2 .3-.1 .1-.3"/><path class="b" d="M410.2 358.7l.3 .2 .3-.5"/><path class="g" d="M410.3 359.6l.5 .2 .2-.1 .2-.3"/><path class="b" d="M419.9 333.5l-2.4 3.2-2.6 2.9-4.6 4.4-1.5 1.7-1 1.8-.5 2.1-.2-.2-2.1-3.7"/><path class="m" d="M409.3 355.8l.4 .3 .1-.3M412.6 366.6l.5-.2 .4-.4"/><path class="r" d="M410.8 360.6l.3 0 .3-.6"/><path class="g" d="M399.1 337l1.6 1.3"/><path class="r" d="M402.5 341.3l1.1 1.4 1.6 2.6 1.1 2.2 2 5-.3-.9-.7-1.7"/><path class="m" d="M409.5 356.3l.4 .3 0-.4"/><path class="b" d="M409.8 357.4l.3 .1 .2-.4"/><path class="g" d="M432 304.6l1.4 1.7 1.4 1.8 1.1 2"/><path class="r" d="M430.8 309.1l1.4 2.5 .9 2.7 .6 2.7"/><path class="g" d="M406.6 348.5l-4.1-6.9 1.4 1.6 1.4 2.3M405.3 345.5l1 2.1 1.6 3.9-1-2.3"/><path class="m" d="M409.6 356.8l.4 .2 .1-.5M410.3 359.1l.4 0 .2-.5"/><path class="g" d="M403.1 341.6l1.5 2.5 1.1 2 2.3 5.8-1-2.6"/><path class="m" d="M409.5 356.5l.4 .2 .1-.5"/><path class="b" d="M431.6 308.2l.9 1.4 1.4 3.1 .9 3.2"/><path class="r" d="M409.8 357.3l.3 0 .1-.4M421 332.8l-1.8 2.7-1.5 1.8-1.9 1.8-7 6.2-1.1 1.4-.9 1.7-.5-.6-3.2-5.3 .9 1.2 1.2 1.9 2 4.4-1.9-3.8"/><path class="b" d="M409.9 357.5l.3 .1 .1-.5"/><path class="g" d="M409.2 355.4l.3 .3 .1-.5"/><path class="b" d="M410.1 358l.2 0 .2-.6"/><path class="g" d="M410 357.7l.2 0 .2-.6M408.8 354.2l.4 .4-.3-1.3"/><path class="m" d="M409.6 356.6l.2 0 .1-.4-.1-1"/><path class="b" d="M427.3 324.2l-.6 3.1-1.1 2.9-1.5 2.5-2.1 2.9-2.2 2.3-2.2 1.8-2.4 1.6-2.5 1.2-2.3 .9-2.1 .4-1.7 .1-2.3-.3 .1 .5 2.1 4.3-3.4-5.9 .9 1.2 1.2 1.9 2.1 4.5-2-3.9"/><path class="g" d="M404.9 345.5l-2.9-4.6 1.6 1.9"/><path class="b" d="M413.3 367.4l.5-.4 .3-.6M405 345.6l-3-4.6 1.6 1.7"/><path class="m" d="M411.2 361.2l.3-.1 .1-.3 .1-1.3"/><path class="b" d="M405 345.7l-3-4.8 1.5 1.7"/><path class="m" d="M404.8 345.4l-2.8-4.4 1.6 1.7"/><path class="r" d="M411.1 360.8l.3-.2 .1-.3 0-1.3M413 366.2l.4-.4 .3-.8"/><path class="g" d="M395.5 328.9l-.8-.2 .4 .4M409.2 354.9l.1-.3-.2-.8M413.5 368l.6-.5 .4-.8"/><path class="r" d="M410.4 358.3l.2-.5-.1-1"/><path class="m" d="M410.3 358.1l.2-.4-.1-1"/><path class="b" d="M405.3 346.2l-3.6-5.7 .6 .6"/><path class="r" d="M405.3 346.2l-3.4-5.5 .6 .6"/><path class="g" d="M404.9 345.5l-3.9-6 .9 .8"/><path class="b" d="M404.9 345.5l-3.7-5.6 .8 .6"/><path class="g" d="M409.6 355.9l.1-.5-.2-.8"/><path class="b" d="M407.3 349.6l-.2-.2-2.1-3.8"/><path class="g" d="M429 321.5l-.2 2.8-.5 2.8-.4 1.3-1.1 2.5-2 3.2-2.2 2.6-2.2 2.1-2.9 2-2.5 1.2M407.2 349.5l-.2-.3-2.1-3.7"/><path class="r" d="M408 351.3l-1.4-2.8"/><path class="m" d="M407.3 349.7l-2.5-4.3"/><path class="g" d="M407.8 351.1l-1.3-2.8M406.5 348.3l-1.5-2.7-4.5-6.7 1 .8"/><path class="r" d="M409.2 355l.1-.3-.2-.8-.7-2.2"/><path class="b" d="M407.6 350.5l-2.7-5"/><path class="r" d="M406.6 348.5l-1.5-2.7-4.4-6.7 .9 .8"/><path class="g" d="M407.6 350.6l-2.7-5.1"/><path class="b" d="M408.5 352.8l-.4-1.1-.8-1.9"/><path class="r" d="M408.7 353.5l-.2-1.2-.9-1.9"/><path class="m" d="M408.6 353.2l-.3-1.2-.8-1.9"/><path class="g" d="M415 342l-2.7 .9-2.2 .3-2.1-.2-1.9-.5-3.2-1.4 .2 .5"/><path class="m" d="M409.1 354.4l-.3-1.2-.8-2.2"/><path class="b" d="M408.9 354l-.3-1.2-.8-2.1"/><path class="g" d="M408.8 353.5l-.4-1.2-.8-2.1M409.2 354.7l-.2-1.2-.9-2.3"/><path class="r" d="M410.8 359l.1-.4 0-1.1-.4-1.6"/><path class="g" d="M407 349.3l-2-3.7-2-3.2-3.2-4.5 1.3 1"/><path class="m" d="M407.2 349.7l-1.8-3.4-2-3.3-3.4-4.8 1.1 .9"/><path class="b" d="M407.3 349.8l-2-3.7-2.1-3.4-3.5-4.9 1.5 1.2"/><path class="g" d="M406.9 349.2l-1.8-3.4-1.9-3-3.1-4.4 .8 .6"/><path class="b" d="M407.2 349.7l-1.9-3.7-2.2-3.5-3.4-4.7 1.4 1.1"/><path class="g" d="M379.9 315.9l-.7-.2-.8 0"/><path class="r" d="M407.3 349.9l-2-3.8-2.2-3.4-3.4-4.9 1.3 1"/><path class="m" d="M413.5 366l.3-.8 .1-.9M433.6 316l.4 2.8 0 2.8-.2 1.4-.5 2.7-.8 2.5-1.7 3.3"/><path class="b" d="M407.3 349.8l-2.1-3.9-2.4-3.8-3.6-4.9 1.7 1.3"/><path class="g" d="M435.9 310.1l.9 2.2 .7 2.2 .5 2.3 .2 2.3"/><path class="r" d="M433.7 317l.2 2.8 0 1.4-.3 2.7-.6 2.6-1.4 3.5-1.8 3"/><path class="m" d="M407.5 350.1l-2.3-4.2-2.5-3.9-3.7-5 1.7 1.3"/><path class="r" d="M407.6 350.4l-2.2-4.3-2.9-4.4-3.7-5.1 1.8 1.4"/><path class="m" d="M409.8 355.8l-.2-.9-.8-2.6"/><path class="b" d="M407.8 350.7l-2.6-5-3-4.5-4.1-5.4 2.4 1.8M410.8 358.4l0-1-.3-1.4M387.9 324l-1.1-.7-.3 0"/><path class="m" d="M409.9 356.2l-.1-.9-.9-2.8M410.7 358l-.1-1.1-.4-1.6"/><path class="r" d="M411.2 359.6l0-1.3-.4-1.7"/><path class="g" d="M409.6 355.2l-.2-.9-.9-2.5"/><path class="m" d="M410 356.2l-.2-.9-.9-2.9"/><path class="g" d="M392.2 328.6l-1.5-1.1"/><path class="m" d="M410.1 356.5l-.2-1-.9-2.9"/><path class="r" d="M410.2 356.9l-.1-1-.9-3"/><path class="g" d="M411.2 359.4l0-1.3-.3-1.5"/><path class="b" d="M383.5 319.3l-1-.5-.8 0M410.3 357.1l-.1-1.1-1-3.1M410.3 357.1l-.1-.9-.9-3.1"/><path class="r" d="M392.6 329.2l-1.4-1.2M392.9 329.5l-1.5-1.2M411.4 360l0-1.2-.3-1.8"/><path class="b" d="M434.8 315.9l.4 3.4-.1 3.3-.6 3.1-.9 2.9-.6 1.4"/><path class="r" d="M386.1 322l-1.2-.6-.5-.1"/><path class="m" d="M408 351l-1.2-2.4-1.4-2.6-3.3-5-4.2-5.4 2.4 1.8M385.8 321.7l-1.2-.7-.5-.1"/><path class="b" d="M410.5 357.4l-.2-1.1-.8-2.9"/><path class="m" d="M410.9 358.6l-.1-1.3-.9-3.2"/><path class="g" d="M410.4 357.1l-.1-1-1.1-3.2M408.1 351.6l-.8-1.9-2.3-4.2"/><path class="b" d="M408.3 352l-.8-1.8-2.2-4.2M412.7 363.4l.2-1.4-.2-2"/><path class="g" d="M405 345.5l-2.4-3.6-3.5-4.9"/><path class="b" d="M405.3 346l-2.5-3.9-3.8-5.2"/><path class="g" d="M407.6 350.2l-2.7-4.9-2.8-4.4-4-5.2"/><path class="b" d="M414.1 366.4l.2-.9 0-2.3"/><path class="g" d="M409.1 353.8l-.9-2.5-1.3-2.7M408.9 353.3l-.8-2.3-1.3-2.5"/><path class="r" d="M413.7 365l.1-.8-.1-2.5M429.8 333l-2 2.5-2.2 2-2.8 2-2.7 1.3-2.5 .7-2.4 .3-2.6-.2-2.4-.7-2.1-.8-2.7-1.5-4.4-2.7-.7-.3-.3 0"/><path class="m" d="M430.8 331.5l-1.9 2.8-2.1 2.3-2.2 1.8-2.8 1.7-2.1 .9-2.5 .6-2.3 .2-2.7-.3-2.3-.7-2.2-.9-2.3-1.3-4.3-2.7-.9-.4-.3 0"/><path class="g" d="M409.5 354.6l-.9-2.5-1.3-2.9"/><path class="m" d="M394.2 330.5l-2.2-2-1.4-1.1"/><path class="r" d="M408.4 351.7l-1.4-2.8-1.5-2.7-3.6-5.5-4.6-5.9"/><path class="m" d="M409.8 355.2l-1-2.8-1.4-3.2"/><path class="g" d="M406.8 348.5l-1.8-3.2-3.4-5.2-4.7-5.8"/><path class="m" d="M411.7 359.5l-.3-1.8-.6-2.2"/><path class="r" d="M411.5 359l-.3-1.8-.7-2.2"/><path class="g" d="M408.1 351.2l-1.2-2.5-1.7-3.2-1.9-2.9-2-2.9-4.5-5.5M414.5 366.7l.2-1.3-.1-2.6"/><path class="b" d="M433 330l-1.4 2.5-1.5 2.1-2.6 2.7-2.5 1.9-1.7 1-1.7 .7-2.4 .7-2.2 .3-2.7-.2-2.5-.6-1.8-.7-2.2-1.1-2.5-1.6-5.3-3.5-1-.5-.4-.1"/><path class="m" d="M410.4 356.7l-.9-3.2-1.7-3.7"/><path class="r" d="M410.5 356.8l-.9-3.2-1.7-3.7"/><path class="g" d="M406.9 348.6l-1.8-3.3-1.9-3-2.1-2.9-4.5-5.4M408.5 351.8l-1.4-2.9-2-3.7-2.1-3.3-2.4-3.2-2.2-2.7-2.7-3"/><path class="m" d="M408.8 352.3l-1.6-3.3-1.8-3.2-1.9-3-2.1-3-2.3-2.9-2.9-3.4"/><path class="g" d="M438.2 319.1l0 2.3-.2 2.2-.4 2.2-.5 2-.7 2-.9 1.8-.9 1.7-2.2 2.9-1.1 1.2M407.3 349.2l-2-3.7-2.2-3.4-2.4-3.3-2.3-2.9-2.9-3.2"/><path class="m" d="M408.9 352.5l-1.4-3.1-1.9-3.5-2-3.2-2.6-3.6-2.5-3-2.8-3.2M408.9 352.4l-1.5-3.2-2-3.5-2-3.2-2.6-3.7-2.5-3-2.7-3"/><path class="b" d="M403.2 342.1l-2.8-4-2.8-3.3-3.3-3.4"/><path class="m" d="M407.4 349.2l-1.9-3.4-2-3.2-2.6-3.6-2.2-2.6-3-3.5M410.2 355.3l-.6-1.8-1.8-3.9M409 352.6l-1.5-3.3-2-3.6-2.2-3.4-2.3-3.2-2.6-3.2-3.1-3.4"/><path class="b" d="M410.5 356l-.7-2-1.9-4.4M403.2 341.9l-3.1-4.1-2.8-3.5-3.4-3.4"/><path class="r" d="M409.2 352.9l-1.6-3.4-2-3.6-2.2-3.5-2.8-3.9-2.7-3.2-2.9-3.2M410.5 355.9l-.6-1.9-1.9-4.1"/><path class="g" d="M383.2 317.7l-1.3-.8-2-1"/><path class="b" d="M409.2 352.9l-1.9-4-2.1-3.7-2.1-3.3-2.9-3.9-2.7-3.2-3.1-3.3"/><path class="g" d="M410.9 356.6l-.7-2.1-1.1-2.8"/><path class="m" d="M413.9 364.3l-.1-2.5-.8-3.2"/><path class="r" d="M410.8 356.6l-.6-2.1-1.9-4.4"/><path class="g" d="M409.2 352.9l-1.6-3.7-2.7-4.7-2.3-3.5-3.1-4.1-2.9-3.4-3.3-3.2"/><path class="m" d="M407.8 349.8l-2.2-4.1-2.4-3.8-3.2-4.3-2.9-3.4-3-3.1"/><path class="r" d="M407.9 349.9l-2.2-4-2.4-3.8-3.2-4.3-3-3.6-3.1-3.2M411.1 357l-.7-2.1-2-4.7"/><path class="m" d="M407.8 349.6l-2.4-4.3-2.6-4-2.8-3.8-3.2-3.6-3.1-3.2M405.6 345.5l-2.7-4.2-3.1-4.1-3.4-3.9-3.4-3.4M388.5 323.6l-2.7-1.9"/><path class="b" d="M407.9 349.6l-2.4-4.3-3.1-4.7-2.8-3.7-3.2-3.7-3.6-3.4"/><path class="r" d="M408 349.9l-2.4-4.5-2.8-4.2-3-4-3.4-3.9-3.4-3.4"/><path class="b" d="M409.3 353.1l-1.8-4-2.1-3.7-2.2-3.3M409.5 353.4l-1.9-4.1-2.2-3.9-2.2-3.5"/><path class="g" d="M431.3 337.4l-2.4 2-2.5 1.4-1.2 .6-2.3 .7-2.2 .4-1.1 0-2.1-.2-2-.4-2.9-1.1-1.8-1-2.7-1.7-11.1-8.3-1.5-.9"/><path class="r" d="M408.3 350.1l-2.7-4.8-3-4.6-3.3-4.3-3.7-4.1-3.5-3.3"/><path class="m" d="M409.9 354.1l-1.8-4.1-2.5-4.5"/><path class="b" d="M412.7 360l-.8-3-1.2-3.2"/><path class="r" d="M392 326.8l-3.4-3-2.5-1.8"/><path class="g" d="M409.1 351.7l-1.2-2.5-2.8-4.9-3.6-5.3-3.2-4.1-3.8-4.1-2.3-2.2"/><path class="r" d="M408.4 350.2l-2.9-5.2-3.2-4.8-3.5-4.5-3.8-4.3-2.1-1.9M405.6 345l-3.3-4.9-3.6-4.6-4-4.3-2.1-2"/><path class="b" d="M390.4 324.5l-3.4-2.9-3.5-2.3"/><path class="m" d="M410.8 355.5l-.9-2.3-1.2-2.6-3-5.5"/><path class="r" d="M410.5 355l-2-4.7-2.9-5.3M413.7 361.7l-.7-3.1-1.1-3.2"/><path class="b" d="M414.3 363.2l-.7-3.5-1.2-3.9"/><path class="m" d="M405.7 345.1l-3.5-5.2-3.8-4.9-4.2-4.5"/><path class="g" d="M387.8 321.2l-4.6-3.5M414.6 362.8l-.9-3.9-1.4-4"/><path class="b" d="M410.7 353.8l-1.3-2.9-1.6-3.3-2.1-3.5-2.5-3.7-2.7-3.7-1.9-2.4-2.9-3.3-2.8-2.9-2.5-2.2-2.5-1.9"/><path class="m" d="M413 358.6l-1.2-3.4-1.8-4.1"/><path class="r" d="M411.9 355.4l-1.8-3.9-1.7-3.4-2.1-3.6"/><path class="m" d="M410 351.1l-1.8-3.5-2.2-3.8-2.6-3.9-3-3.9-2-2.6-3.2-3.5-3.1-3.1-3.6-3.2"/><path class="r" d="M406.3 344.5l-2.5-3.8-2.8-3.9-3-3.7-3-3.4-3-2.9"/><path class="b" d="M412.4 355.8l-1.5-3.6-2.1-4-2.6-4.5M406.2 343.7l-3.2-4.8-2.3-3.2-3.9-4.6-2.6-2.9-3.8-3.7"/><path class="g" d="M412.3 354.9l-2.1-4.8-3.1-5.6M407.1 344.5l-2.5-4-3-4.2-3.3-4.2-3.5-4.1-3.6-3.7-3.4-3.1"/></g><path d="M396.4 403L514.7 370.7M396.4 403L305.6 360.9M305.6 360.9L305.6 269.65M396.4 403L399.12 404.26M396.4 403L393.51 403.79M420.06 396.54L422.78 397.8M378.24 394.58L375.35 395.37M443.72 390.08L446.44 391.34M360.08 386.16L357.19 386.95M467.38 383.62L470.1 384.88M341.92 377.74L339.03 378.53M491.04 377.16L493.76 378.42M323.76 369.32L320.87 370.11M514.7 370.7L517.42 371.96M305.6 360.9L302.71 361.69M305.6 351.77L302.88 350.51M305.6 333.52L302.88 332.26M305.6 315.27L302.88 314.01M305.6 297.02L302.88 295.76M305.6 278.77L302.88 277.51" stroke="#858585" stroke-width=".8" fill="none"/><text x="402.4" y="415.5">-40</text><text x="389.7" y="414.5" text-anchor="end">-40</text><text x="426.06" y="409.04">-20</text><text x="371.54" y="406.08" text-anchor="end">-20</text><text x="449.72" y="402.58">0</text><text x="353.38" y="397.66" text-anchor="end">0</text><text x="473.38" y="396.12">20</text><text x="335.22" y="389.24" text-anchor="end">20</text><text x="497.04" y="389.66">40</text><text x="317.06" y="380.82" text-anchor="end">40</text><text x="520.7" y="383.2">60</text><text x="298.9" y="372.4" text-anchor="end">60</text><text x="299.4" y="353.77" text-anchor="end">0</text><text x="299.4" y="335.52" text-anchor="end">20</text><text x="299.4" y="317.27" text-anchor="end">40</text><text x="299.4" y="299.02" text-anchor="end">60</text><text x="299.4" y="280.77" text-anchor="end">80</text><text x="457.4" y="421" text-anchor="middle" font-size="11" font-style="italic">x</text><text x="341.7" y="418.6" text-anchor="middle" font-size="11" font-style="italic">y</text><text transform="translate(284.3 315.8) rotate(-90)" text-anchor="middle" font-size="11" font-style="italic">z</text><rect x="422.2" y="242.5" width="87.5" height="44.3" fill="#fff" stroke="#666" stroke-width=".6"/><path d="M424.5 248.75h18.5" stroke="#f00" stroke-width="1" fill="none"/><text x="445.8" y="252.45" font-size="9.1">{0.3,0.3,0.3}</text><path d="M424.5 259.35h18.5" stroke="#00f" stroke-width="1" fill="none"/><text x="445.8" y="263.05" font-size="9.1">{0.4;0.4;0.4}</text><path d="M424.5 269.95h18.5" stroke="#0f0" stroke-width="1" fill="none"/><text x="445.8" y="273.65" font-size="9.1">{0.2;0.2;0.2}</text><path d="M424.5 280.55h18.5" stroke="#f0f" stroke-width="1" fill="none"/><text x="445.8" y="284.25" font-size="9.1">{0.35;0.35;0.35}</text><text x="421.2" y="438.6" text-anchor="middle" font-size="12">(<tspan font-weight="bold">d</tspan>)</text></g>
</svg>
</body></html>
